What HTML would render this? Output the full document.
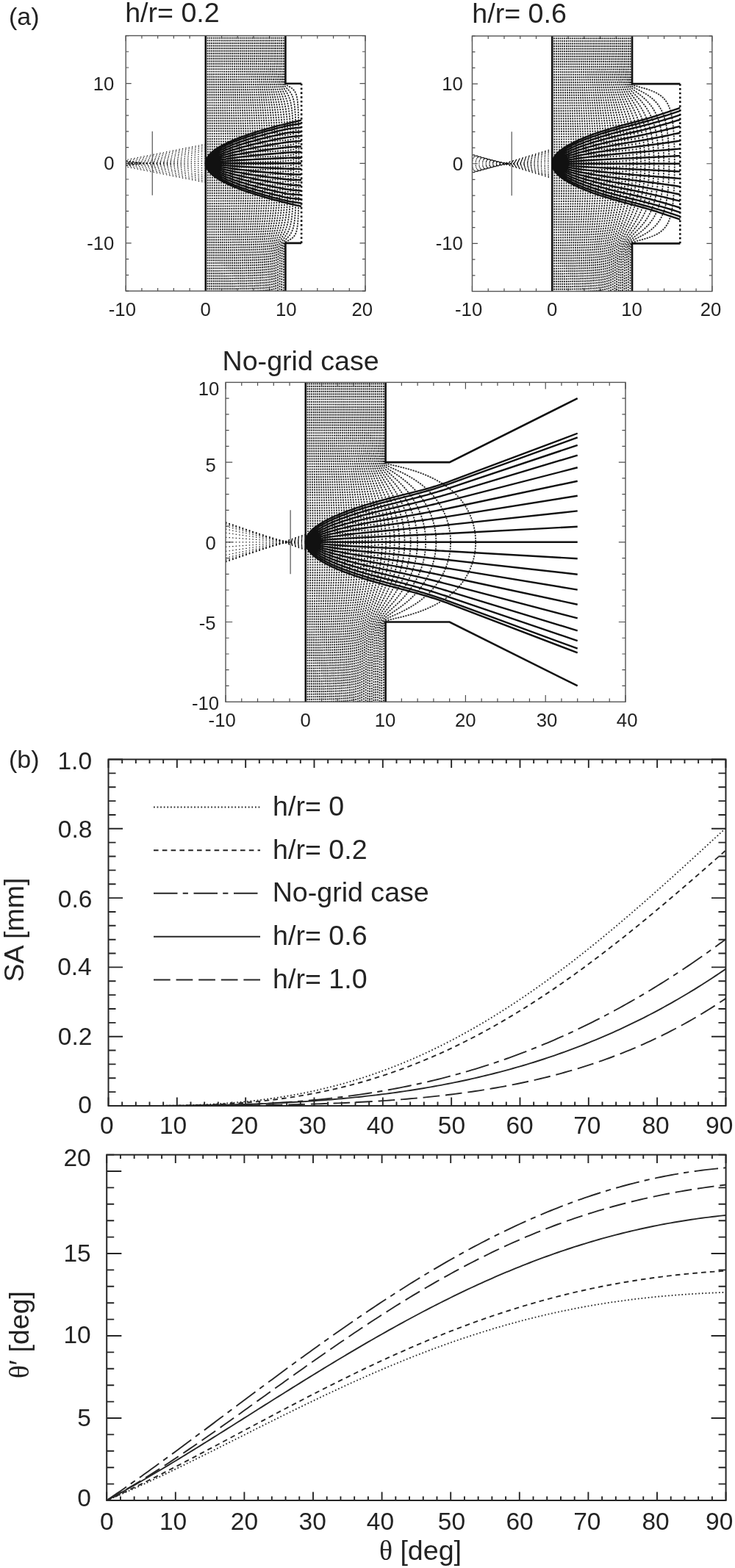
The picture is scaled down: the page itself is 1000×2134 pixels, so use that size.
<!DOCTYPE html><html><head><meta charset="utf-8"><title>figure</title><style>html,body{margin:0;padding:0;background:#fff;}svg{display:block;}</style></head><body><svg width="1000" height="2134" viewBox="0 0 1000 2134">
<rect width="1000" height="2134" fill="#fff"/>
<path d="M192.92 396.06v-4M192.92 48.54v4M214.64 396.06v-4M214.64 48.54v4M236.36 396.06v-4M236.36 48.54v4M258.08 396.06v-4M258.08 48.54v4M301.52 396.06v-4M301.52 48.54v4M323.24 396.06v-4M323.24 48.54v4M344.96 396.06v-4M344.96 48.54v4M366.68 396.06v-4M366.68 48.54v4M410.12 396.06v-4M410.12 48.54v4M431.84 396.06v-4M431.84 48.54v4M453.56 396.06v-4M453.56 48.54v4M475.28 396.06v-4M475.28 48.54v4" stroke="#505050" stroke-width="1.2" fill="none"/>
<path d="M171.2 396.06v-7.5M171.2 48.54v7.5M279.8 396.06v-7.5M279.8 48.54v7.5M388.4 396.06v-7.5M388.4 48.54v7.5M497 396.06v-7.5M497 48.54v7.5" stroke="#505050" stroke-width="1.2" fill="none"/>
<path d="M171.2 396.06h4M497 396.06h-4M171.2 374.34h4M497 374.34h-4M171.2 352.62h4M497 352.62h-4M171.2 309.18h4M497 309.18h-4M171.2 287.46h4M497 287.46h-4M171.2 265.74h4M497 265.74h-4M171.2 244.02h4M497 244.02h-4M171.2 200.58h4M497 200.58h-4M171.2 178.86h4M497 178.86h-4M171.2 157.14h4M497 157.14h-4M171.2 135.42h4M497 135.42h-4M171.2 91.98h4M497 91.98h-4M171.2 70.26h4M497 70.26h-4M171.2 48.54h4M497 48.54h-4" stroke="#505050" stroke-width="1.2" fill="none"/>
<path d="M171.2 330.9h7.5M497 330.9h-7.5M171.2 222.3h7.5M497 222.3h-7.5M171.2 113.7h7.5M497 113.7h-7.5" stroke="#505050" stroke-width="1.2" fill="none"/>
<clipPath id="clip_p1"><rect x="171.2" y="48.54" width="325.8" height="347.52"/></clipPath>
<g clip-path="url(#clip_p1)">
<path d="M282.57 48.54L282.83 222.3 282.57 396.06 M285.34 48.54L285.86 222.3 285.34 396.06 M288.1 48.54L288.9 222.3 288.1 396.06 M290.87 48.54L291 92.52 291.77 178.86 291.93 222.3 291.77 265.74 291 352.08 290.87 396.06 M293.64 48.54L293.8 92.52 294.77 178.86 294.97 222.3 294.77 265.74 293.8 352.08 293.64 396.06 M296.4 48.54L296.6 92.52 297.77 178.86 298.02 222.3 297.77 265.74 296.6 352.08 296.4 396.06 M299.17 48.54L299.4 93.07 300.77 178.32 301.07 222.3 300.77 266.28 299.4 351.53 299.17 396.06 M301.93 48.54L302.2 93.07 303.78 178.32 304.12 222.3 303.78 266.28 302.2 351.53 301.93 396.06 M304.69 48.54L305 93.07 306.8 178.32 307.18 222.3 306.8 266.28 305 351.53 304.69 396.06 M307.45 48.54L307.79 93.07 309.82 178.32 310.25 222.3 309.82 266.28 307.79 351.53 307.45 396.06 M310.2 48.54L310.58 93.07 312.84 177.77 313.33 222.3 312.84 266.83 310.58 351.53 310.2 396.06 M312.95 48.54L313.38 93.61 315.88 177.77 316.28 200.04 316.41 222.3 316.28 244.56 315.88 266.83 313.38 350.99 312.95 396.06 M315.7 48.54L315.82 71.89 316.17 93.61 318.91 177.23 319.36 200.04 319.51 222.3 319.36 244.56 318.91 267.37 316.17 350.99 315.82 372.71 315.7 396.06 M318.45 48.54L318.58 71.89 318.96 93.61 319.61 115.33 321.97 177.23 322.46 200.04 322.62 222.3 322.46 244.56 321.97 267.37 319.61 329.27 318.96 350.99 318.58 372.71 318.45 396.06 M321.19 48.54L321.33 71.89 321.75 94.15 322.46 115.33 325.02 176.69 325.56 199.49 325.74 222.3 325.56 245.11 325.02 267.91 322.46 329.27 321.75 350.45 321.33 372.71 321.19 396.06 M323.93 48.54L324.09 72.43 324.53 94.15 325.3 115.33 328.1 176.69 328.68 199.49 328.87 222.3 328.68 245.11 328.1 267.91 325.3 329.27 324.53 350.45 324.09 372.17 323.93 396.06 M326.67 48.54L326.83 72.43 327.31 94.15 328.14 115.33 330.32 156.6 331.17 176.15 331.81 198.95 332.02 222.3 331.81 245.65 331.17 268.46 330.32 288 328.14 329.27 327.31 350.45 326.83 372.17 326.67 396.06 M329.4 48.54L329.58 72.98 330.1 94.7 330.98 115.33 333.33 156.05 334.26 175.6 334.96 198.95 335.19 222.3 334.96 245.65 334.26 269 333.33 288.55 330.98 329.27 330.1 349.91 329.58 371.63 329.4 396.06 M332.13 48.54L332.32 72.98 332.87 94.7 333.82 115.33 336.35 155.51 337.36 175.06 338.12 198.41 338.37 222.3 338.12 246.19 337.36 269.54 336.35 289.09 333.82 329.27 332.87 349.91 332.32 371.63 332.13 396.06 M334.85 48.54L335.06 73.52 335.66 95.24 336.66 115.33 339.39 154.97 340.48 174.52 341.29 197.87 341.57 222.3 341.29 246.74 340.48 270.08 339.39 289.63 336.66 329.27 335.66 349.36 335.06 371.08 334.85 396.06 M337.57 48.54L337.78 73.52 338.42 95.24 339.5 115.33 342.43 154.43 343.61 173.97 344.5 197.87 344.79 222.3 344.5 246.74 343.61 270.63 342.43 290.18 339.5 329.27 338.42 349.36 337.78 371.08 337.57 396.06 M340.29 48.54L340.52 74.06 341.19 95.78 342.34 115.33 345.49 153.88 346.76 173.43 347.71 197.32 348.03 222.3 347.71 247.28 346.76 271.17 345.49 290.72 342.34 329.27 341.19 348.82 340.52 370.54 340.29 396.06 M342.99 48.54L343.24 74.6 343.97 96.32 345.17 115.33 348.52 152.8 349.91 172.34 350.94 196.78 351.29 222.3 350.94 247.82 349.91 272.26 348.52 291.8 345.17 329.27 343.97 348.28 343.24 370 342.99 396.06 M345.7 48.54L345.95 74.6 346.71 96.32 347.96 114.79 351.6 152.25 353.1 171.8 354.2 196.24 354.57 222.3 354.2 248.36 353.1 272.8 351.6 292.35 347.96 329.81 346.71 348.28 345.95 370 345.7 396.06 M348.4 48.54L348.67 75.15 349.47 96.87 350.78 114.79 354.66 151.17 356.29 170.72 357.46 195.15 357.87 222.3 357.46 249.45 356.29 273.89 354.66 293.43 350.78 329.81 349.47 347.73 348.67 369.45 348.4 396.06 M351.09 48.54L351.38 75.69 352.22 97.41 353.6 114.79 357.79 150.62 359.49 169.63 360.23 181.58 360.77 194.61 361.2 222.3 360.77 249.99 360.23 263.03 359.49 274.97 357.79 293.98 353.6 329.81 352.22 347.19 351.38 368.91 351.09 396.06 M353.78 48.54L354.08 76.23 354.94 97.41 356.41 114.79 360.89 149.54 362.73 168.54 363.51 180.49 364.08 193.52 364.43 207.64 364.55 222.3 364.43 236.96 364.08 251.08 363.51 264.11 362.73 276.06 360.89 295.06 356.41 329.81 354.94 347.19 354.08 368.37 353.78 396.06 M356.47 48.54L356.78 76.78 357.67 97.95 359.22 114.79 363.94 147.91 365.95 166.91 366.82 179.4 367.42 192.44 367.8 207.1 367.93 222.3 367.8 237.5 367.42 252.17 366.82 265.2 365.95 277.69 363.94 296.69 359.22 329.81 357.67 346.65 356.78 367.82 356.47 396.06 M359.15 48.54L359.46 77.32 360.4 98.5 361.08 106.64 362.02 114.79 367.08 146.82 368.27 156.05 369.25 165.83 370.13 177.77 370.79 191.35 371.2 206.55 371.33 222.3 371.2 238.05 370.79 253.25 370.13 266.83 369.25 278.77 368.27 288.55 367.08 297.78 362.02 329.81 361.08 337.96 360.4 346.1 359.46 367.28 359.15 396.06 M361.83 48.54L362.14 77.86 362.54 89.27 363.11 99.04 363.84 107.18 364.8 114.79 370.25 145.74 371.54 154.97 372.55 164.2 373.52 176.69 374.19 190.26 374.61 205.47 374.76 222.3 374.61 239.13 374.19 254.34 373.52 267.91 372.55 280.4 371.54 289.63 370.25 298.86 364.8 329.81 363.84 337.42 363.11 345.56 362.54 355.34 362.14 366.74 361.83 396.06 M364.5 48.54L364.83 78.95 365.23 90.35 365.84 100.13 366.59 107.73 367.57 114.79 373.38 144.11 374.73 152.8 375.83 162.03 376.87 174.52 377.6 188.63 378.06 204.92 378.21 222.3 378.06 239.68 377.6 255.97 376.87 270.08 375.83 282.57 374.73 291.8 373.38 300.49 367.57 329.81 366.59 336.87 365.84 344.48 365.23 354.25 364.83 365.65 364.5 396.06 M367.16 48.54L367.5 80.03 367.92 91.44 368.52 100.67 369.32 108.27 370.32 114.79 371.65 121.3 376.54 142.48 378.03 151.17 379.21 160.4 380.29 172.89 381.05 187.01 381.52 203.84 381.69 222.3 381.52 240.76 381.05 257.6 380.29 271.71 379.21 284.2 378.03 293.43 376.54 302.12 371.65 323.3 370.32 329.81 369.32 336.33 368.52 343.93 367.92 353.16 367.5 364.57 367.16 396.06 M369.83 48.54L370.17 81.12 370.59 92.52 371.17 101.21 371.95 108.27 373.04 114.79 374.43 120.76 378.04 133.79 379.75 140.85 381.31 149 382.59 158.23 383.73 170.72 384.53 185.38 385.02 202.75 385.19 222.3 385.02 241.85 384.53 259.22 383.73 273.89 382.59 286.37 381.31 295.61 379.75 303.75 378.04 310.81 374.43 323.84 373.04 329.81 371.95 336.33 371.17 343.39 370.59 352.08 370.17 363.48 369.83 396.06 M372.49 48.54L372.82 82.21 373.23 93.61 373.83 102.3 374.61 108.81 375.73 114.79 377.18 120.22 381.07 132.16 382.91 138.68 384.67 146.82 385.98 155.51 387.19 168 388.01 182.66 388.53 201.12 388.7 222.3 388.53 243.48 388.01 261.94 387.19 276.6 385.98 289.09 384.67 297.78 382.91 305.92 381.07 312.44 377.18 324.38 375.73 329.81 374.61 335.79 373.83 342.3 373.23 350.99 372.82 362.39 372.49 396.06 M375.15 48.54L375.25 70.8 375.56 87.09 376.07 98.5 376.9 107.18 377.73 112.07 379 116.96 384.56 131.62 386.9 139.22 388.82 148.45 390.2 159.31 391.11 171.26 391.72 185.38 392.11 202.75 392.24 222.3 392.11 241.85 391.72 259.22 391.11 273.34 390.2 285.29 388.82 296.15 386.9 305.38 384.56 312.98 379 327.64 377.73 332.53 376.9 337.42 376.07 346.1 375.56 357.51 375.25 373.8 375.15 396.06 M377.8 48.54L377.9 71.89 378.19 88.72 378.69 100.13 379.51 108.27 380.48 113.16 381.7 116.96 387.63 129.45 390.24 136.51 391.39 140.85 392.29 145.19 393.71 155.51 394.61 166.91 395.26 181.58 395.65 200.04 395.8 222.3 395.65 244.56 395.26 263.03 394.61 277.69 393.71 289.09 392.29 299.41 391.39 303.75 390.24 308.09 387.63 315.15 381.7 327.64 380.48 331.44 379.51 336.33 378.69 344.48 378.19 355.88 377.9 372.71 377.8 396.06 M380.45 48.54L380.8 90.89 381.25 101.75 382.04 109.36 382.87 113.16 384.12 116.42 385.69 119.19 390.89 127.28 392.27 129.99 393.61 133.25 394.81 137.05 395.73 140.85 396.6 145.74 397.3 151.17 398.21 162.57 398.85 177.77 399.23 197.87 399.36 222.3 399.23 246.74 398.85 266.83 398.21 282.03 397.3 293.43 396.6 298.86 395.73 303.75 394.81 307.55 393.61 311.35 392.27 314.61 390.89 317.33 385.69 325.41 384.12 328.19 382.87 331.44 382.04 335.24 381.25 342.85 380.8 353.71 380.45 396.06 M383.1 48.54L383.41 94.15 383.81 104.47 384.54 110.99 385.26 113.7 386.38 115.87 387.86 117.69 393.42 123.47 395.39 126.19 396.9 128.9 398.24 132.16 399.35 135.96 400.24 140.31 400.99 145.74 401.89 157.14 402.47 172.34 402.82 194.06 402.94 222.3 402.82 250.54 402.47 272.26 401.89 287.46 400.99 298.86 400.24 304.29 399.35 308.64 398.24 312.44 396.9 315.7 395.39 318.41 393.42 321.13 387.86 326.91 386.38 328.73 385.26 330.9 384.54 333.62 383.81 340.13 383.41 350.45 383.1 396.06 M385.75 48.54L385.96 97.95 386.27 107.73 386.83 112.61 387.46 114.24 388.4 115.2 393.79 118.04 396.47 119.67 398.51 121.3 400.43 123.47 401.98 126.07 403.09 128.9 404.06 132.71 404.82 137.59 405.64 147.91 406.15 163.66 406.43 187.55 406.53 222.3 406.43 257.05 406.15 280.94 405.64 296.69 404.82 307.01 404.06 311.9 403.09 315.7 401.98 318.53 400.43 321.13 398.51 323.3 396.47 324.93 393.79 326.56 388.4 329.4 387.46 330.36 386.83 331.99 386.27 336.87 385.96 346.65 385.75 396.06" fill="none" stroke="#2a2a2a" stroke-width="1.8" stroke-dasharray="2.2 1.32" stroke-dashoffset="1.41"/>
<path d="M279.8 222.3L171.2 222.3" fill="none" stroke="#111" stroke-width="1.2" stroke-dasharray="1.3 3.4"/>
<path d="M279.8 218.92L171.2 223.91" fill="none" stroke="#111" stroke-width="1.2" stroke-dasharray="1.3 3.4"/>
<path d="M279.8 225.68L171.2 220.69" fill="none" stroke="#111" stroke-width="1.2" stroke-dasharray="1.3 3.4"/>
<path d="M279.8 215.49L171.2 225.15" fill="none" stroke="#111" stroke-width="1.2" stroke-dasharray="1.3 3.4"/>
<path d="M279.8 229.11L171.2 219.45" fill="none" stroke="#111" stroke-width="1.2" stroke-dasharray="1.3 3.4"/>
<path d="M279.8 212.16L171.2 225.67" fill="none" stroke="#111" stroke-width="1.2" stroke-dasharray="1.3 3.39"/>
<path d="M279.8 232.44L171.2 218.93" fill="none" stroke="#111" stroke-width="1.2" stroke-dasharray="1.3 3.39"/>
<path d="M279.8 208.83L171.2 225.39" fill="none" stroke="#111" stroke-width="1.2" stroke-dasharray="1.3 3.37"/>
<path d="M279.8 235.77L171.2 219.21" fill="none" stroke="#111" stroke-width="1.2" stroke-dasharray="1.3 3.37"/>
<path d="M279.8 205.7L171.2 224.38" fill="none" stroke="#111" stroke-width="1.2" stroke-dasharray="1.3 3.33"/>
<path d="M279.8 238.9L171.2 220.22" fill="none" stroke="#111" stroke-width="1.2" stroke-dasharray="1.3 3.33"/>
<path d="M279.8 203.23L171.2 223.11" fill="none" stroke="#111" stroke-width="1.2" stroke-dasharray="1.3 3.3"/>
<path d="M279.8 241.37L171.2 221.49" fill="none" stroke="#111" stroke-width="1.2" stroke-dasharray="1.3 3.3"/>
<path d="M279.8 200.58L171.2 221.35" fill="none" stroke="#111" stroke-width="1.2" stroke-dasharray="1.3 3.25"/>
<path d="M279.8 244.02L171.2 223.25" fill="none" stroke="#111" stroke-width="1.2" stroke-dasharray="1.3 3.25"/>
<path d="M279.8 198.17L171.2 219.44" fill="none" stroke="#111" stroke-width="1.2" stroke-dasharray="1.3 3.2"/>
<path d="M279.8 246.43L171.2 225.16" fill="none" stroke="#111" stroke-width="1.2" stroke-dasharray="1.3 3.2"/>
<path d="M279.8 196.24L171.2 217.74" fill="none" stroke="#111" stroke-width="1.2" stroke-dasharray="1.3 3.16"/>
<path d="M279.8 248.36L171.2 226.86" fill="none" stroke="#111" stroke-width="1.2" stroke-dasharray="1.3 3.16"/>
<path d="M207.26 178.86V265.74" stroke="#555" stroke-width="1.2"/>
<path d="M279.8 222.3L279.84 222.3 279.92 222.3 280.03 222.3 280.16 222.3 280.32 222.3 280.5 222.3 280.7 222.3 280.92 222.3 281.16 222.3 281.43 222.3 281.71 222.3 282.02 222.3 282.35 222.3 282.69 222.3 283.07 222.3 283.46 222.3 283.88 222.3 284.32 222.3 284.79 222.3 285.28 222.3 285.8 222.3 286.34 222.3 286.91 222.3 287.51 222.3 288.13 222.3 288.79 222.3 289.48 222.3 290.19 222.3 290.94 222.3 291.72 222.3 292.53 222.3 293.38 222.3 294.26 222.3 295.18 222.3 296.13 222.3 297.12 222.3 298.15 222.3 299.22 222.3 300.32 222.3 301.47 222.3 302.66 222.3 303.89 222.3 305.17 222.3 306.49 222.3 307.86 222.3 309.27 222.3 310.73 222.3 312.24 222.3 313.79 222.3 315.4 222.3 317.06 222.3 318.77 222.3 320.53 222.3 322.35 222.3 324.22 222.3 326.15 222.3 328.14 222.3 330.18 222.3 332.29 222.3 334.45 222.3 336.68 222.3 338.96 222.3 341.31 222.3 343.73 222.3 346.21 222.3 348.76 222.3 351.37 222.3 354.05 222.3 356.81 222.3 359.63 222.3 362.52 222.3 365.49 222.3 368.53 222.3 371.65 222.3 374.84 222.3 378.11 222.3 381.46 222.3 384.89 222.3 388.4 222.3 389.15 222.3 389.9 222.3 390.65 222.3 391.4 222.3 392.14 222.3 392.89 222.3 393.64 222.3 394.39 222.3 395.14 222.3 395.89 222.3 396.64 222.3 397.39 222.3 398.14 222.3 398.89 222.3 399.63 222.3 400.38 222.3 401.13 222.3 401.88 222.3 402.63 222.3 403.38 222.3 404.13 222.3 404.88 222.3 405.63 222.3 406.38 222.3 407.12 222.3 407.87 222.3 408.62 222.3 409.37 222.3 410.12 222.3 M279.8 222.3L279.84 222.29 279.92 222.28 280.02 222.26 280.16 222.24 280.31 222.21 280.49 222.18 280.69 222.15 280.91 222.11 281.15 222.07 281.41 222.03 281.69 221.99 281.99 221.94 282.32 221.89 282.67 221.84 283.04 221.79 283.43 221.73 283.84 221.67 284.28 221.61 284.74 221.55 285.23 221.49 285.75 221.42 286.29 221.35 286.85 221.28 287.45 221.21 288.07 221.14 288.72 221.06 289.4 220.99 290.12 220.91 290.86 220.83 291.64 220.75 292.45 220.66 293.29 220.58 294.17 220.49 295.08 220.4 296.03 220.31 297.02 220.22 298.05 220.13 299.11 220.03 300.22 219.94 301.36 219.84 302.55 219.74 303.78 219.64 305.06 219.54 306.37 219.43 307.74 219.33 309.15 219.22 310.61 219.11 312.12 219.01 313.67 218.89 315.28 218.78 316.94 218.67 318.65 218.56 320.41 218.44 322.23 218.32 324.1 218.2 326.03 218.08 328.02 217.96 330.07 217.84 332.17 217.72 334.34 217.59 336.57 217.47 338.86 217.34 341.21 217.21 343.63 217.08 346.11 216.95 348.66 216.82 351.28 216.68 353.97 216.55 356.73 216.41 359.56 216.27 362.46 216.14 365.43 216 368.48 215.86 371.61 215.71 374.81 215.57 378.09 215.43 381.44 215.28 384.88 215.14 388.4 214.99 389.15 214.96 389.9 214.93 390.65 214.91 391.4 214.89 392.14 214.87 392.89 214.85 393.64 214.83 394.39 214.82 395.14 214.81 395.89 214.8 396.64 214.79 397.39 214.78 398.14 214.77 398.89 214.77 399.63 214.76 400.38 214.76 401.13 214.76 401.88 214.75 402.63 214.75 403.38 214.75 404.13 214.74 404.88 214.74 405.63 214.74 406.38 214.73 407.12 214.73 407.87 214.72 408.62 214.72 409.37 214.71 410.12 214.7 M279.8 222.3L279.84 222.31 279.92 222.32 280.02 222.34 280.16 222.36 280.31 222.39 280.49 222.42 280.69 222.45 280.91 222.49 281.15 222.53 281.41 222.57 281.69 222.61 281.99 222.66 282.32 222.71 282.67 222.76 283.04 222.81 283.43 222.87 283.84 222.93 284.28 222.99 284.74 223.05 285.23 223.11 285.75 223.18 286.29 223.25 286.85 223.32 287.45 223.39 288.07 223.46 288.72 223.54 289.4 223.61 290.12 223.69 290.86 223.77 291.64 223.85 292.45 223.94 293.29 224.02 294.17 224.11 295.08 224.2 296.03 224.29 297.02 224.38 298.05 224.47 299.11 224.57 300.22 224.66 301.36 224.76 302.55 224.86 303.78 224.96 305.06 225.06 306.37 225.17 307.74 225.27 309.15 225.38 310.61 225.49 312.12 225.59 313.67 225.71 315.28 225.82 316.94 225.93 318.65 226.04 320.41 226.16 322.23 226.28 324.1 226.4 326.03 226.52 328.02 226.64 330.07 226.76 332.17 226.88 334.34 227.01 336.57 227.13 338.86 227.26 341.21 227.39 343.63 227.52 346.11 227.65 348.66 227.78 351.28 227.92 353.97 228.05 356.73 228.19 359.56 228.33 362.46 228.46 365.43 228.6 368.48 228.74 371.61 228.89 374.81 229.03 378.09 229.17 381.44 229.32 384.88 229.46 388.4 229.61 389.15 229.64 389.9 229.67 390.65 229.69 391.4 229.71 392.14 229.73 392.89 229.75 393.64 229.77 394.39 229.78 395.14 229.79 395.89 229.8 396.64 229.81 397.39 229.82 398.14 229.83 398.89 229.83 399.63 229.84 400.38 229.84 401.13 229.84 401.88 229.85 402.63 229.85 403.38 229.85 404.13 229.86 404.88 229.86 405.63 229.86 406.38 229.87 407.12 229.87 407.87 229.88 408.62 229.88 409.37 229.89 410.12 229.9 M279.8 222.3L279.84 222.29 279.91 222.26 280.02 222.22 280.14 222.18 280.29 222.12 280.46 222.06 280.66 222 280.87 221.93 281.1 221.85 281.36 221.77 281.63 221.68 281.93 221.59 282.24 221.49 282.58 221.39 282.94 221.28 283.32 221.17 283.73 221.05 284.16 220.93 284.61 220.81 285.09 220.68 285.59 220.55 286.12 220.42 286.68 220.28 287.26 220.14 287.87 219.99 288.52 219.84 289.19 219.69 289.89 219.53 290.63 219.37 291.39 219.21 292.19 219.04 293.03 218.87 293.9 218.7 294.8 218.52 295.74 218.34 296.72 218.16 297.74 217.97 298.8 217.79 299.9 217.59 301.03 217.4 302.22 217.2 303.44 217 304.71 216.8 306.02 216.59 307.38 216.38 308.79 216.17 310.25 215.96 311.75 215.74 313.31 215.52 314.91 215.3 316.57 215.07 318.28 214.84 320.04 214.61 321.86 214.38 323.74 214.14 325.67 213.91 327.67 213.66 329.72 213.42 331.83 213.17 334 212.93 336.24 212.67 338.54 212.42 340.9 212.16 343.33 211.91 345.82 211.64 348.39 211.38 351.02 211.12 353.72 210.85 356.5 210.58 359.35 210.3 362.27 210.03 365.26 209.75 368.33 209.47 371.48 209.19 374.7 208.9 378 208.62 381.39 208.33 384.85 208.04 388.4 207.74 389.15 207.68 389.9 207.63 390.65 207.58 391.4 207.53 392.14 207.49 392.89 207.45 393.64 207.42 394.39 207.38 395.14 207.36 395.89 207.33 396.64 207.3 397.39 207.28 398.14 207.26 398.89 207.24 399.63 207.23 400.38 207.21 401.13 207.2 401.88 207.18 402.63 207.17 403.38 207.15 404.13 207.14 404.88 207.12 405.63 207.11 406.38 207.09 407.12 207.07 407.87 207.06 408.62 207.03 409.37 207.01 410.12 206.99 M279.8 222.3L279.84 222.31 279.91 222.34 280.02 222.38 280.14 222.42 280.29 222.48 280.46 222.54 280.66 222.6 280.87 222.67 281.1 222.75 281.36 222.83 281.63 222.92 281.93 223.01 282.24 223.11 282.58 223.21 282.94 223.32 283.32 223.43 283.73 223.55 284.16 223.67 284.61 223.79 285.09 223.92 285.59 224.05 286.12 224.18 286.68 224.32 287.26 224.46 287.87 224.61 288.52 224.76 289.19 224.91 289.89 225.07 290.63 225.23 291.39 225.39 292.19 225.56 293.03 225.73 293.9 225.9 294.8 226.08 295.74 226.26 296.72 226.44 297.74 226.63 298.8 226.81 299.9 227.01 301.03 227.2 302.22 227.4 303.44 227.6 304.71 227.8 306.02 228.01 307.38 228.22 308.79 228.43 310.25 228.64 311.75 228.86 313.31 229.08 314.91 229.3 316.57 229.53 318.28 229.76 320.04 229.99 321.86 230.22 323.74 230.46 325.67 230.69 327.67 230.94 329.72 231.18 331.83 231.43 334 231.67 336.24 231.93 338.54 232.18 340.9 232.44 343.33 232.69 345.82 232.96 348.39 233.22 351.02 233.48 353.72 233.75 356.5 234.02 359.35 234.3 362.27 234.57 365.26 234.85 368.33 235.13 371.48 235.41 374.7 235.7 378 235.98 381.39 236.27 384.85 236.56 388.4 236.86 389.15 236.92 389.9 236.97 390.65 237.02 391.4 237.07 392.14 237.11 392.89 237.15 393.64 237.18 394.39 237.22 395.14 237.24 395.89 237.27 396.64 237.3 397.39 237.32 398.14 237.34 398.89 237.36 399.63 237.37 400.38 237.39 401.13 237.4 401.88 237.42 402.63 237.43 403.38 237.45 404.13 237.46 404.88 237.48 405.63 237.49 406.38 237.51 407.12 237.53 407.87 237.54 408.62 237.57 409.37 237.59 410.12 237.61 M279.8 222.3L279.83 222.28 279.91 222.24 280 222.18 280.12 222.12 280.26 222.04 280.43 221.95 280.61 221.85 280.81 221.74 281.03 221.63 281.27 221.51 281.53 221.38 281.81 221.24 282.11 221.09 282.43 220.94 282.78 220.78 283.14 220.62 283.53 220.45 283.95 220.27 284.38 220.08 284.84 219.89 285.33 219.7 285.84 219.5 286.38 219.29 286.95 219.08 287.54 218.86 288.17 218.64 288.82 218.41 289.51 218.18 290.23 217.94 290.98 217.7 291.76 217.45 292.58 217.2 293.43 216.94 294.32 216.68 295.25 216.41 296.22 216.14 297.22 215.86 298.27 215.58 299.35 215.3 300.48 215.01 301.65 214.71 302.87 214.42 304.13 214.11 305.43 213.81 306.79 213.5 308.19 213.18 309.64 212.86 311.14 212.54 312.69 212.21 314.29 211.88 315.95 211.54 317.66 211.2 319.43 210.86 321.25 210.51 323.13 210.16 325.07 209.81 327.07 209.45 329.13 209.09 331.25 208.72 333.43 208.35 335.68 207.98 338 207.6 340.38 207.22 342.82 206.83 345.34 206.44 347.92 206.05 350.58 205.66 353.31 205.26 356.11 204.85 358.99 204.45 361.94 204.04 364.96 203.62 368.07 203.21 371.25 202.79 374.52 202.36 377.86 201.94 381.29 201.51 384.8 201.07 388.4 200.64 389.15 200.55 389.9 200.47 390.65 200.4 391.4 200.33 392.14 200.27 392.89 200.21 393.64 200.16 394.39 200.11 395.14 200.06 395.89 200.02 396.64 199.99 397.39 199.95 398.14 199.92 398.89 199.89 399.63 199.87 400.38 199.84 401.13 199.82 401.88 199.8 402.63 199.77 403.38 199.75 404.13 199.73 404.88 199.7 405.63 199.68 406.38 199.65 407.12 199.63 407.87 199.6 408.62 199.57 409.37 199.53 410.12 199.49 M279.8 222.3L279.83 222.32 279.91 222.36 280 222.42 280.12 222.48 280.26 222.56 280.43 222.65 280.61 222.75 280.81 222.86 281.03 222.97 281.27 223.09 281.53 223.22 281.81 223.36 282.11 223.51 282.43 223.66 282.78 223.82 283.14 223.98 283.53 224.15 283.95 224.33 284.38 224.52 284.84 224.71 285.33 224.9 285.84 225.1 286.38 225.31 286.95 225.52 287.54 225.74 288.17 225.96 288.82 226.19 289.51 226.42 290.23 226.66 290.98 226.9 291.76 227.15 292.58 227.4 293.43 227.66 294.32 227.92 295.25 228.19 296.22 228.46 297.22 228.74 298.27 229.02 299.35 229.3 300.48 229.59 301.65 229.89 302.87 230.18 304.13 230.49 305.43 230.79 306.79 231.1 308.19 231.42 309.64 231.74 311.14 232.06 312.69 232.39 314.29 232.72 315.95 233.06 317.66 233.4 319.43 233.74 321.25 234.09 323.13 234.44 325.07 234.79 327.07 235.15 329.13 235.51 331.25 235.88 333.43 236.25 335.68 236.62 338 237 340.38 237.38 342.82 237.77 345.34 238.16 347.92 238.55 350.58 238.94 353.31 239.34 356.11 239.75 358.99 240.15 361.94 240.56 364.96 240.98 368.07 241.39 371.25 241.81 374.52 242.24 377.86 242.66 381.29 243.09 384.8 243.53 388.4 243.96 389.15 244.05 389.9 244.13 390.65 244.2 391.4 244.27 392.14 244.33 392.89 244.39 393.64 244.44 394.39 244.49 395.14 244.54 395.89 244.58 396.64 244.61 397.39 244.65 398.14 244.68 398.89 244.71 399.63 244.73 400.38 244.76 401.13 244.78 401.88 244.8 402.63 244.83 403.38 244.85 404.13 244.87 404.88 244.9 405.63 244.92 406.38 244.95 407.12 244.97 407.87 245 408.62 245.03 409.37 245.07 410.12 245.11 M279.8 222.3L279.83 222.27 279.9 222.22 279.98 222.15 280.09 222.06 280.22 221.96 280.37 221.84 280.54 221.71 280.72 221.57 280.92 221.42 281.15 221.25 281.39 221.08 281.65 220.9 281.93 220.71 282.23 220.51 282.55 220.3 282.89 220.08 283.26 219.86 283.65 219.62 284.06 219.38 284.49 219.13 284.96 218.87 285.44 218.61 285.96 218.34 286.5 218.06 287.07 217.77 287.67 217.48 288.3 217.18 288.97 216.87 289.66 216.56 290.39 216.24 291.15 215.91 291.95 215.58 292.78 215.24 293.65 214.9 294.56 214.54 295.5 214.19 296.49 213.82 297.51 213.45 298.58 213.08 299.7 212.7 300.85 212.31 302.05 211.92 303.3 211.52 304.59 211.11 305.94 210.71 307.33 210.29 308.77 209.87 310.27 209.44 311.81 209.01 313.41 208.58 315.07 208.13 316.78 207.69 318.55 207.24 320.38 206.78 322.26 206.32 324.21 205.85 326.22 205.38 328.29 204.9 330.43 204.42 332.63 203.93 334.89 203.44 337.23 202.94 339.63 202.44 342.1 201.93 344.65 201.42 347.26 200.9 349.95 200.38 352.72 199.85 355.56 199.32 358.48 198.79 361.47 198.25 364.55 197.7 367.7 197.16 370.94 196.6 374.26 196.04 377.67 195.48 381.16 194.92 384.73 194.34 388.4 193.77 389.15 193.66 389.9 193.55 390.65 193.45 391.4 193.36 392.14 193.27 392.89 193.19 393.64 193.12 394.39 193.05 395.14 192.98 395.89 192.92 396.64 192.86 397.39 192.81 398.14 192.76 398.89 192.71 399.63 192.66 400.38 192.61 401.13 192.57 401.88 192.53 402.63 192.48 403.38 192.44 404.13 192.4 404.88 192.36 405.63 192.31 406.38 192.27 407.12 192.22 407.87 192.17 408.62 192.12 409.37 192.06 410.12 192 M279.8 222.3L279.83 222.33 279.9 222.38 279.98 222.45 280.09 222.54 280.22 222.64 280.37 222.76 280.54 222.89 280.72 223.03 280.92 223.18 281.15 223.35 281.39 223.52 281.65 223.7 281.93 223.89 282.23 224.09 282.55 224.3 282.89 224.52 283.26 224.74 283.65 224.98 284.06 225.22 284.49 225.47 284.96 225.73 285.44 225.99 285.96 226.26 286.5 226.54 287.07 226.83 287.67 227.12 288.3 227.42 288.97 227.73 289.66 228.04 290.39 228.36 291.15 228.69 291.95 229.02 292.78 229.36 293.65 229.7 294.56 230.06 295.5 230.41 296.49 230.78 297.51 231.15 298.58 231.52 299.7 231.9 300.85 232.29 302.05 232.68 303.3 233.08 304.59 233.49 305.94 233.89 307.33 234.31 308.77 234.73 310.27 235.16 311.81 235.59 313.41 236.02 315.07 236.47 316.78 236.91 318.55 237.36 320.38 237.82 322.26 238.28 324.21 238.75 326.22 239.22 328.29 239.7 330.43 240.18 332.63 240.67 334.89 241.16 337.23 241.66 339.63 242.16 342.1 242.67 344.65 243.18 347.26 243.7 349.95 244.22 352.72 244.75 355.56 245.28 358.48 245.81 361.47 246.35 364.55 246.9 367.7 247.44 370.94 248 374.26 248.56 377.67 249.12 381.16 249.68 384.73 250.26 388.4 250.83 389.15 250.94 389.9 251.05 390.65 251.15 391.4 251.24 392.14 251.33 392.89 251.41 393.64 251.48 394.39 251.55 395.14 251.62 395.89 251.68 396.64 251.74 397.39 251.79 398.14 251.84 398.89 251.89 399.63 251.94 400.38 251.99 401.13 252.03 401.88 252.07 402.63 252.12 403.38 252.16 404.13 252.2 404.88 252.24 405.63 252.29 406.38 252.33 407.12 252.38 407.87 252.43 408.62 252.48 409.37 252.54 410.12 252.6 M279.8 222.3L279.83 222.27 279.88 222.2 279.96 222.11 280.05 222 280.17 221.88 280.3 221.73 280.44 221.57 280.61 221.4 280.79 221.22 280.98 221.02 281.2 220.81 281.43 220.58 281.68 220.35 281.96 220.1 282.25 219.84 282.56 219.58 282.9 219.3 283.25 219.01 283.64 218.72 284.04 218.41 284.47 218.09 284.93 217.77 285.41 217.44 285.92 217.09 286.46 216.74 287.03 216.38 287.63 216.01 288.26 215.64 288.92 215.25 289.62 214.86 290.35 214.46 291.12 214.05 291.92 213.63 292.76 213.21 293.64 212.78 294.56 212.34 295.53 211.89 296.53 211.44 297.58 210.98 298.67 210.51 299.8 210.03 300.99 209.55 302.22 209.06 303.5 208.56 304.83 208.06 306.21 207.55 307.64 207.04 309.13 206.51 310.67 205.98 312.27 205.45 313.92 204.9 315.63 204.36 317.4 203.8 319.24 203.24 321.13 202.67 323.09 202.1 325.11 201.52 327.2 200.93 329.35 200.34 331.57 199.74 333.86 199.13 336.22 198.52 338.66 197.91 341.16 197.28 343.74 196.66 346.4 196.02 349.13 195.38 351.95 194.74 354.84 194.09 357.81 193.43 360.86 192.77 364 192.1 367.22 191.42 370.53 190.74 373.92 190.06 377.41 189.37 380.98 188.67 384.64 187.97 388.4 187.26 389.15 187.13 389.9 187 390.65 186.88 391.4 186.77 392.14 186.66 392.89 186.56 393.64 186.46 394.39 186.37 395.14 186.29 395.89 186.21 396.64 186.13 397.39 186.06 398.14 185.99 398.89 185.92 399.63 185.85 400.38 185.79 401.13 185.73 401.88 185.67 402.63 185.61 403.38 185.55 404.13 185.49 404.88 185.43 405.63 185.36 406.38 185.3 407.12 185.23 407.87 185.17 408.62 185.09 409.37 185.02 410.12 184.94 M279.8 222.3L279.83 222.33 279.88 222.4 279.96 222.49 280.05 222.6 280.17 222.72 280.3 222.87 280.44 223.03 280.61 223.2 280.79 223.38 280.98 223.58 281.2 223.79 281.43 224.02 281.68 224.25 281.96 224.5 282.25 224.76 282.56 225.02 282.9 225.3 283.25 225.59 283.64 225.88 284.04 226.19 284.47 226.51 284.93 226.83 285.41 227.16 285.92 227.51 286.46 227.86 287.03 228.22 287.63 228.59 288.26 228.96 288.92 229.35 289.62 229.74 290.35 230.14 291.12 230.55 291.92 230.97 292.76 231.39 293.64 231.82 294.56 232.26 295.53 232.71 296.53 233.16 297.58 233.62 298.67 234.09 299.8 234.57 300.99 235.05 302.22 235.54 303.5 236.04 304.83 236.54 306.21 237.05 307.64 237.56 309.13 238.09 310.67 238.62 312.27 239.15 313.92 239.7 315.63 240.24 317.4 240.8 319.24 241.36 321.13 241.93 323.09 242.5 325.11 243.08 327.2 243.67 329.35 244.26 331.57 244.86 333.86 245.47 336.22 246.08 338.66 246.69 341.16 247.32 343.74 247.94 346.4 248.58 349.13 249.22 351.95 249.86 354.84 250.51 357.81 251.17 360.86 251.83 364 252.5 367.22 253.18 370.53 253.86 373.92 254.54 377.41 255.23 380.98 255.93 384.64 256.63 388.4 257.34 389.15 257.47 389.9 257.6 390.65 257.72 391.4 257.83 392.14 257.94 392.89 258.04 393.64 258.14 394.39 258.23 395.14 258.31 395.89 258.39 396.64 258.47 397.39 258.54 398.14 258.61 398.89 258.68 399.63 258.75 400.38 258.81 401.13 258.87 401.88 258.93 402.63 258.99 403.38 259.05 404.13 259.11 404.88 259.17 405.63 259.24 406.38 259.3 407.12 259.37 407.87 259.43 408.62 259.51 409.37 259.58 410.12 259.66 M279.8 222.3L279.82 222.26 279.87 222.19 279.93 222.08 280.01 221.95 280.1 221.8 280.21 221.64 280.33 221.45 280.46 221.25 280.61 221.03 280.78 220.8 280.96 220.55 281.17 220.29 281.38 220.01 281.62 219.73 281.88 219.43 282.15 219.11 282.45 218.79 282.77 218.45 283.11 218.1 283.48 217.75 283.87 217.38 284.28 217 284.73 216.6 285.2 216.2 285.7 215.79 286.22 215.37 286.78 214.94 287.38 214.5 288 214.05 288.66 213.59 289.36 213.12 290.09 212.64 290.86 212.15 291.66 211.66 292.51 211.15 293.4 210.64 294.33 210.11 295.31 209.58 296.33 209.04 297.39 208.5 298.5 207.94 299.66 207.37 300.87 206.8 302.13 206.22 303.45 205.63 304.81 205.04 306.23 204.43 307.71 203.82 309.25 203.2 310.84 202.57 312.49 201.94 314.2 201.29 315.98 200.64 317.82 199.99 319.72 199.32 321.69 198.65 323.73 197.97 325.83 197.28 328.01 196.59 330.26 195.89 332.58 195.18 334.98 194.47 337.45 193.75 340 193.02 342.62 192.28 345.33 191.54 348.12 190.79 350.99 190.03 353.94 189.27 356.98 188.5 360.1 187.73 363.32 186.94 366.62 186.16 370.02 185.36 373.5 184.56 377.08 183.75 380.76 182.93 384.53 182.11 388.4 181.29 389.15 181.13 389.9 180.99 390.65 180.86 391.4 180.75 392.14 180.64 392.89 180.54 393.64 180.45 394.39 180.37 395.14 180.3 395.89 180.23 396.64 180.17 397.39 180.12 398.14 180.07 398.89 180.03 399.63 179.98 400.38 179.95 401.13 179.91 401.88 179.87 402.63 179.84 403.38 179.81 404.13 179.77 404.88 179.74 405.63 179.7 406.38 179.66 407.12 179.62 407.87 179.57 408.62 179.52 409.37 179.46 410.12 179.4 M279.8 222.3L279.82 222.34 279.87 222.41 279.93 222.52 280.01 222.65 280.1 222.8 280.21 222.96 280.33 223.15 280.46 223.35 280.61 223.57 280.78 223.8 280.96 224.05 281.17 224.31 281.38 224.59 281.62 224.87 281.88 225.17 282.15 225.49 282.45 225.81 282.77 226.15 283.11 226.5 283.48 226.85 283.87 227.22 284.28 227.6 284.73 228 285.2 228.4 285.7 228.81 286.22 229.23 286.78 229.66 287.38 230.1 288 230.55 288.66 231.01 289.36 231.48 290.09 231.96 290.86 232.45 291.66 232.94 292.51 233.45 293.4 233.96 294.33 234.49 295.31 235.02 296.33 235.56 297.39 236.1 298.5 236.66 299.66 237.23 300.87 237.8 302.13 238.38 303.45 238.97 304.81 239.56 306.23 240.17 307.71 240.78 309.25 241.4 310.84 242.03 312.49 242.66 314.2 243.31 315.98 243.96 317.82 244.61 319.72 245.28 321.69 245.95 323.73 246.63 325.83 247.32 328.01 248.01 330.26 248.71 332.58 249.42 334.98 250.13 337.45 250.85 340 251.58 342.62 252.32 345.33 253.06 348.12 253.81 350.99 254.57 353.94 255.33 356.98 256.1 360.1 256.87 363.32 257.66 366.62 258.44 370.02 259.24 373.5 260.04 377.08 260.85 380.76 261.67 384.53 262.49 388.4 263.31 389.15 263.47 389.9 263.61 390.65 263.74 391.4 263.85 392.14 263.96 392.89 264.06 393.64 264.15 394.39 264.23 395.14 264.3 395.89 264.37 396.64 264.43 397.39 264.48 398.14 264.53 398.89 264.57 399.63 264.62 400.38 264.65 401.13 264.69 401.88 264.73 402.63 264.76 403.38 264.79 404.13 264.83 404.88 264.86 405.63 264.9 406.38 264.94 407.12 264.98 407.87 265.03 408.62 265.08 409.37 265.14 410.12 265.2 M279.8 222.3L279.82 222.26 279.85 222.17 279.89 222.05 279.95 221.91 280.02 221.74 280.1 221.55 280.19 221.34 280.29 221.11 280.41 220.87 280.54 220.61 280.69 220.33 280.85 220.03 281.02 219.72 281.22 219.4 281.43 219.06 281.66 218.71 281.91 218.34 282.19 217.96 282.48 217.57 282.8 217.16 283.14 216.75 283.51 216.32 283.91 215.88 284.33 215.42 284.78 214.96 285.26 214.48 285.78 214 286.32 213.5 286.9 212.99 287.52 212.47 288.17 211.94 288.86 211.4 289.58 210.85 290.35 210.29 291.16 209.72 292.01 209.14 292.9 208.56 293.84 207.96 294.83 207.35 295.86 206.73 296.95 206.1 298.08 205.47 299.27 204.82 300.5 204.16 301.8 203.5 303.15 202.83 304.55 202.15 306.02 201.46 307.54 200.76 309.13 200.05 310.78 199.33 312.49 198.61 314.27 197.87 316.12 197.13 318.03 196.38 320.02 195.62 322.08 194.86 324.21 194.08 326.41 193.3 328.69 192.51 331.05 191.71 333.48 190.91 336 190.09 338.6 189.27 341.28 188.44 344.05 187.6 346.9 186.76 349.84 185.91 352.87 185.05 355.99 184.18 359.2 183.3 362.5 182.42 365.91 181.53 369.4 180.63 373 179.73 376.7 178.82 380.49 177.9 384.39 176.97 388.4 176.04 389.15 175.87 389.9 175.72 390.65 175.57 391.4 175.43 392.14 175.31 392.89 175.19 393.64 175.08 394.39 174.97 395.14 174.87 395.89 174.78 396.64 174.7 397.39 174.62 398.14 174.54 398.89 174.47 399.63 174.4 400.38 174.33 401.13 174.27 401.88 174.2 402.63 174.14 403.38 174.08 404.13 174.02 404.88 173.95 405.63 173.89 406.38 173.82 407.12 173.75 407.87 173.68 408.62 173.6 409.37 173.52 410.12 173.43 M279.8 222.3L279.82 222.34 279.85 222.43 279.89 222.55 279.95 222.69 280.02 222.86 280.1 223.05 280.19 223.26 280.29 223.49 280.41 223.73 280.54 223.99 280.69 224.27 280.85 224.57 281.02 224.88 281.22 225.2 281.43 225.54 281.66 225.89 281.91 226.26 282.19 226.64 282.48 227.03 282.8 227.44 283.14 227.85 283.51 228.28 283.91 228.72 284.33 229.18 284.78 229.64 285.26 230.12 285.78 230.6 286.32 231.1 286.9 231.61 287.52 232.13 288.17 232.66 288.86 233.2 289.58 233.75 290.35 234.31 291.16 234.88 292.01 235.46 292.9 236.04 293.84 236.64 294.83 237.25 295.86 237.87 296.95 238.5 298.08 239.13 299.27 239.78 300.5 240.44 301.8 241.1 303.15 241.77 304.55 242.45 306.02 243.14 307.54 243.84 309.13 244.55 310.78 245.27 312.49 245.99 314.27 246.73 316.12 247.47 318.03 248.22 320.02 248.98 322.08 249.74 324.21 250.52 326.41 251.3 328.69 252.09 331.05 252.89 333.48 253.69 336 254.51 338.6 255.33 341.28 256.16 344.05 257 346.9 257.84 349.84 258.69 352.87 259.55 355.99 260.42 359.2 261.3 362.5 262.18 365.91 263.07 369.4 263.97 373 264.87 376.7 265.78 380.49 266.7 384.39 267.63 388.4 268.56 389.15 268.73 389.9 268.88 390.65 269.03 391.4 269.17 392.14 269.29 392.89 269.41 393.64 269.52 394.39 269.63 395.14 269.73 395.89 269.82 396.64 269.9 397.39 269.98 398.14 270.06 398.89 270.13 399.63 270.2 400.38 270.27 401.13 270.33 401.88 270.4 402.63 270.46 403.38 270.52 404.13 270.58 404.88 270.65 405.63 270.71 406.38 270.78 407.12 270.85 407.87 270.92 408.62 271 409.37 271.08 410.12 271.17 M279.8 222.3L279.81 222.25 279.83 222.16 279.85 222.03 279.88 221.87 279.92 221.69 279.97 221.48 280.03 221.25 280.09 221 280.17 220.74 280.26 220.45 280.36 220.14 280.48 219.82 280.61 219.48 280.75 219.13 280.91 218.76 281.09 218.37 281.29 217.97 281.51 217.56 281.75 217.13 282.02 216.69 282.31 216.23 282.62 215.76 282.96 215.28 283.33 214.79 283.72 214.28 284.15 213.76 284.61 213.23 285.1 212.69 285.63 212.13 286.19 211.57 286.79 210.99 287.43 210.4 288.11 209.8 288.83 209.19 289.59 208.56 290.4 207.93 291.25 207.29 292.15 206.63 293.09 205.97 294.09 205.29 295.14 204.61 296.24 203.91 297.4 203.21 298.61 202.49 299.88 201.76 301.21 201.03 302.6 200.28 304.06 199.53 305.57 198.77 307.15 197.99 308.8 197.21 310.51 196.42 312.3 195.62 314.15 194.81 316.08 193.99 318.09 193.16 320.16 192.32 322.32 191.48 324.56 190.62 326.87 189.76 329.27 188.89 331.76 188.01 334.32 187.12 336.98 186.22 339.72 185.31 342.56 184.4 345.49 183.48 348.51 182.55 351.62 181.61 354.84 180.66 358.15 179.7 361.56 178.74 365.08 177.77 368.69 176.79 372.42 175.8 376.25 174.8 380.19 173.8 384.24 172.79 388.4 171.77 389.15 171.59 389.9 171.42 390.65 171.25 391.4 171.09 392.14 170.94 392.89 170.79 393.64 170.65 394.39 170.51 395.14 170.38 395.89 170.25 396.64 170.12 397.39 169.99 398.14 169.87 398.89 169.75 399.63 169.64 400.38 169.52 401.13 169.41 401.88 169.29 402.63 169.18 403.38 169.07 404.13 168.96 404.88 168.84 405.63 168.73 406.38 168.61 407.12 168.49 407.87 168.38 408.62 168.25 409.37 168.13 410.12 168 M279.8 222.3L279.81 222.35 279.83 222.44 279.85 222.57 279.88 222.73 279.92 222.91 279.97 223.12 280.03 223.35 280.09 223.6 280.17 223.86 280.26 224.15 280.36 224.46 280.48 224.78 280.61 225.12 280.75 225.47 280.91 225.84 281.09 226.23 281.29 226.63 281.51 227.04 281.75 227.47 282.02 227.91 282.31 228.37 282.62 228.84 282.96 229.32 283.33 229.81 283.72 230.32 284.15 230.84 284.61 231.37 285.1 231.91 285.63 232.47 286.19 233.03 286.79 233.61 287.43 234.2 288.11 234.8 288.83 235.41 289.59 236.04 290.4 236.67 291.25 237.31 292.15 237.97 293.09 238.63 294.09 239.31 295.14 239.99 296.24 240.69 297.4 241.39 298.61 242.11 299.88 242.84 301.21 243.57 302.6 244.32 304.06 245.07 305.57 245.83 307.15 246.61 308.8 247.39 310.51 248.18 312.3 248.98 314.15 249.79 316.08 250.61 318.09 251.44 320.16 252.28 322.32 253.12 324.56 253.98 326.87 254.84 329.27 255.71 331.76 256.59 334.32 257.48 336.98 258.38 339.72 259.29 342.56 260.2 345.49 261.12 348.51 262.05 351.62 262.99 354.84 263.94 358.15 264.9 361.56 265.86 365.08 266.83 368.69 267.81 372.42 268.8 376.25 269.8 380.19 270.8 384.24 271.81 388.4 272.83 389.15 273.01 389.9 273.18 390.65 273.35 391.4 273.51 392.14 273.66 392.89 273.81 393.64 273.95 394.39 274.09 395.14 274.22 395.89 274.35 396.64 274.48 397.39 274.61 398.14 274.73 398.89 274.85 399.63 274.96 400.38 275.08 401.13 275.19 401.88 275.31 402.63 275.42 403.38 275.53 404.13 275.64 404.88 275.76 405.63 275.87 406.38 275.99 407.12 276.11 407.87 276.22 408.62 276.35 409.37 276.47 410.12 276.6 M279.8 222.3L279.8 222.25 279.8 222.15 279.8 222.01 279.81 221.85 279.82 221.65 279.83 221.43 279.85 221.19 279.87 220.93 279.9 220.64 279.95 220.34 280 220.02 280.06 219.67 280.14 219.32 280.23 218.94 280.33 218.55 280.46 218.14 280.6 217.72 280.76 217.28 280.94 216.82 281.14 216.35 281.37 215.87 281.62 215.37 281.89 214.86 282.2 214.34 282.53 213.8 282.9 213.25 283.3 212.69 283.73 212.11 284.2 211.52 284.7 210.92 285.24 210.31 285.82 209.69 286.45 209.05 287.11 208.4 287.82 207.74 288.58 207.07 289.39 206.39 290.24 205.69 291.15 204.99 292.1 204.27 293.11 203.55 294.18 202.81 295.31 202.06 296.49 201.3 297.74 200.54 299.04 199.76 300.41 198.97 301.85 198.17 303.35 197.36 304.93 196.54 306.57 195.71 308.29 194.87 310.08 194.02 311.94 193.16 313.89 192.3 315.91 191.42 318.01 190.53 320.2 189.63 322.47 188.73 324.83 187.81 327.28 186.89 329.81 185.96 332.44 185.01 335.16 184.06 337.98 183.1 340.89 182.13 343.9 181.15 347.01 180.17 350.23 179.17 353.55 178.17 356.97 177.15 360.5 176.13 364.14 175.1 367.9 174.06 371.76 173.02 375.75 171.96 379.84 170.9 384.06 169.82 388.4 168.74 389.15 168.56 389.9 168.38 390.65 168.19 391.4 168.01 392.14 167.83 392.89 167.66 393.64 167.48 394.39 167.3 395.14 167.13 395.89 166.95 396.64 166.77 397.39 166.6 398.14 166.43 398.89 166.25 399.63 166.08 400.38 165.91 401.13 165.73 401.88 165.56 402.63 165.39 403.38 165.22 404.13 165.04 404.88 164.87 405.63 164.7 406.38 164.53 407.12 164.35 407.87 164.18 408.62 164.01 409.37 163.83 410.12 163.66 M279.8 222.3L279.8 222.35 279.8 222.45 279.8 222.59 279.81 222.75 279.82 222.95 279.83 223.17 279.85 223.41 279.87 223.67 279.9 223.96 279.95 224.26 280 224.58 280.06 224.93 280.14 225.28 280.23 225.66 280.33 226.05 280.46 226.46 280.6 226.88 280.76 227.32 280.94 227.78 281.14 228.25 281.37 228.73 281.62 229.23 281.89 229.74 282.2 230.26 282.53 230.8 282.9 231.35 283.3 231.91 283.73 232.49 284.2 233.08 284.7 233.68 285.24 234.29 285.82 234.91 286.45 235.55 287.11 236.2 287.82 236.86 288.58 237.53 289.39 238.21 290.24 238.91 291.15 239.61 292.1 240.33 293.11 241.05 294.18 241.79 295.31 242.54 296.49 243.3 297.74 244.06 299.04 244.84 300.41 245.63 301.85 246.43 303.35 247.24 304.93 248.06 306.57 248.89 308.29 249.73 310.08 250.58 311.94 251.44 313.89 252.3 315.91 253.18 318.01 254.07 320.2 254.97 322.47 255.87 324.83 256.79 327.28 257.71 329.81 258.64 332.44 259.59 335.16 260.54 337.98 261.5 340.89 262.47 343.9 263.45 347.01 264.43 350.23 265.43 353.55 266.43 356.97 267.45 360.5 268.47 364.14 269.5 367.9 270.54 371.76 271.58 375.75 272.64 379.84 273.7 384.06 274.78 388.4 275.86 389.15 276.04 389.9 276.22 390.65 276.41 391.4 276.59 392.14 276.77 392.89 276.94 393.64 277.12 394.39 277.3 395.14 277.47 395.89 277.65 396.64 277.83 397.39 278 398.14 278.17 398.89 278.35 399.63 278.52 400.38 278.69 401.13 278.87 401.88 279.04 402.63 279.21 403.38 279.38 404.13 279.56 404.88 279.73 405.63 279.9 406.38 280.07 407.12 280.25 407.87 280.42 408.62 280.59 409.37 280.77 410.12 280.94" fill="none" stroke="#111" stroke-width="2.4" stroke-linejoin="round"/>
<path d="M279.8 46.37V398.23M388.4 46.37V113.7H410.12M388.4 398.23V330.9H410.12" fill="none" stroke="#111" stroke-width="2.6" stroke-linejoin="miter"/>
<path d="M410.12 113.7V330.9" stroke="#111" stroke-width="2.6" stroke-dasharray="2.6 3.2"/>
</g>
<rect x="171.2" y="48.54" width="325.8" height="347.52" fill="none" stroke="#555" stroke-width="1.4"/>
<text x="170.17" y="30.4" font-size="37.6" font-family='"Liberation Sans", Arial, sans-serif' fill="#232323" >h/r= 0.2</text>
<text x="126.74" y="122.57" font-size="25.7" font-family='"Liberation Sans", Arial, sans-serif' fill="#232323" >10</text>
<text x="141.14" y="231.17" font-size="25.7" font-family='"Liberation Sans", Arial, sans-serif' fill="#232323" >0</text>
<text x="118.26" y="339.77" font-size="25.7" font-family='"Liberation Sans", Arial, sans-serif' fill="#232323" >-10</text>
<text x="147.81" y="429.6" font-size="25.7" font-family='"Liberation Sans", Arial, sans-serif' fill="#232323" >-10</text>
<text x="272.6" y="429.6" font-size="25.7" font-family='"Liberation Sans", Arial, sans-serif' fill="#232323" >0</text>
<text x="374.99" y="429.6" font-size="25.7" font-family='"Liberation Sans", Arial, sans-serif' fill="#232323" >10</text>
<text x="478.48" y="429.6" font-size="25.7" font-family='"Liberation Sans", Arial, sans-serif' fill="#232323" >20</text>
<path d="M664.21 396.51v-4M664.21 48.99v4M685.97 396.51v-4M685.97 48.99v4M707.73 396.51v-4M707.73 48.99v4M729.49 396.51v-4M729.49 48.99v4M773.01 396.51v-4M773.01 48.99v4M794.77 396.51v-4M794.77 48.99v4M816.53 396.51v-4M816.53 48.99v4M838.29 396.51v-4M838.29 48.99v4M881.81 396.51v-4M881.81 48.99v4M903.57 396.51v-4M903.57 48.99v4M925.33 396.51v-4M925.33 48.99v4M947.09 396.51v-4M947.09 48.99v4" stroke="#505050" stroke-width="1.2" fill="none"/>
<path d="M642.45 396.51v-7.5M642.45 48.99v7.5M751.25 396.51v-7.5M751.25 48.99v7.5M860.05 396.51v-7.5M860.05 48.99v7.5M968.85 396.51v-7.5M968.85 48.99v7.5" stroke="#505050" stroke-width="1.2" fill="none"/>
<path d="M642.45 396.51h4M968.85 396.51h-4M642.45 374.79h4M968.85 374.79h-4M642.45 353.07h4M968.85 353.07h-4M642.45 309.63h4M968.85 309.63h-4M642.45 287.91h4M968.85 287.91h-4M642.45 266.19h4M968.85 266.19h-4M642.45 244.47h4M968.85 244.47h-4M642.45 201.03h4M968.85 201.03h-4M642.45 179.31h4M968.85 179.31h-4M642.45 157.59h4M968.85 157.59h-4M642.45 135.87h4M968.85 135.87h-4M642.45 92.43h4M968.85 92.43h-4M642.45 70.71h4M968.85 70.71h-4M642.45 48.99h4M968.85 48.99h-4" stroke="#505050" stroke-width="1.2" fill="none"/>
<path d="M642.45 331.35h7.5M968.85 331.35h-7.5M642.45 222.75h7.5M968.85 222.75h-7.5M642.45 114.15h7.5M968.85 114.15h-7.5" stroke="#505050" stroke-width="1.2" fill="none"/>
<clipPath id="clip_p2"><rect x="642.45" y="48.99" width="326.4" height="347.52"/></clipPath>
<g clip-path="url(#clip_p2)">
<path d="M754.05 48.99L754.49 222.75 754.05 396.51 M756.84 48.99L756.97 97.86 757.74 222.75 756.97 347.64 756.84 396.51 M759.64 48.99L759.82 97.86 760.8 183.65 760.99 222.75 760.8 261.85 759.82 347.64 759.64 396.51 M762.43 48.99L762.68 97.86 763.99 183.65 764.25 222.75 763.99 261.85 762.68 347.64 762.43 396.51 M765.23 48.99L765.53 97.86 767.18 183.65 767.51 222.75 767.18 261.85 765.53 347.64 765.23 396.51 M768.02 48.99L768.4 98.4 770.39 183.65 770.78 222.75 770.39 261.85 768.4 347.1 768.02 396.51 M770.81 48.99L771.25 98.4 773.6 183.65 774.07 222.75 773.6 261.85 771.25 347.1 770.81 396.51 M773.6 48.99L773.72 74.51 774.1 98.4 776.83 183.65 777.23 203.75 777.36 222.75 777.23 241.76 776.83 261.85 774.1 347.1 773.72 370.99 773.6 396.51 M776.38 48.99L776.52 74.51 776.97 98.95 777.69 122.3 780.06 183.65 780.53 203.75 780.68 222.75 780.53 241.76 780.06 261.85 777.69 323.21 776.97 346.55 776.52 370.99 776.38 396.51 M779.16 48.99L779.32 74.51 779.82 98.95 780.65 122.84 783.32 183.65 783.84 203.75 784.01 222.75 783.84 241.76 783.32 261.85 780.65 322.66 779.82 346.55 779.32 370.99 779.16 396.51 M781.94 48.99L782.12 75.05 782.68 99.49 783.6 122.84 786.59 183.65 787.17 203.75 787.36 222.75 787.17 241.76 786.59 261.85 783.6 322.66 782.68 346.01 782.12 370.45 781.94 396.51 M784.71 48.99L784.91 75.05 785.53 99.49 786.54 122.84 789.88 183.65 790.53 203.75 790.74 222.75 790.53 241.76 789.88 261.85 786.54 322.66 785.53 346.01 784.91 370.45 784.71 396.51 M787.48 48.99L787.71 75.6 788.39 100.03 789.52 123.38 793.19 183.65 793.91 203.75 794.15 222.75 793.91 241.76 793.19 261.85 789.52 322.12 788.39 345.47 787.71 369.9 787.48 396.51 M790.24 48.99L790.5 76.14 791.25 100.58 792.47 123.38 795.45 165.74 796.53 183.65 797.32 203.75 797.58 222.75 797.32 241.76 796.53 261.85 795.45 279.77 792.47 322.12 791.25 344.93 790.5 369.36 790.24 396.51 M793 48.99L793.28 76.14 794.11 101.12 795.45 123.92 798.7 165.74 799.89 183.65 800.77 203.75 801.05 222.75 800.77 241.76 799.89 261.85 798.7 279.77 795.45 321.58 794.11 344.38 793.28 369.36 793 396.51 M795.76 48.99L796.06 76.68 796.95 101.12 798.41 123.92 801.99 165.74 803.29 183.65 804.25 203.75 804.56 222.75 804.25 241.76 803.29 261.85 801.99 279.77 798.41 321.58 796.95 344.38 796.06 368.82 795.76 396.51 M798.51 48.99L798.83 76.68 799.81 101.66 801.41 124.47 805.25 165.19 806.69 183.11 807.75 203.2 808.11 222.75 807.75 242.3 806.69 262.39 805.25 280.31 801.41 321.03 799.81 343.84 798.83 368.82 798.51 396.51 M801.25 48.99L801.6 77.23 802.66 102.2 804.37 124.47 808.58 165.19 810.16 183.11 811.32 203.2 811.7 222.75 811.32 242.3 810.16 262.39 808.58 280.31 804.37 321.03 802.66 343.3 801.6 368.27 801.25 396.51 M803.99 48.99L804.37 77.77 805.52 102.75 807.39 125.01 811.96 165.19 813.68 183.11 814.94 203.2 815.36 222.75 814.94 242.3 813.68 262.39 811.96 280.31 807.39 320.49 805.52 342.75 804.37 367.73 803.99 396.51 M806.72 48.99L807.13 78.31 807.65 91.34 808.37 103.29 810.37 125.01 815.37 165.19 817.25 183.11 818.61 203.2 819.07 222.75 818.61 242.3 817.25 262.39 815.37 280.31 810.37 320.49 808.37 342.21 807.65 354.16 807.13 367.19 806.72 396.51 M809.44 48.99L809.56 64.74 809.89 78.86 810.45 91.89 811.22 103.83 813.34 125.01 818.76 164.65 820.82 182.57 822.33 202.66 822.72 212.98 822.84 222.75 822.72 232.52 822.33 242.84 820.82 262.93 818.76 280.85 813.34 320.49 811.22 341.67 810.45 353.61 809.89 366.65 809.56 380.76 809.44 396.51 M812.16 48.99L812.28 64.74 812.64 79.4 813.24 92.43 814.07 104.38 815.07 114.69 816.39 125.55 822.26 164.65 824.51 182.57 825.48 192.89 826.14 202.66 826.56 212.98 826.69 222.75 826.56 232.52 826.14 242.84 825.48 252.62 824.51 262.93 822.26 280.85 816.39 319.95 815.07 330.81 814.07 341.12 813.24 353.07 812.64 366.1 812.28 380.76 812.16 396.51 M814.87 48.99L815 65.28 815.39 79.94 816.02 92.97 816.92 104.92 818 115.24 819.38 125.55 825.75 164.11 828.21 182.03 829.27 192.34 830.03 202.66 830.49 212.98 830.63 222.75 830.49 232.52 830.03 242.84 829.27 253.16 828.21 263.48 825.75 281.39 819.38 319.95 818 330.26 816.92 340.58 816.02 352.53 815.39 365.56 815 380.22 814.87 396.51 M817.58 48.99L817.72 65.82 818.12 80.48 818.79 93.52 819.76 105.46 820.87 115.24 822.37 125.55 829.28 163.56 831.99 181.48 833.15 191.8 833.98 202.12 834.49 212.43 834.66 222.75 834.49 233.07 833.98 243.38 833.15 253.7 831.99 264.02 829.28 281.94 822.37 319.95 820.87 330.26 819.76 340.04 818.79 351.98 818.12 365.02 817.72 379.68 817.58 396.51 M820.27 48.99L820.42 65.82 820.85 81.03 821.55 94.06 822.59 106.01 823.8 115.78 825.37 125.55 832.88 163.02 835.85 180.94 837.17 191.8 838.07 202.12 838.61 212.43 838.79 222.75 838.61 233.07 838.07 243.38 837.17 253.7 835.85 264.56 832.88 282.48 825.37 319.95 823.8 329.72 822.59 339.5 821.55 351.44 820.85 364.47 820.42 379.68 820.27 396.51 M822.96 48.99L823.13 66.91 823.59 82.11 824.34 95.15 825.42 106.55 826.66 115.78 828.37 125.55 836.45 161.93 838.36 171.71 839.81 180.4 841.26 191.26 842.24 201.57 842.83 211.89 843.04 222.75 842.83 233.61 842.24 243.93 841.26 254.24 839.81 265.1 838.36 273.79 836.45 283.57 828.37 319.95 826.66 329.72 825.42 338.95 824.34 350.36 823.59 363.39 823.13 378.59 822.96 396.51 M825.65 48.99L825.81 66.91 826.29 82.66 827.08 95.69 828.23 107.09 829.59 116.32 831.38 125.55 840.21 161.39 842.2 170.62 843.89 179.85 845.46 190.71 846.53 201.03 847.2 211.89 847.42 222.75 847.2 233.61 846.53 244.47 845.46 254.79 843.89 265.65 842.2 274.88 840.21 284.11 831.38 319.95 829.59 329.18 828.23 338.41 827.08 349.81 826.29 362.84 825.81 378.59 825.65 396.51 M828.32 48.99L828.49 67.45 828.99 83.2 829.81 96.23 831.04 107.63 832.53 116.87 834.4 125.55 836.5 133.7 843.94 160.31 846.14 169.54 848.01 178.77 849.74 189.63 850.96 200.49 851.7 211.35 851.96 222.75 851.7 234.15 850.96 245.01 849.74 255.87 848.01 266.73 846.14 275.96 843.94 285.2 836.5 311.8 834.4 319.95 832.53 328.64 831.04 337.87 829.81 349.27 828.99 362.3 828.49 378.05 828.32 396.51 M830.99 48.99L831.17 68 831.7 84.29 832.57 97.32 833.83 108.18 835.36 116.87 837.29 125.01 839.63 133.16 847.77 159.22 850.22 168.45 852.27 177.68 854.17 188.54 855.56 199.94 856.39 211.35 856.66 222.75 856.39 234.15 855.56 245.56 854.17 256.96 852.27 267.82 850.22 277.05 847.77 286.28 839.63 312.35 837.29 320.49 835.36 328.64 833.83 337.32 832.57 348.18 831.7 361.22 831.17 377.51 830.99 396.51 M833.66 48.99L833.85 69.08 834.39 85.37 835.26 97.86 836.6 108.72 838.17 116.87 840.16 124.47 842.64 132.2 848.83 149.45 851.74 158.13 854.45 167.36 856.71 176.6 858.86 188 860.36 199.4 861.24 210.8 861.55 222.75 861.24 234.7 860.36 246.1 858.86 257.5 856.71 268.91 854.45 278.14 851.74 287.37 848.83 296.06 842.64 313.3 840.16 321.03 838.17 328.64 836.6 336.78 835.26 347.64 834.39 360.13 833.85 376.42 833.66 396.51 M836.32 48.99L836.51 69.62 837.04 85.91 837.98 98.95 839.35 109.26 840.95 116.87 843.18 124.47 845.77 131.53 852.63 148.36 855.7 156.5 858.72 165.74 861.35 175.51 863.69 186.91 865.31 198.32 866.32 210.26 866.66 222.75 866.32 235.24 865.31 247.19 863.69 258.59 861.35 269.99 858.72 279.77 855.7 289 852.63 297.14 845.77 313.97 843.18 321.03 840.95 328.64 839.35 336.24 837.98 346.55 837.04 359.59 836.51 375.88 836.32 396.51 M838.97 48.99L839.16 70.17 839.71 87 840.62 99.49 842.07 109.81 843.7 116.87 845.91 123.59 848.63 130.16 856.11 146.19 859.61 154.33 863.03 163.56 865.97 173.34 868.57 184.74 870.51 197.23 871.63 209.72 872.01 222.75 871.63 235.78 870.51 248.27 868.57 260.76 865.97 272.16 863.03 281.94 859.61 291.17 856.11 299.31 848.63 315.34 845.91 321.91 843.7 328.64 842.07 335.69 840.62 346.01 839.71 358.5 839.16 375.33 838.97 396.51 M841.62 48.99L841.81 71.25 842.35 88.09 843.28 100.58 844.75 110.35 846.42 116.87 848.63 122.84 851.35 128.58 859.7 144.02 863.73 152.16 867.6 161.39 870.87 171.17 872.48 177.14 873.84 183.11 875.92 195.6 877.22 209.18 877.63 222.75 877.22 236.33 875.92 249.9 873.84 262.39 872.48 268.36 870.87 274.34 867.6 284.11 863.73 293.34 859.7 301.49 851.35 316.92 848.63 322.66 846.42 328.64 844.75 335.15 843.28 344.93 842.35 357.41 841.81 374.25 841.62 396.51 M844.26 48.99L844.45 72.34 845 89.72 845.91 101.66 846.56 106.55 847.38 110.89 849.09 116.87 851.35 122.16 854.61 127.98 864.14 142.93 868.13 149.99 872.51 159.22 876.12 168.99 877.88 174.97 879.34 180.94 880.64 187.46 881.66 193.97 882.5 201.03 883.08 208.09 883.55 222.75 883.08 237.41 882.5 244.47 881.66 251.53 880.64 258.05 879.34 264.56 877.88 270.53 876.12 276.51 872.51 286.28 868.13 295.51 864.14 302.57 854.61 317.52 851.35 323.34 849.09 328.64 847.38 334.61 846.56 338.95 845.91 343.84 845 355.79 844.45 373.16 844.26 396.51 M846.9 48.99L847.08 73.43 847.59 90.8 848.49 102.75 849.17 107.63 849.95 111.44 850.88 114.69 851.89 117.33 854.61 122.44 857.87 127.1 867.97 140.21 871.3 145.1 873.96 149.45 878.17 157.59 881.48 165.74 883.42 171.71 885.02 177.68 886.43 184.2 887.62 191.26 888.58 198.86 889.23 206.46 889.65 214.61 889.78 222.75 889.65 230.9 889.23 239.04 888.58 246.64 887.62 254.24 886.43 261.3 885.02 267.82 883.42 273.79 881.48 279.77 878.17 287.91 873.96 296.06 871.3 300.4 867.97 305.29 857.87 318.4 854.61 323.06 851.89 328.17 850.88 330.81 849.95 334.07 849.17 337.87 848.49 342.75 847.59 354.7 847.08 372.08 846.9 396.51 M849.53 48.99L849.7 74.51 850.18 92.43 851.07 104.38 851.7 108.72 852.42 111.98 853.29 114.69 854.23 116.87 855.47 119.04 857.01 121.21 860.05 124.73 871.78 136.96 874.98 140.76 878.23 145.1 881.06 149.45 883.23 153.25 885.38 157.59 887.23 161.93 889.36 167.91 891.23 174.42 892.81 181.48 894.02 188.54 895.05 196.69 895.75 204.83 896.19 213.52 896.34 222.75 896.19 231.98 895.75 240.67 895.05 248.81 894.02 256.96 892.81 264.02 891.23 271.08 889.36 277.59 887.23 283.57 885.38 287.91 883.23 292.25 881.06 296.06 878.23 300.4 874.98 304.74 871.78 308.54 860.05 320.77 857.01 324.29 855.47 326.46 854.23 328.64 853.29 330.81 852.42 333.52 851.7 336.78 851.07 341.12 850.18 353.07 849.7 370.99 849.53 396.51 M852.16 48.99L852.31 76.14 852.73 94.06 853.5 105.46 854.03 109.26 854.77 112.52 855.54 114.69 856.37 116.32 857.5 117.95 858.96 119.6 862.23 122.49 871.14 129.35 875.09 132.61 879.2 136.41 882.78 140.21 885.85 144.02 888.83 148.36 891.32 152.7 893.4 157.05 895.73 163.02 897.72 169.54 899.36 176.6 900.7 184.2 901.79 192.89 902.57 202.12 903.07 212.43 903.23 222.75 903.07 233.07 902.57 243.38 901.79 252.62 900.7 261.3 899.36 268.91 897.72 275.96 895.73 282.48 893.4 288.45 891.32 292.8 888.83 297.14 885.85 301.49 882.78 305.29 879.2 309.09 875.09 312.89 871.14 316.15 862.23 323.01 858.96 325.9 857.5 327.55 856.37 329.18 855.54 330.81 854.77 332.98 854.03 336.24 853.5 340.04 852.73 351.44 852.31 369.36 852.16 396.51 M854.79 48.99L854.91 77.77 855.25 96.23 855.88 107.09 856.31 110.35 856.93 113.06 857.59 114.69 858.28 115.78 860.59 117.91 863.86 119.89 873.71 125.01 878.48 127.73 883.44 130.98 887.62 134.24 891.62 138.04 894.86 141.84 897.84 146.19 900.21 150.53 902.74 156.5 904.79 163.02 906.44 170.08 907.82 178.22 908.9 187.46 909.73 198.32 910.24 210.26 910.41 222.75 910.24 235.24 909.73 247.19 908.9 258.05 907.82 267.28 906.44 275.42 904.79 282.48 902.74 289 900.21 294.97 897.84 299.31 894.86 303.66 891.62 307.46 887.62 311.26 883.44 314.52 878.48 317.78 873.71 320.49 863.86 325.61 860.59 327.59 858.28 329.72 857.59 330.81 856.93 332.44 856.31 335.15 855.88 338.41 855.25 349.27 854.91 367.73 854.79 396.51 M857.42 48.99L857.69 98.4 858.09 108.72 858.79 113.61 859.51 114.88 860.05 115.33 861.68 116.08 876.91 120.3 882.9 122.17 888.93 124.47 894.32 127.12 898.62 129.9 902.48 133.2 905.71 136.96 908.43 141.3 910.85 146.73 912.71 152.7 914.33 160.31 915.56 168.99 916.51 179.31 917.22 191.8 917.66 206.46 917.81 222.75 917.66 239.04 917.22 253.7 916.51 266.19 915.56 276.51 914.33 285.2 912.71 292.8 910.85 298.77 908.43 304.2 905.71 308.54 902.48 312.3 898.62 315.6 894.32 318.38 888.93 321.03 882.9 323.33 876.91 325.2 861.68 329.42 860.05 330.17 859.51 330.62 858.79 331.89 858.09 336.78 857.69 347.1 857.42 396.51" fill="none" stroke="#2a2a2a" stroke-width="1.8" stroke-dasharray="2.2 1.32" stroke-dashoffset="1.36"/>
<path d="M751.25 222.75L642.45 222.75" fill="none" stroke="#111" stroke-width="1.2" stroke-dasharray="1.3 3.4"/>
<path d="M751.25 219.91L642.45 225.5" fill="none" stroke="#111" stroke-width="1.2" stroke-dasharray="1.3 3.4"/>
<path d="M751.25 225.59L642.45 220" fill="none" stroke="#111" stroke-width="1.2" stroke-dasharray="1.3 3.4"/>
<path d="M751.25 217.38L642.45 227.83" fill="none" stroke="#111" stroke-width="1.2" stroke-dasharray="1.3 3.4"/>
<path d="M751.25 228.12L642.45 217.67" fill="none" stroke="#111" stroke-width="1.2" stroke-dasharray="1.3 3.4"/>
<path d="M751.25 214.51L642.45 230.22" fill="none" stroke="#111" stroke-width="1.2" stroke-dasharray="1.3 3.39"/>
<path d="M751.25 230.99L642.45 215.28" fill="none" stroke="#111" stroke-width="1.2" stroke-dasharray="1.3 3.39"/>
<path d="M751.25 211.64L642.45 232.24" fill="none" stroke="#111" stroke-width="1.2" stroke-dasharray="1.3 3.38"/>
<path d="M751.25 233.86L642.45 213.26" fill="none" stroke="#111" stroke-width="1.2" stroke-dasharray="1.3 3.38"/>
<path d="M751.25 209.26L642.45 233.56" fill="none" stroke="#111" stroke-width="1.2" stroke-dasharray="1.3 3.36"/>
<path d="M751.25 236.24L642.45 211.94" fill="none" stroke="#111" stroke-width="1.2" stroke-dasharray="1.3 3.36"/>
<path d="M751.25 206.91L642.45 234.52" fill="none" stroke="#111" stroke-width="1.2" stroke-dasharray="1.3 3.34"/>
<path d="M751.25 238.59L642.45 210.98" fill="none" stroke="#111" stroke-width="1.2" stroke-dasharray="1.3 3.34"/>
<path d="M751.25 205.24L642.45 234.98" fill="none" stroke="#111" stroke-width="1.2" stroke-dasharray="1.3 3.31"/>
<path d="M751.25 240.26L642.45 210.52" fill="none" stroke="#111" stroke-width="1.2" stroke-dasharray="1.3 3.31"/>
<path d="M751.25 203.75L642.45 235.23" fill="none" stroke="#111" stroke-width="1.2" stroke-dasharray="1.3 3.29"/>
<path d="M751.25 241.75L642.45 210.27" fill="none" stroke="#111" stroke-width="1.2" stroke-dasharray="1.3 3.29"/>
<path d="M751.25 202.66L642.45 235.33" fill="none" stroke="#111" stroke-width="1.2" stroke-dasharray="1.3 3.26"/>
<path d="M751.25 242.84L642.45 210.17" fill="none" stroke="#111" stroke-width="1.2" stroke-dasharray="1.3 3.26"/>
<path d="M696.2 179.31V266.19" stroke="#555" stroke-width="1.2"/>
<path d="M751.25 222.75L751.29 222.75 751.37 222.75 751.48 222.75 751.62 222.75 751.78 222.75 751.97 222.75 752.17 222.75 752.4 222.75 752.65 222.75 752.92 222.75 753.22 222.75 753.53 222.75 753.87 222.75 754.23 222.75 754.61 222.75 755.01 222.75 755.44 222.75 755.89 222.75 756.36 222.75 756.87 222.75 757.39 222.75 757.95 222.75 758.53 222.75 759.13 222.75 759.77 222.75 760.44 222.75 761.13 222.75 761.86 222.75 762.61 222.75 763.4 222.75 764.23 222.75 765.08 222.75 765.97 222.75 766.9 222.75 767.86 222.75 768.86 222.75 769.9 222.75 770.97 222.75 772.09 222.75 773.25 222.75 774.44 222.75 775.68 222.75 776.97 222.75 778.29 222.75 779.67 222.75 781.08 222.75 782.55 222.75 784.06 222.75 785.62 222.75 787.23 222.75 788.9 222.75 790.61 222.75 792.37 222.75 794.19 222.75 796.07 222.75 798 222.75 799.98 222.75 802.03 222.75 804.13 222.75 806.29 222.75 808.52 222.75 810.8 222.75 813.15 222.75 815.56 222.75 818.03 222.75 820.57 222.75 823.18 222.75 825.85 222.75 828.6 222.75 831.41 222.75 834.3 222.75 837.25 222.75 840.28 222.75 843.38 222.75 846.56 222.75 849.82 222.75 853.15 222.75 856.56 222.75 860.05 222.75 862.3 222.75 864.55 222.75 866.8 222.75 869.05 222.75 871.31 222.75 873.56 222.75 875.81 222.75 878.06 222.75 880.31 222.75 882.56 222.75 884.81 222.75 887.06 222.75 889.31 222.75 891.56 222.75 893.82 222.75 896.07 222.75 898.32 222.75 900.57 222.75 902.82 222.75 905.07 222.75 907.32 222.75 909.57 222.75 911.82 222.75 914.07 222.75 916.33 222.75 918.58 222.75 920.83 222.75 923.08 222.75 925.33 222.75 M751.25 222.75L751.29 222.74 751.37 222.73 751.48 222.71 751.62 222.69 751.78 222.66 751.96 222.63 752.16 222.59 752.39 222.56 752.64 222.52 752.91 222.47 753.2 222.43 753.51 222.38 753.84 222.33 754.2 222.28 754.57 222.22 754.97 222.16 755.4 222.1 755.85 222.04 756.32 221.98 756.82 221.91 757.34 221.85 757.89 221.78 758.47 221.7 759.07 221.63 759.7 221.55 760.37 221.48 761.06 221.4 761.78 221.32 762.53 221.23 763.32 221.15 764.14 221.06 764.99 220.98 765.88 220.89 766.8 220.79 767.76 220.7 768.76 220.61 769.79 220.51 770.87 220.41 771.98 220.31 773.14 220.21 774.33 220.11 775.57 220.01 776.85 219.9 778.17 219.8 779.55 219.69 780.96 219.58 782.43 219.47 783.94 219.35 785.5 219.24 787.11 219.13 788.77 219.01 790.48 218.89 792.25 218.77 794.07 218.65 795.95 218.53 797.88 218.41 799.87 218.28 801.91 218.15 804.01 218.03 806.18 217.9 808.4 217.77 810.69 217.64 813.04 217.5 815.45 217.37 817.93 217.24 820.48 217.1 823.09 216.96 825.77 216.82 828.52 216.68 831.34 216.54 834.23 216.4 837.19 216.25 840.23 216.11 843.34 215.96 846.53 215.82 849.79 215.67 853.13 215.52 856.55 215.37 860.05 215.22 862.3 215.12 864.55 215.02 866.8 214.92 869.05 214.82 871.31 214.72 873.56 214.62 875.81 214.52 878.06 214.41 880.31 214.31 882.56 214.2 884.81 214.1 887.06 213.99 889.31 213.88 891.56 213.77 893.82 213.66 896.07 213.55 898.32 213.44 900.57 213.33 902.82 213.21 905.07 213.09 907.32 212.98 909.57 212.86 911.82 212.74 914.07 212.62 916.33 212.5 918.58 212.38 920.83 212.25 923.08 212.13 925.33 212 M751.25 222.75L751.29 222.76 751.37 222.77 751.48 222.79 751.62 222.81 751.78 222.84 751.96 222.87 752.16 222.91 752.39 222.94 752.64 222.98 752.91 223.03 753.2 223.07 753.51 223.12 753.84 223.17 754.2 223.22 754.57 223.28 754.97 223.34 755.4 223.4 755.85 223.46 756.32 223.52 756.82 223.59 757.34 223.65 757.89 223.72 758.47 223.8 759.07 223.87 759.7 223.95 760.37 224.02 761.06 224.1 761.78 224.18 762.53 224.27 763.32 224.35 764.14 224.44 764.99 224.52 765.88 224.61 766.8 224.71 767.76 224.8 768.76 224.89 769.79 224.99 770.87 225.09 771.98 225.19 773.14 225.29 774.33 225.39 775.57 225.49 776.85 225.6 778.17 225.7 779.55 225.81 780.96 225.92 782.43 226.03 783.94 226.15 785.5 226.26 787.11 226.37 788.77 226.49 790.48 226.61 792.25 226.73 794.07 226.85 795.95 226.97 797.88 227.09 799.87 227.22 801.91 227.35 804.01 227.47 806.18 227.6 808.4 227.73 810.69 227.86 813.04 228 815.45 228.13 817.93 228.26 820.48 228.4 823.09 228.54 825.77 228.68 828.52 228.82 831.34 228.96 834.23 229.1 837.19 229.25 840.23 229.39 843.34 229.54 846.53 229.68 849.79 229.83 853.13 229.98 856.55 230.13 860.05 230.28 862.3 230.38 864.55 230.48 866.8 230.58 869.05 230.68 871.31 230.78 873.56 230.88 875.81 230.98 878.06 231.09 880.31 231.19 882.56 231.3 884.81 231.4 887.06 231.51 889.31 231.62 891.56 231.73 893.82 231.84 896.07 231.95 898.32 232.06 900.57 232.17 902.82 232.29 905.07 232.41 907.32 232.52 909.57 232.64 911.82 232.76 914.07 232.88 916.33 233 918.58 233.12 920.83 233.25 923.08 233.37 925.33 233.5 M751.25 222.75L751.29 222.74 751.37 222.71 751.47 222.67 751.6 222.62 751.76 222.57 751.94 222.51 752.13 222.44 752.35 222.37 752.59 222.29 752.85 222.2 753.14 222.11 753.44 222.01 753.76 221.91 754.11 221.81 754.48 221.7 754.87 221.58 755.28 221.47 755.72 221.34 756.18 221.21 756.67 221.08 757.18 220.95 757.72 220.81 758.29 220.67 758.88 220.52 759.5 220.37 760.16 220.21 760.84 220.06 761.55 219.9 762.29 219.73 763.07 219.56 763.88 219.39 764.72 219.22 765.6 219.04 766.52 218.86 767.47 218.67 768.45 218.48 769.48 218.29 770.55 218.1 771.65 217.9 772.8 217.7 773.99 217.49 775.22 217.29 776.5 217.08 777.82 216.87 779.18 216.65 780.6 216.43 782.06 216.21 783.57 215.99 785.13 215.76 786.74 215.53 788.4 215.3 790.11 215.06 791.88 214.83 793.7 214.59 795.58 214.34 797.51 214.1 799.5 213.85 801.55 213.6 803.66 213.34 805.84 213.09 808.07 212.83 810.36 212.57 812.72 212.3 815.15 212.03 817.64 211.77 820.2 211.49 822.82 211.22 825.52 210.94 828.28 210.66 831.12 210.38 834.03 210.1 837.01 209.81 840.07 209.52 843.21 209.23 846.42 208.94 849.7 208.64 853.07 208.35 856.52 208.04 860.05 207.74 862.3 207.55 864.55 207.36 866.8 207.18 869.05 207 871.31 206.82 873.56 206.64 875.81 206.46 878.06 206.29 880.31 206.11 882.56 205.94 884.81 205.76 887.06 205.59 889.31 205.42 891.56 205.25 893.82 205.07 896.07 204.9 898.32 204.72 900.57 204.55 902.82 204.37 905.07 204.19 907.32 204 909.57 203.82 911.82 203.63 914.07 203.44 916.33 203.25 918.58 203.05 920.83 202.85 923.08 202.65 925.33 202.44 M751.25 222.75L751.29 222.76 751.37 222.79 751.47 222.83 751.6 222.88 751.76 222.93 751.94 222.99 752.13 223.06 752.35 223.13 752.59 223.21 752.85 223.3 753.14 223.39 753.44 223.49 753.76 223.59 754.11 223.69 754.48 223.8 754.87 223.92 755.28 224.03 755.72 224.16 756.18 224.29 756.67 224.42 757.18 224.55 757.72 224.69 758.29 224.83 758.88 224.98 759.5 225.13 760.16 225.29 760.84 225.44 761.55 225.6 762.29 225.77 763.07 225.94 763.88 226.11 764.72 226.28 765.6 226.46 766.52 226.64 767.47 226.83 768.45 227.02 769.48 227.21 770.55 227.4 771.65 227.6 772.8 227.8 773.99 228.01 775.22 228.21 776.5 228.42 777.82 228.63 779.18 228.85 780.6 229.07 782.06 229.29 783.57 229.51 785.13 229.74 786.74 229.97 788.4 230.2 790.11 230.44 791.88 230.67 793.7 230.91 795.58 231.16 797.51 231.4 799.5 231.65 801.55 231.9 803.66 232.16 805.84 232.41 808.07 232.67 810.36 232.93 812.72 233.2 815.15 233.47 817.64 233.73 820.2 234.01 822.82 234.28 825.52 234.56 828.28 234.84 831.12 235.12 834.03 235.4 837.01 235.69 840.07 235.98 843.21 236.27 846.42 236.56 849.7 236.86 853.07 237.15 856.52 237.46 860.05 237.76 862.3 237.95 864.55 238.14 866.8 238.32 869.05 238.5 871.31 238.68 873.56 238.86 875.81 239.04 878.06 239.21 880.31 239.39 882.56 239.56 884.81 239.74 887.06 239.91 889.31 240.08 891.56 240.25 893.82 240.43 896.07 240.6 898.32 240.78 900.57 240.95 902.82 241.13 905.07 241.31 907.32 241.5 909.57 241.68 911.82 241.87 914.07 242.06 916.33 242.25 918.58 242.45 920.83 242.65 923.08 242.85 925.33 243.06 M751.25 222.75L751.29 222.73 751.36 222.69 751.46 222.63 751.58 222.56 751.73 222.48 751.9 222.39 752.08 222.29 752.29 222.18 752.52 222.06 752.76 221.93 753.03 221.8 753.32 221.65 753.63 221.5 753.96 221.35 754.31 221.18 754.69 221.01 755.08 220.84 755.5 220.65 755.95 220.46 756.42 220.27 756.91 220.07 757.44 219.86 757.98 219.65 758.56 219.43 759.17 219.2 759.8 218.97 760.46 218.74 761.16 218.5 761.89 218.25 762.65 218 763.44 217.75 764.27 217.49 765.13 217.22 766.03 216.95 766.97 216.67 767.94 216.39 768.95 216.11 770.01 215.82 771.1 215.53 772.24 215.23 773.41 214.92 774.64 214.62 775.9 214.31 777.21 213.99 778.57 213.67 779.98 213.34 781.44 213.01 782.94 212.68 784.5 212.34 786.1 212 787.76 211.65 789.48 211.3 791.25 210.95 793.07 210.59 794.95 210.23 796.89 209.86 798.89 209.49 800.95 209.12 803.07 208.74 805.25 208.36 807.5 207.97 809.81 207.58 812.19 207.19 814.63 206.79 817.14 206.39 819.72 205.99 822.37 205.58 825.09 205.17 827.89 204.75 830.75 204.33 833.7 203.91 836.71 203.48 839.81 203.06 842.98 202.62 846.23 202.18 849.56 201.74 852.97 201.3 856.47 200.85 860.05 200.4 862.3 200.12 864.55 199.84 866.8 199.56 869.05 199.27 871.31 198.99 873.56 198.71 875.81 198.42 878.06 198.14 880.31 197.85 882.56 197.56 884.81 197.27 887.06 196.98 889.31 196.69 891.56 196.39 893.82 196.09 896.07 195.79 898.32 195.49 900.57 195.18 902.82 194.87 905.07 194.56 907.32 194.24 909.57 193.92 911.82 193.6 914.07 193.28 916.33 192.94 918.58 192.61 920.83 192.27 923.08 191.93 925.33 191.58 M751.25 222.75L751.29 222.77 751.36 222.81 751.46 222.87 751.58 222.94 751.73 223.02 751.9 223.11 752.08 223.21 752.29 223.32 752.52 223.44 752.76 223.57 753.03 223.7 753.32 223.85 753.63 224 753.96 224.15 754.31 224.32 754.69 224.49 755.08 224.66 755.5 224.85 755.95 225.04 756.42 225.23 756.91 225.43 757.44 225.64 757.98 225.85 758.56 226.07 759.17 226.3 759.8 226.53 760.46 226.76 761.16 227 761.89 227.25 762.65 227.5 763.44 227.75 764.27 228.01 765.13 228.28 766.03 228.55 766.97 228.83 767.94 229.11 768.95 229.39 770.01 229.68 771.1 229.97 772.24 230.27 773.41 230.58 774.64 230.88 775.9 231.19 777.21 231.51 778.57 231.83 779.98 232.16 781.44 232.49 782.94 232.82 784.5 233.16 786.1 233.5 787.76 233.85 789.48 234.2 791.25 234.55 793.07 234.91 794.95 235.27 796.89 235.64 798.89 236.01 800.95 236.38 803.07 236.76 805.25 237.14 807.5 237.53 809.81 237.92 812.19 238.31 814.63 238.71 817.14 239.11 819.72 239.51 822.37 239.92 825.09 240.33 827.89 240.75 830.75 241.17 833.7 241.59 836.71 242.02 839.81 242.44 842.98 242.88 846.23 243.32 849.56 243.76 852.97 244.2 856.47 244.65 860.05 245.1 862.3 245.38 864.55 245.66 866.8 245.94 869.05 246.23 871.31 246.51 873.56 246.79 875.81 247.08 878.06 247.36 880.31 247.65 882.56 247.94 884.81 248.23 887.06 248.52 889.31 248.81 891.56 249.11 893.82 249.41 896.07 249.71 898.32 250.01 900.57 250.32 902.82 250.63 905.07 250.94 907.32 251.26 909.57 251.58 911.82 251.9 914.07 252.22 916.33 252.56 918.58 252.89 920.83 253.23 923.08 253.57 925.33 253.92 M751.25 222.75L751.28 222.72 751.35 222.67 751.44 222.59 751.55 222.5 751.69 222.39 751.84 222.27 752.01 222.14 752.2 221.99 752.41 221.84 752.64 221.67 752.88 221.49 753.15 221.31 753.44 221.11 753.75 220.9 754.08 220.69 754.43 220.46 754.8 220.23 755.2 219.99 755.62 219.74 756.06 219.48 756.53 219.21 757.03 218.94 757.55 218.66 758.1 218.37 758.68 218.08 759.29 217.77 759.93 217.46 760.6 217.15 761.31 216.82 762.04 216.49 762.81 216.15 763.62 215.81 764.46 215.46 765.34 215.1 766.25 214.74 767.21 214.37 768.2 214 769.23 213.62 770.31 213.23 771.43 212.83 772.59 212.43 773.8 212.03 775.05 211.62 776.35 211.2 777.7 210.78 779.1 210.35 780.55 209.92 782.05 209.48 783.6 209.03 785.2 208.58 786.86 208.12 788.58 207.66 790.35 207.19 792.18 206.72 794.07 206.24 796.01 205.76 798.02 205.27 800.09 204.78 802.23 204.28 804.43 203.78 806.69 203.27 809.03 202.76 811.43 202.24 813.9 201.72 816.44 201.19 819.05 200.65 821.73 200.12 824.49 199.57 827.32 199.03 830.23 198.47 833.22 197.92 836.28 197.35 839.43 196.79 842.66 196.22 845.97 195.64 849.36 195.06 852.84 194.47 856.4 193.88 860.05 193.29 862.3 192.92 864.55 192.55 866.8 192.18 869.05 191.79 871.31 191.41 873.56 191.02 875.81 190.62 878.06 190.22 880.31 189.81 882.56 189.4 884.81 188.99 887.06 188.57 889.31 188.14 891.56 187.71 893.82 187.28 896.07 186.84 898.32 186.39 900.57 185.95 902.82 185.49 905.07 185.03 907.32 184.57 909.57 184.11 911.82 183.64 914.07 183.16 916.33 182.68 918.58 182.2 920.83 181.71 923.08 181.22 925.33 180.72 M751.25 222.75L751.28 222.78 751.35 222.83 751.44 222.91 751.55 223 751.69 223.11 751.84 223.23 752.01 223.36 752.2 223.51 752.41 223.66 752.64 223.83 752.88 224.01 753.15 224.19 753.44 224.39 753.75 224.6 754.08 224.81 754.43 225.04 754.8 225.27 755.2 225.51 755.62 225.76 756.06 226.02 756.53 226.29 757.03 226.56 757.55 226.84 758.1 227.13 758.68 227.42 759.29 227.73 759.93 228.04 760.6 228.35 761.31 228.68 762.04 229.01 762.81 229.35 763.62 229.69 764.46 230.04 765.34 230.4 766.25 230.76 767.21 231.13 768.2 231.5 769.23 231.88 770.31 232.27 771.43 232.67 772.59 233.07 773.8 233.47 775.05 233.88 776.35 234.3 777.7 234.72 779.1 235.15 780.55 235.58 782.05 236.02 783.6 236.47 785.2 236.92 786.86 237.38 788.58 237.84 790.35 238.31 792.18 238.78 794.07 239.26 796.01 239.74 798.02 240.23 800.09 240.72 802.23 241.22 804.43 241.72 806.69 242.23 809.03 242.74 811.43 243.26 813.9 243.78 816.44 244.31 819.05 244.85 821.73 245.38 824.49 245.93 827.32 246.47 830.23 247.03 833.22 247.58 836.28 248.15 839.43 248.71 842.66 249.28 845.97 249.86 849.36 250.44 852.84 251.03 856.4 251.62 860.05 252.21 862.3 252.58 864.55 252.95 866.8 253.32 869.05 253.71 871.31 254.09 873.56 254.48 875.81 254.88 878.06 255.28 880.31 255.69 882.56 256.1 884.81 256.51 887.06 256.93 889.31 257.36 891.56 257.79 893.82 258.22 896.07 258.66 898.32 259.11 900.57 259.55 902.82 260.01 905.07 260.47 907.32 260.93 909.57 261.39 911.82 261.86 914.07 262.34 916.33 262.82 918.58 263.3 920.83 263.79 923.08 264.28 925.33 264.78 M751.25 222.75L751.28 222.72 751.34 222.65 751.41 222.56 751.51 222.44 751.63 222.31 751.76 222.16 751.91 222 752.08 221.82 752.27 221.63 752.47 221.42 752.69 221.2 752.93 220.97 753.19 220.73 753.47 220.48 753.77 220.21 754.09 219.94 754.43 219.65 754.8 219.35 755.18 219.05 755.6 218.73 756.03 218.4 756.5 218.07 756.99 217.72 757.51 217.37 758.05 217 758.63 216.63 759.24 216.25 759.88 215.86 760.55 215.46 761.25 215.06 761.99 214.64 762.77 214.22 763.58 213.79 764.43 213.35 765.32 212.9 766.24 212.45 767.21 211.99 768.22 211.52 769.28 211.04 770.37 210.56 771.52 210.07 772.71 209.57 773.94 209.06 775.23 208.55 776.56 208.03 777.95 207.5 779.39 206.97 780.88 206.43 782.42 205.88 784.02 205.33 785.68 204.77 787.4 204.2 789.17 203.63 791 203.05 792.9 202.46 794.86 201.86 796.88 201.27 798.97 200.66 801.12 200.05 803.34 199.43 805.63 198.8 807.99 198.17 810.43 197.53 812.93 196.89 815.51 196.24 818.16 195.59 820.89 194.92 823.7 194.26 826.58 193.58 829.55 192.9 832.59 192.22 835.72 191.53 838.94 190.83 842.23 190.13 845.62 189.42 849.09 188.71 852.65 187.99 856.31 187.26 860.05 186.53 862.3 186.09 864.55 185.65 866.8 185.2 869.05 184.75 871.31 184.29 873.56 183.82 875.81 183.36 878.06 182.88 880.31 182.4 882.56 181.92 884.81 181.43 887.06 180.93 889.31 180.43 891.56 179.93 893.82 179.41 896.07 178.9 898.32 178.38 900.57 177.85 902.82 177.32 905.07 176.78 907.32 176.24 909.57 175.69 911.82 175.14 914.07 174.58 916.33 174.02 918.58 173.45 920.83 172.87 923.08 172.29 925.33 171.71 M751.25 222.75L751.28 222.78 751.34 222.85 751.41 222.94 751.51 223.06 751.63 223.19 751.76 223.34 751.91 223.5 752.08 223.68 752.27 223.87 752.47 224.08 752.69 224.3 752.93 224.53 753.19 224.77 753.47 225.02 753.77 225.29 754.09 225.56 754.43 225.85 754.8 226.15 755.18 226.45 755.6 226.77 756.03 227.1 756.5 227.43 756.99 227.78 757.51 228.13 758.05 228.5 758.63 228.87 759.24 229.25 759.88 229.64 760.55 230.04 761.25 230.44 761.99 230.86 762.77 231.28 763.58 231.71 764.43 232.15 765.32 232.6 766.24 233.05 767.21 233.51 768.22 233.98 769.28 234.46 770.37 234.94 771.52 235.43 772.71 235.93 773.94 236.44 775.23 236.95 776.56 237.47 777.95 238 779.39 238.53 780.88 239.07 782.42 239.62 784.02 240.17 785.68 240.73 787.4 241.3 789.17 241.87 791 242.45 792.9 243.04 794.86 243.64 796.88 244.23 798.97 244.84 801.12 245.45 803.34 246.07 805.63 246.7 807.99 247.33 810.43 247.97 812.93 248.61 815.51 249.26 818.16 249.91 820.89 250.58 823.7 251.24 826.58 251.92 829.55 252.6 832.59 253.28 835.72 253.97 838.94 254.67 842.23 255.37 845.62 256.08 849.09 256.79 852.65 257.51 856.31 258.24 860.05 258.97 862.3 259.41 864.55 259.85 866.8 260.3 869.05 260.75 871.31 261.21 873.56 261.68 875.81 262.14 878.06 262.62 880.31 263.1 882.56 263.58 884.81 264.07 887.06 264.57 889.31 265.07 891.56 265.57 893.82 266.09 896.07 266.6 898.32 267.12 900.57 267.65 902.82 268.18 905.07 268.72 907.32 269.26 909.57 269.81 911.82 270.36 914.07 270.92 916.33 271.48 918.58 272.05 920.83 272.63 923.08 273.21 925.33 273.79 M751.25 222.75L751.27 222.71 751.32 222.63 751.38 222.52 751.46 222.39 751.56 222.24 751.67 222.06 751.79 221.87 751.93 221.66 752.09 221.44 752.26 221.19 752.45 220.94 752.66 220.67 752.88 220.38 753.12 220.09 753.38 219.77 753.67 219.45 753.97 219.12 754.29 218.77 754.64 218.41 755.02 218.04 755.41 217.65 755.83 217.26 756.28 216.85 756.76 216.44 757.27 216.01 757.8 215.58 758.37 215.13 758.97 214.67 759.6 214.21 760.27 213.73 760.97 213.25 761.71 212.75 762.48 212.25 763.3 211.73 764.15 211.21 765.05 210.68 765.98 210.14 766.96 209.59 767.99 209.03 769.06 208.46 770.18 207.88 771.34 207.3 772.56 206.71 773.82 206.11 775.14 205.5 776.51 204.88 777.94 204.25 779.42 203.62 780.96 202.98 782.55 202.33 784.21 201.67 785.92 201.01 787.7 200.33 789.54 199.65 791.45 198.96 793.42 198.27 795.46 197.56 797.57 196.85 799.75 196.14 801.99 195.41 804.32 194.68 806.71 193.94 809.18 193.19 811.73 192.44 814.35 191.67 817.06 190.91 819.84 190.13 822.71 189.35 825.66 188.56 828.69 187.76 831.81 186.96 835.02 186.15 838.32 185.33 841.71 184.51 845.19 183.68 848.76 182.84 852.43 182 856.19 181.15 860.05 180.29 862.3 179.79 864.55 179.29 866.8 178.77 869.05 178.24 871.31 177.71 873.56 177.17 875.81 176.62 878.06 176.07 880.31 175.5 882.56 174.93 884.81 174.35 887.06 173.76 889.31 173.17 891.56 172.57 893.82 171.96 896.07 171.35 898.32 170.73 900.57 170.1 902.82 169.47 905.07 168.83 907.32 168.18 909.57 167.53 911.82 166.87 914.07 166.21 916.33 165.54 918.58 164.86 920.83 164.18 923.08 163.49 925.33 162.8 M751.25 222.75L751.27 222.79 751.32 222.87 751.38 222.98 751.46 223.11 751.56 223.26 751.67 223.44 751.79 223.63 751.93 223.84 752.09 224.06 752.26 224.31 752.45 224.56 752.66 224.83 752.88 225.12 753.12 225.41 753.38 225.73 753.67 226.05 753.97 226.38 754.29 226.73 754.64 227.09 755.02 227.46 755.41 227.85 755.83 228.24 756.28 228.65 756.76 229.06 757.27 229.49 757.8 229.92 758.37 230.37 758.97 230.83 759.6 231.29 760.27 231.77 760.97 232.25 761.71 232.75 762.48 233.25 763.3 233.77 764.15 234.29 765.05 234.82 765.98 235.36 766.96 235.91 767.99 236.47 769.06 237.04 770.18 237.62 771.34 238.2 772.56 238.79 773.82 239.39 775.14 240 776.51 240.62 777.94 241.25 779.42 241.88 780.96 242.52 782.55 243.17 784.21 243.83 785.92 244.49 787.7 245.17 789.54 245.85 791.45 246.54 793.42 247.23 795.46 247.94 797.57 248.65 799.75 249.36 801.99 250.09 804.32 250.82 806.71 251.56 809.18 252.31 811.73 253.06 814.35 253.83 817.06 254.59 819.84 255.37 822.71 256.15 825.66 256.94 828.69 257.74 831.81 258.54 835.02 259.35 838.32 260.17 841.71 260.99 845.19 261.82 848.76 262.66 852.43 263.5 856.19 264.35 860.05 265.21 862.3 265.71 864.55 266.21 866.8 266.73 869.05 267.26 871.31 267.79 873.56 268.33 875.81 268.88 878.06 269.43 880.31 270 882.56 270.57 884.81 271.15 887.06 271.74 889.31 272.33 891.56 272.93 893.82 273.54 896.07 274.15 898.32 274.77 900.57 275.4 902.82 276.03 905.07 276.67 907.32 277.32 909.57 277.97 911.82 278.63 914.07 279.29 916.33 279.96 918.58 280.64 920.83 281.32 923.08 282.01 925.33 282.7 M751.25 222.75L751.27 222.71 751.3 222.62 751.35 222.49 751.4 222.34 751.47 222.17 751.56 221.97 751.65 221.76 751.76 221.52 751.88 221.27 752.01 220.99 752.16 220.7 752.33 220.4 752.51 220.08 752.71 219.74 752.92 219.39 753.16 219.02 753.42 218.64 753.69 218.25 753.99 217.84 754.32 217.42 754.67 216.99 755.04 216.55 755.44 216.09 755.87 215.62 756.32 215.14 756.81 214.65 757.33 214.14 757.88 213.63 758.47 213.1 759.09 212.56 759.74 212.01 760.43 211.45 761.17 210.88 761.94 210.3 762.75 209.71 763.61 209.11 764.51 208.5 765.45 207.88 766.44 207.25 767.48 206.61 768.57 205.96 769.71 205.3 770.9 204.63 772.14 203.95 773.44 203.26 774.79 202.56 776.2 201.85 777.67 201.14 779.2 200.41 780.79 199.68 782.44 198.94 784.16 198.19 785.94 197.43 787.79 196.66 789.71 195.88 791.7 195.09 793.75 194.3 795.89 193.5 798.09 192.68 800.37 191.87 802.73 191.04 805.17 190.2 807.69 189.36 810.28 188.51 812.97 187.65 815.73 186.78 818.58 185.9 821.52 185.02 824.55 184.13 827.67 183.23 830.88 182.32 834.18 181.4 837.58 180.48 841.07 179.55 844.67 178.61 848.36 177.67 852.15 176.72 856.05 175.75 860.05 174.79 862.3 174.24 864.55 173.7 866.8 173.14 869.05 172.58 871.31 172.01 873.56 171.44 875.81 170.86 878.06 170.28 880.31 169.68 882.56 169.09 884.81 168.48 887.06 167.87 889.31 167.26 891.56 166.63 893.82 166 896.07 165.37 898.32 164.72 900.57 164.08 902.82 163.42 905.07 162.76 907.32 162.09 909.57 161.41 911.82 160.73 914.07 160.04 916.33 159.35 918.58 158.65 920.83 157.94 923.08 157.23 925.33 156.5 M751.25 222.75L751.27 222.79 751.3 222.88 751.35 223.01 751.4 223.16 751.47 223.33 751.56 223.53 751.65 223.74 751.76 223.98 751.88 224.23 752.01 224.51 752.16 224.8 752.33 225.1 752.51 225.42 752.71 225.76 752.92 226.11 753.16 226.48 753.42 226.86 753.69 227.25 753.99 227.66 754.32 228.08 754.67 228.51 755.04 228.95 755.44 229.41 755.87 229.88 756.32 230.36 756.81 230.85 757.33 231.36 757.88 231.87 758.47 232.4 759.09 232.94 759.74 233.49 760.43 234.05 761.17 234.62 761.94 235.2 762.75 235.79 763.61 236.39 764.51 237 765.45 237.62 766.44 238.25 767.48 238.89 768.57 239.54 769.71 240.2 770.9 240.87 772.14 241.55 773.44 242.24 774.79 242.94 776.2 243.65 777.67 244.36 779.2 245.09 780.79 245.82 782.44 246.56 784.16 247.31 785.94 248.07 787.79 248.84 789.71 249.62 791.7 250.41 793.75 251.2 795.89 252 798.09 252.82 800.37 253.63 802.73 254.46 805.17 255.3 807.69 256.14 810.28 256.99 812.97 257.85 815.73 258.72 818.58 259.6 821.52 260.48 824.55 261.37 827.67 262.27 830.88 263.18 834.18 264.1 837.58 265.02 841.07 265.95 844.67 266.89 848.36 267.83 852.15 268.78 856.05 269.75 860.05 270.71 862.3 271.26 864.55 271.8 866.8 272.36 869.05 272.92 871.31 273.49 873.56 274.06 875.81 274.64 878.06 275.22 880.31 275.82 882.56 276.41 884.81 277.02 887.06 277.63 889.31 278.24 891.56 278.87 893.82 279.5 896.07 280.13 898.32 280.78 900.57 281.42 902.82 282.08 905.07 282.74 907.32 283.41 909.57 284.09 911.82 284.77 914.07 285.46 916.33 286.15 918.58 286.85 920.83 287.56 923.08 288.27 925.33 289 M751.25 222.75L751.26 222.7 751.28 222.6 751.3 222.47 751.34 222.31 751.38 222.12 751.43 221.9 751.48 221.66 751.55 221.4 751.63 221.13 751.72 220.83 751.83 220.51 751.94 220.18 752.08 219.83 752.22 219.46 752.39 219.07 752.57 218.67 752.77 218.26 753 217.83 753.24 217.38 753.51 216.92 753.8 216.45 754.11 215.96 754.46 215.46 754.83 214.95 755.23 214.42 755.66 213.88 756.12 213.33 756.61 212.77 757.14 212.19 757.71 211.6 758.31 211 758.95 210.39 759.64 209.77 760.36 209.13 761.12 208.48 761.93 207.83 762.79 207.16 763.69 206.48 764.64 205.79 765.65 205.09 766.7 204.37 767.8 203.65 768.96 202.92 770.18 202.18 771.45 201.42 772.79 200.66 774.18 199.89 775.63 199.1 777.15 198.31 778.74 197.51 780.39 196.69 782.1 195.87 783.89 195.04 785.75 194.2 787.68 193.35 789.69 192.49 791.77 191.62 793.93 190.74 796.17 189.85 798.49 188.96 800.89 188.05 803.38 187.14 805.95 186.21 808.61 185.28 811.35 184.34 814.19 183.39 817.12 182.43 820.14 181.46 823.26 180.49 826.48 179.5 829.79 178.51 833.2 177.51 836.72 176.5 840.34 175.48 844.06 174.46 847.9 173.42 851.84 172.38 855.89 171.33 860.05 170.27 862.3 169.7 864.55 169.12 866.8 168.54 869.05 167.95 871.31 167.35 873.56 166.74 875.81 166.13 878.06 165.51 880.31 164.88 882.56 164.24 884.81 163.6 887.06 162.95 889.31 162.3 891.56 161.63 893.82 160.96 896.07 160.29 898.32 159.6 900.57 158.91 902.82 158.21 905.07 157.51 907.32 156.8 909.57 156.08 911.82 155.35 914.07 154.62 916.33 153.88 918.58 153.14 920.83 152.38 923.08 151.62 925.33 150.86 M751.25 222.75L751.26 222.8 751.28 222.9 751.3 223.03 751.34 223.19 751.38 223.38 751.43 223.6 751.48 223.84 751.55 224.1 751.63 224.37 751.72 224.67 751.83 224.99 751.94 225.32 752.08 225.67 752.22 226.04 752.39 226.43 752.57 226.83 752.77 227.24 753 227.67 753.24 228.12 753.51 228.58 753.8 229.05 754.11 229.54 754.46 230.04 754.83 230.55 755.23 231.08 755.66 231.62 756.12 232.17 756.61 232.73 757.14 233.31 757.71 233.9 758.31 234.5 758.95 235.11 759.64 235.73 760.36 236.37 761.12 237.02 761.93 237.67 762.79 238.34 763.69 239.02 764.64 239.71 765.65 240.41 766.7 241.13 767.8 241.85 768.96 242.58 770.18 243.32 771.45 244.08 772.79 244.84 774.18 245.61 775.63 246.4 777.15 247.19 778.74 247.99 780.39 248.81 782.1 249.63 783.89 250.46 785.75 251.3 787.68 252.15 789.69 253.01 791.77 253.88 793.93 254.76 796.17 255.65 798.49 256.54 800.89 257.45 803.38 258.36 805.95 259.29 808.61 260.22 811.35 261.16 814.19 262.11 817.12 263.07 820.14 264.04 823.26 265.01 826.48 266 829.79 266.99 833.2 267.99 836.72 269 840.34 270.02 844.06 271.04 847.9 272.08 851.84 273.12 855.89 274.17 860.05 275.23 862.3 275.8 864.55 276.38 866.8 276.96 869.05 277.55 871.31 278.15 873.56 278.76 875.81 279.37 878.06 279.99 880.31 280.62 882.56 281.26 884.81 281.9 887.06 282.55 889.31 283.2 891.56 283.87 893.82 284.54 896.07 285.21 898.32 285.9 900.57 286.59 902.82 287.29 905.07 287.99 907.32 288.7 909.57 289.42 911.82 290.15 914.07 290.88 916.33 291.62 918.58 292.36 920.83 293.12 923.08 293.88 925.33 294.64 M751.25 222.75L751.25 222.7 751.25 222.59 751.25 222.45 751.26 222.28 751.27 222.08 751.28 221.85 751.3 221.6 751.32 221.32 751.35 221.03 751.4 220.71 751.45 220.37 751.51 220.02 751.59 219.64 751.68 219.25 751.78 218.85 751.91 218.42 752.05 217.98 752.21 217.52 752.39 217.05 752.59 216.56 752.82 216.06 753.07 215.54 753.35 215.01 753.65 214.47 753.99 213.91 754.36 213.34 754.75 212.75 755.19 212.15 755.65 211.54 756.16 210.92 756.7 210.28 757.29 209.63 757.91 208.97 758.58 208.29 759.29 207.6 760.05 206.91 760.85 206.2 761.71 205.47 762.62 204.74 763.58 204 764.59 203.24 765.66 202.47 766.79 201.7 767.97 200.91 769.22 200.11 770.53 199.3 771.9 198.48 773.34 197.65 774.85 196.8 776.42 195.95 778.07 195.09 779.79 194.22 781.58 193.33 783.45 192.44 785.4 191.54 787.43 190.62 789.53 189.7 791.73 188.77 794 187.83 796.36 186.87 798.81 185.91 801.35 184.94 803.99 183.96 806.71 182.97 809.53 181.97 812.45 180.96 815.47 179.95 818.59 178.92 821.81 177.88 825.13 176.84 828.56 175.78 832.1 174.72 835.75 173.65 839.51 172.57 843.38 171.48 847.37 170.38 851.48 169.27 855.7 168.16 860.05 167.03 862.3 166.45 864.55 165.86 866.8 165.26 869.05 164.65 871.31 164.03 873.56 163.4 875.81 162.77 878.06 162.12 880.31 161.47 882.56 160.8 884.81 160.13 887.06 159.45 889.31 158.76 891.56 158.06 893.82 157.36 896.07 156.65 898.32 155.93 900.57 155.2 902.82 154.46 905.07 153.72 907.32 152.97 909.57 152.21 911.82 151.45 914.07 150.68 916.33 149.9 918.58 149.12 920.83 148.33 923.08 147.53 925.33 146.73 M751.25 222.75L751.25 222.8 751.25 222.91 751.25 223.05 751.26 223.22 751.27 223.42 751.28 223.65 751.3 223.9 751.32 224.18 751.35 224.47 751.4 224.79 751.45 225.13 751.51 225.48 751.59 225.86 751.68 226.25 751.78 226.65 751.91 227.08 752.05 227.52 752.21 227.98 752.39 228.45 752.59 228.94 752.82 229.44 753.07 229.96 753.35 230.49 753.65 231.03 753.99 231.59 754.36 232.16 754.75 232.75 755.19 233.35 755.65 233.96 756.16 234.58 756.7 235.22 757.29 235.87 757.91 236.53 758.58 237.21 759.29 237.9 760.05 238.59 760.85 239.3 761.71 240.03 762.62 240.76 763.58 241.5 764.59 242.26 765.66 243.03 766.79 243.8 767.97 244.59 769.22 245.39 770.53 246.2 771.9 247.02 773.34 247.85 774.85 248.7 776.42 249.55 778.07 250.41 779.79 251.28 781.58 252.17 783.45 253.06 785.4 253.96 787.43 254.88 789.53 255.8 791.73 256.73 794 257.67 796.36 258.63 798.81 259.59 801.35 260.56 803.99 261.54 806.71 262.53 809.53 263.53 812.45 264.54 815.47 265.55 818.59 266.58 821.81 267.62 825.13 268.66 828.56 269.72 832.1 270.78 835.75 271.85 839.51 272.93 843.38 274.02 847.37 275.12 851.48 276.23 855.7 277.34 860.05 278.47 862.3 279.05 864.55 279.64 866.8 280.24 869.05 280.85 871.31 281.47 873.56 282.1 875.81 282.73 878.06 283.38 880.31 284.03 882.56 284.7 884.81 285.37 887.06 286.05 889.31 286.74 891.56 287.44 893.82 288.14 896.07 288.85 898.32 289.57 900.57 290.3 902.82 291.04 905.07 291.78 907.32 292.53 909.57 293.29 911.82 294.05 914.07 294.82 916.33 295.6 918.58 296.38 920.83 297.17 923.08 297.97 925.33 298.77" fill="none" stroke="#111" stroke-width="2.4" stroke-linejoin="round"/>
<path d="M751.25 46.82V398.68M860.05 46.82V114.15H925.33M860.05 398.68V331.35H925.33" fill="none" stroke="#111" stroke-width="2.6" stroke-linejoin="miter"/>
<path d="M925.33 114.15V331.35" stroke="#111" stroke-width="2.6" stroke-dasharray="2.6 3.2"/>
</g>
<rect x="642.45" y="48.99" width="326.4" height="347.52" fill="none" stroke="#555" stroke-width="1.4"/>
<text x="642.37" y="31" font-size="37.6" font-family='"Liberation Sans", Arial, sans-serif' fill="#232323" >h/r= 0.6</text>
<text x="601.24" y="123.02" font-size="25.7" font-family='"Liberation Sans", Arial, sans-serif' fill="#232323" >10</text>
<text x="615.64" y="231.62" font-size="25.7" font-family='"Liberation Sans", Arial, sans-serif' fill="#232323" >0</text>
<text x="592.76" y="340.22" font-size="25.7" font-family='"Liberation Sans", Arial, sans-serif' fill="#232323" >-10</text>
<text x="619.06" y="429.6" font-size="25.7" font-family='"Liberation Sans", Arial, sans-serif' fill="#232323" >-10</text>
<text x="744.05" y="429.6" font-size="25.7" font-family='"Liberation Sans", Arial, sans-serif' fill="#232323" >0</text>
<text x="845.14" y="429.6" font-size="25.7" font-family='"Liberation Sans", Arial, sans-serif' fill="#232323" >10</text>
<text x="952.83" y="429.6" font-size="25.7" font-family='"Liberation Sans", Arial, sans-serif' fill="#232323" >20</text>
<path d="M328.76 955.2v-4.6M328.76 520.4v4.6M350.52 955.2v-4.6M350.52 520.4v4.6M372.28 955.2v-4.6M372.28 520.4v4.6M394.04 955.2v-4.6M394.04 520.4v4.6M437.56 955.2v-4.6M437.56 520.4v4.6M459.32 955.2v-4.6M459.32 520.4v4.6M481.08 955.2v-4.6M481.08 520.4v4.6M502.84 955.2v-4.6M502.84 520.4v4.6M546.36 955.2v-4.6M546.36 520.4v4.6M568.12 955.2v-4.6M568.12 520.4v4.6M589.88 955.2v-4.6M589.88 520.4v4.6M611.64 955.2v-4.6M611.64 520.4v4.6M655.16 955.2v-4.6M655.16 520.4v4.6M676.92 955.2v-4.6M676.92 520.4v4.6M698.68 955.2v-4.6M698.68 520.4v4.6M720.44 955.2v-4.6M720.44 520.4v4.6M763.96 955.2v-4.6M763.96 520.4v4.6M785.72 955.2v-4.6M785.72 520.4v4.6M807.48 955.2v-4.6M807.48 520.4v4.6M829.24 955.2v-4.6M829.24 520.4v4.6" stroke="#505050" stroke-width="1.2" fill="none"/>
<path d="M307 955.2v-9.2M307 520.4v9.2M415.8 955.2v-9.2M415.8 520.4v9.2M524.6 955.2v-9.2M524.6 520.4v9.2M633.4 955.2v-9.2M633.4 520.4v9.2M742.2 955.2v-9.2M742.2 520.4v9.2M851 955.2v-9.2M851 520.4v9.2" stroke="#505050" stroke-width="1.2" fill="none"/>
<path d="M307 933.46h4.6M851 933.46h-4.6M307 911.72h4.6M851 911.72h-4.6M307 889.98h4.6M851 889.98h-4.6M307 868.24h4.6M851 868.24h-4.6M307 824.76h4.6M851 824.76h-4.6M307 803.02h4.6M851 803.02h-4.6M307 781.28h4.6M851 781.28h-4.6M307 759.54h4.6M851 759.54h-4.6M307 716.06h4.6M851 716.06h-4.6M307 694.32h4.6M851 694.32h-4.6M307 672.58h4.6M851 672.58h-4.6M307 650.84h4.6M851 650.84h-4.6M307 607.36h4.6M851 607.36h-4.6M307 585.62h4.6M851 585.62h-4.6M307 563.88h4.6M851 563.88h-4.6M307 542.14h4.6M851 542.14h-4.6" stroke="#505050" stroke-width="1.2" fill="none"/>
<path d="M307 846.5h9.2M851 846.5h-9.2M307 737.8h9.2M851 737.8h-9.2M307 629.1h9.2M851 629.1h-9.2" stroke="#505050" stroke-width="1.2" fill="none"/>
<clipPath id="clip_p3"><rect x="307" y="520.4" width="544" height="434.8"/></clipPath>
<g clip-path="url(#clip_p3)">
<path d="M418.54 520.4L418.62 601.93 419.08 737.8 418.62 873.68 418.54 955.2 M421.28 520.4L421.44 601.93 422.22 698.67 422.36 737.8 422.22 776.93 421.44 873.68 421.28 955.2 M424.02 520.4L424.26 601.93 425.45 699.76 425.65 737.8 425.45 775.85 424.26 873.68 424.02 955.2 M426.76 520.4L427.09 603.01 428.66 698.67 428.94 737.8 428.66 776.93 427.09 872.59 426.76 955.2 M429.5 520.4L429.6 566.05 429.92 603.01 431.9 699.76 432.24 737.8 431.9 775.85 429.92 872.59 429.6 909.55 429.5 955.2 M432.24 520.4L432.37 567.14 432.74 603.01 433.35 633.45 435.14 699.76 435.56 737.8 435.14 775.85 433.35 842.15 432.74 872.59 432.37 908.46 432.24 955.2 M434.98 520.4L435.13 567.14 435.56 603.01 436.28 633.45 438.39 699.76 438.88 737.8 438.39 775.85 436.28 842.15 435.56 872.59 435.13 908.46 434.98 955.2 M437.72 520.4L437.88 567.14 438.4 604.1 439.2 633.45 441.66 699.76 442.09 719.32 442.23 737.8 442.09 756.28 441.66 775.85 439.2 842.15 438.4 871.5 437.88 908.46 437.72 955.2 M440.46 520.4L440.64 567.14 441.21 604.1 442.17 634.54 444.93 699.76 445.43 719.32 445.59 737.8 445.43 756.28 444.93 775.85 442.17 841.07 441.21 871.5 440.64 908.46 440.46 955.2 M443.19 520.4L443.4 568.23 444.03 604.1 445.1 634.54 448.23 699.76 448.79 719.32 448.97 737.8 448.79 756.28 448.23 775.85 445.1 841.07 444.03 871.5 443.4 907.37 443.19 955.2 M445.93 520.4L446.16 568.23 446.88 605.19 448.04 634.54 451.55 699.76 452.17 719.32 452.37 737.8 452.17 756.28 451.55 775.85 448.04 841.07 446.88 870.41 446.16 907.37 445.93 955.2 M448.66 520.4L448.91 568.23 449.69 605.19 450.97 634.54 454.88 699.76 455.58 719.32 455.81 737.8 455.58 756.28 454.88 775.85 450.97 841.07 449.69 870.41 448.91 907.37 448.66 955.2 M451.4 520.4L451.67 569.32 452.54 606.27 453.97 635.62 457.21 682.36 458.25 699.76 459.02 719.32 459.27 737.8 459.02 756.28 458.25 775.85 457.21 793.24 453.97 839.98 452.54 869.33 451.67 906.29 451.4 955.2 M454.13 520.4L454.43 570.4 455.39 607.36 456.98 636.71 460.5 682.36 461.64 699.76 462.5 719.32 462.77 737.8 462.5 756.28 461.64 775.85 460.5 793.24 456.98 838.89 455.39 868.24 454.43 905.2 454.13 955.2 M456.86 520.4L457.18 570.4 457.59 589.97 458.2 607.36 459.93 636.71 463.81 682.36 465.07 699.76 466.01 719.32 466.32 737.8 466.01 756.28 465.07 775.85 463.81 793.24 459.93 838.89 458.2 868.24 457.59 885.63 457.18 905.2 456.86 955.2 M459.58 520.4L459.94 571.49 460.39 591.06 461.06 608.45 461.85 622.58 462.88 636.71 467.14 682.36 468.54 699.76 469.57 719.32 469.9 737.8 469.57 756.28 468.54 775.85 467.14 793.24 462.88 838.89 461.85 853.02 461.06 867.15 460.39 884.55 459.94 904.11 459.58 955.2 M462.31 520.4L462.7 572.58 463.18 592.14 463.91 609.53 464.79 623.67 465.93 637.8 470.52 682.36 472.04 699.76 473.18 719.32 473.54 737.8 473.18 756.28 472.04 775.85 470.52 793.24 465.93 837.8 464.79 851.94 463.91 866.07 463.18 883.46 462.7 903.02 462.31 955.2 M465.04 520.4L465.44 572.58 465.94 592.14 466.71 609.53 467.65 623.67 468.89 637.8 473.92 682.36 475.6 699.76 476.84 719.32 477.24 737.8 476.84 756.28 475.6 775.85 473.92 793.24 468.89 837.8 467.65 851.94 466.71 866.07 465.94 883.46 465.44 903.02 465.04 955.2 M467.76 520.4L467.87 549.75 468.19 573.66 468.73 593.23 469.57 610.62 470.6 624.75 471.97 638.88 477.37 682.36 479.21 699.76 480.57 719.32 481 737.8 480.57 756.28 479.21 775.85 477.37 793.24 471.97 836.72 470.6 850.85 469.57 864.98 468.73 882.37 468.19 901.94 467.87 925.85 467.76 955.2 M470.48 520.4L470.6 550.84 470.94 574.75 471.53 594.32 472.43 611.71 473.56 625.84 474.95 638.88 480.87 682.36 482.89 699.76 484.37 719.32 484.84 737.8 484.37 756.28 482.89 775.85 480.87 793.24 474.95 836.72 473.56 849.76 472.43 863.89 471.53 881.28 470.94 900.85 470.6 924.76 470.48 955.2 M473.2 520.4L473.32 550.84 473.69 575.84 474.31 595.4 475.3 612.8 476.42 625.84 477.92 638.88 484.43 682.36 486.63 699.76 487.57 709.54 488.25 719.32 488.65 729.1 488.76 737.8 488.65 746.5 488.25 756.28 487.57 766.06 486.63 775.85 484.43 793.24 477.92 836.72 476.42 849.76 475.3 862.81 474.31 880.2 473.69 899.76 473.32 924.76 473.2 955.2 M475.92 520.4L476.05 551.92 476.44 576.92 477.1 596.49 478.16 613.88 479.39 626.93 481.06 639.97 488.05 682.36 490.46 699.76 491.48 709.54 492.22 719.32 492.65 729.1 492.78 737.8 492.65 746.5 492.22 756.28 491.48 766.06 490.46 775.85 488.05 793.24 481.06 835.63 479.39 848.67 478.16 861.72 477.1 879.11 476.44 898.68 476.05 923.68 475.92 955.2 M478.63 520.4L478.78 553.01 479.18 578.01 479.88 597.58 480.94 613.88 482.25 626.93 484.05 639.97 485.98 651.3 491.74 682.36 494.38 699.76 495.49 709.54 496.3 719.32 496.77 729.1 496.9 737.8 496.77 746.5 496.3 756.28 495.49 766.06 494.38 775.85 491.74 793.24 485.98 824.3 484.05 835.63 482.25 848.67 480.94 861.72 479.88 878.02 479.18 897.59 478.78 922.59 478.63 955.2 M481.35 520.4L481.5 554.1 481.92 579.1 482.66 598.66 483.79 614.97 485.23 628.01 487.06 640.06 489.24 651.66 495.32 681.28 498.41 699.76 499.62 709.54 500.49 719.32 501.01 729.1 501.15 737.8 501.01 746.5 500.49 756.28 499.62 766.06 498.41 775.85 495.32 794.32 489.24 823.94 487.06 835.54 485.23 847.59 483.79 860.63 482.66 876.94 481.92 896.5 481.5 921.5 481.35 955.2 M484.06 520.4L484.21 554.1 484.66 580.19 485.43 599.75 486.65 616.06 488.23 629.1 490.26 641.06 492.5 651.82 499.19 681.28 502.4 698.67 503.76 708.45 504.75 718.23 505.35 728.02 505.55 737.8 505.35 747.58 504.75 757.37 503.76 767.15 502.4 776.93 499.19 794.32 492.5 823.78 490.26 834.54 488.23 846.5 486.65 859.54 485.43 875.85 484.66 895.42 484.21 921.5 484.06 955.2 M486.77 520.4L486.93 555.18 487.39 581.27 488.2 600.84 489.51 617.14 491.07 629.1 493.29 641.06 495.77 651.8 502.92 680.19 505.07 689.97 506.7 698.67 508.18 708.45 509.25 718.23 509.89 728.02 510.11 737.8 509.89 747.58 509.25 757.37 508.18 767.15 506.7 776.93 505.07 785.63 502.92 795.41 495.77 823.8 493.29 834.54 491.07 846.5 489.51 858.46 488.2 874.76 487.39 894.33 486.93 920.42 486.77 955.2 M489.48 520.4L489.65 557.36 490.15 583.45 491.02 603.01 492.36 618.23 494.09 630.19 496.32 641.06 499.03 651.61 507.03 680.19 509.39 689.97 511.17 698.67 512.77 708.45 513.94 718.23 514.64 728.02 514.87 737.8 514.64 747.58 513.94 757.37 512.77 767.15 511.17 776.93 509.39 785.63 507.03 795.41 499.03 823.99 496.32 834.54 494.09 845.41 492.36 857.37 491.02 872.59 490.15 892.15 489.65 918.24 489.48 955.2 M492.19 520.4L492.36 557.36 492.87 584.53 493.78 604.1 495.21 619.32 496.91 630.19 499.37 641.06 502.3 651.27 511.01 679.1 513.64 688.89 515.63 697.58 517.6 708.45 518.86 718.23 519.61 728.02 519.87 737.8 519.61 747.58 518.86 757.37 517.6 767.15 515.63 778.02 513.64 786.72 511.01 796.5 502.3 824.33 499.37 834.54 496.91 845.41 495.21 856.28 493.78 871.5 492.87 891.07 492.36 918.24 492.19 955.2 M494.9 520.4L495.07 558.45 495.58 585.62 496.51 605.19 497.15 612.8 498.05 620.4 499.95 631.27 502.43 641.06 505.56 650.78 515.13 678.02 518.07 687.8 520.29 696.49 522.5 707.36 523.92 717.15 524.87 728.02 525.14 737.8 524.87 747.58 523.92 758.45 522.5 768.24 520.29 779.11 518.07 787.8 515.13 797.59 505.56 824.82 502.43 834.54 499.95 844.33 498.05 855.2 497.15 862.81 496.51 870.41 495.58 889.98 495.07 917.16 494.9 955.2 M497.6 520.4L497.78 560.62 498.31 587.79 499.32 607.36 500.03 614.97 500.88 621.49 502.75 631.27 505.52 641.06 508.82 650.16 516.14 668.23 519.44 676.93 522.74 686.71 525.5 696.49 527.69 706.28 529.44 717.15 530.39 726.93 530.75 737.8 530.39 748.67 529.44 758.45 527.69 769.32 525.5 779.11 522.74 788.89 519.44 798.67 516.14 807.37 508.82 825.44 505.52 834.54 502.75 844.33 500.88 854.11 500.03 860.63 499.32 868.24 498.31 887.81 497.78 914.98 497.6 955.2 M500.31 520.4L500.48 561.71 501.04 589.97 502.03 608.45 502.77 616.06 503.69 622.58 504.74 628.01 505.81 632.36 508.63 641.06 511.54 648.16 520.27 667.15 524 675.84 527.7 685.62 530.79 695.41 533.47 706.28 535.21 716.06 536.39 726.93 536.78 737.8 536.39 748.67 535.21 759.54 533.47 769.32 530.79 780.19 527.7 789.98 524 799.76 520.27 808.46 511.54 827.44 508.63 834.54 505.81 843.24 504.74 847.59 503.69 853.02 502.77 859.54 502.03 867.15 501.04 885.63 500.48 913.89 500.31 955.2 M503.01 520.4L503.18 562.79 503.72 591.06 504.71 609.53 505.49 617.14 506.49 623.67 507.41 628.01 508.58 632.36 509.91 636.37 511.54 640.47 514.81 647.41 524.1 664.97 528.39 673.67 532.62 683.45 536.16 693.23 539.25 704.1 541.47 714.97 542.82 725.84 543.22 732.37 543.33 737.8 543.22 743.24 542.82 749.76 541.47 760.63 539.25 771.5 536.16 782.37 532.62 792.15 528.39 801.93 524.1 810.63 514.81 828.19 511.54 835.13 509.91 839.23 508.58 843.24 507.41 847.59 506.49 851.94 505.49 858.46 504.71 866.07 503.72 884.55 503.18 912.81 503.01 955.2 M505.71 520.4L505.89 564.97 506.43 593.23 506.85 603.01 507.47 611.71 508.18 618.23 509.27 624.75 510.31 629.1 511.3 632.36 512.63 635.89 514.26 639.51 518.07 646.48 528.13 662.8 533.09 671.49 538.46 682.36 542.42 692.15 545.87 703.02 547.23 708.45 548.55 714.97 550 725.84 550.39 731.28 550.55 737.8 550.39 744.32 550 749.76 548.55 760.63 547.23 767.15 545.87 772.58 542.42 783.45 538.46 793.24 533.09 804.11 528.13 812.8 518.07 829.12 514.26 836.09 512.63 839.71 511.3 843.24 510.31 846.5 509.27 850.85 508.18 857.37 507.47 863.89 506.85 872.59 506.43 882.37 505.89 910.63 505.71 955.2 M508.41 520.4L508.58 567.14 509.11 595.4 509.54 605.19 510.19 613.88 510.99 620.4 512.01 625.84 512.87 629.1 513.99 632.36 515.35 635.51 516.98 638.62 520.79 644.58 532.48 660.62 538.27 669.32 543.9 679.1 546.6 684.54 549.01 689.97 551.13 695.41 553.31 701.93 554.83 707.36 556.31 713.89 557.43 720.41 558.08 725.84 558.55 732.37 558.67 737.8 558.55 743.24 558.08 749.76 557.43 755.19 556.31 761.71 554.83 768.24 553.31 773.67 551.13 780.19 549.01 785.63 546.6 791.06 543.9 796.5 538.27 806.28 532.48 814.98 520.79 831.02 516.98 836.98 515.35 840.09 513.99 843.24 512.87 846.5 512.01 849.76 510.99 855.2 510.19 861.72 509.54 870.41 509.11 880.2 508.58 908.46 508.41 955.2 M511.11 520.4L511.28 569.32 511.82 598.66 512.27 608.45 512.88 616.06 513.58 621.49 514.71 626.93 516.62 632.36 518.07 635.2 519.7 637.77 524.06 643.35 537.36 658.45 543.39 666.06 547.25 671.49 550.73 676.93 553.85 682.36 556.61 687.8 559.04 693.23 561.55 699.76 563.3 705.19 565.02 711.71 566.35 718.23 567.28 724.76 567.84 731.28 568.03 737.8 567.84 744.32 567.28 750.84 566.35 757.37 565.02 763.89 563.3 770.41 561.55 775.85 559.04 782.37 556.61 787.8 553.85 793.24 550.73 798.67 547.25 804.11 543.39 809.54 537.36 817.15 524.06 832.25 519.7 837.83 518.07 840.4 516.62 843.24 514.71 848.67 513.58 854.11 512.88 859.54 512.27 867.15 511.82 876.94 511.28 906.29 511.11 955.2 M513.81 520.4L513.96 571.49 514.46 600.84 514.89 610.62 515.52 618.23 516.3 623.67 517.35 628.01 518.62 631.25 519.7 633.24 521.34 635.57 522.97 637.5 527.32 641.79 542.09 655.19 547.45 660.62 552.29 666.06 555.8 670.41 559 674.75 561.91 679.1 565.17 684.54 568.57 691.06 571.43 697.58 573.82 704.1 575.74 710.63 577.22 717.15 578.29 723.67 578.96 730.19 579.23 737.8 578.96 745.41 578.29 751.93 577.22 758.45 575.74 764.98 573.82 771.5 571.43 778.02 568.57 784.54 565.17 791.06 561.91 796.5 559 800.85 555.8 805.19 552.29 809.54 547.45 814.98 542.09 820.41 527.32 833.81 522.97 838.1 521.34 840.03 519.7 842.36 518.62 844.35 517.35 847.59 516.3 851.94 515.52 857.37 514.89 864.98 514.46 874.76 513.96 904.11 513.81 955.2 M516.51 520.4L516.64 573.66 517.06 603.01 517.46 612.8 517.96 619.32 518.72 624.75 519.53 628.01 520.4 630.19 521.74 632.36 522.97 633.82 525.14 635.82 528.95 638.67 540.58 646.49 546.67 650.84 553.56 656.28 559.66 661.71 564.02 666.06 568.88 671.49 572.34 675.84 576.2 681.28 580.2 687.8 583.58 694.32 586.4 700.84 589.04 708.45 590.78 714.97 592.24 722.58 593.1 730.19 593.39 737.8 593.1 745.41 592.24 753.02 590.78 760.63 589.04 767.15 586.4 774.76 583.58 781.28 580.2 787.8 576.2 794.32 572.34 799.76 568.88 804.11 564.02 809.54 559.66 813.89 553.56 819.33 546.67 824.76 540.58 829.11 528.95 836.93 525.14 839.78 522.97 841.78 521.74 843.24 520.4 845.41 519.53 847.59 518.72 850.85 517.96 856.28 517.46 862.81 517.06 872.59 516.64 901.94 516.51 955.2 M519.2 520.4L519.31 576.92 519.65 606.27 519.95 614.97 520.39 621.49 520.98 625.84 521.9 629.1 522.48 630.19 523.51 631.46 525.14 632.78 526.78 633.77 531.13 635.95 544.72 642.14 551.3 645.41 559.16 649.75 566.49 654.4 573.54 659.54 579.54 664.56 585.6 670.41 590.46 675.84 595.47 682.36 600.33 689.97 604.27 697.58 607.4 705.19 609.8 712.8 611.72 721.5 612.72 729.1 613.11 737.8 612.72 746.5 611.72 754.11 609.8 762.8 607.4 770.41 604.27 778.02 600.33 785.63 595.47 793.24 590.46 799.76 585.6 805.19 579.54 811.04 573.54 816.06 566.49 821.2 559.16 825.85 551.3 830.2 544.72 833.46 531.13 839.65 526.78 841.83 525.14 842.82 523.51 844.14 522.48 845.41 521.9 846.5 520.98 849.76 520.39 854.11 519.95 860.63 519.65 869.33 519.31 898.68 519.2 955.2 M521.9 520.4L522.16 608.45 522.58 622.58 522.99 626.93 523.51 629.1 524.6 630.29 526.78 631.18 531.67 632.49 548.54 636.46 558.87 639.27 569.75 642.79 580.09 646.81 590.42 651.63 599.67 656.77 607.83 662.15 615.51 668.23 622.3 674.75 625.78 678.67 628.73 682.36 631.82 686.71 634.54 691.06 636.94 695.41 639.05 699.76 642.45 708.45 644.07 713.89 645.12 718.23 646.12 723.67 646.68 728.02 647.09 733.45 647.19 737.8 647.09 742.15 646.68 747.58 646.12 751.93 645.12 757.37 644.07 761.71 642.45 767.15 639.05 775.85 636.94 780.19 634.54 784.54 631.82 788.89 628.73 793.24 625.78 796.93 622.3 800.85 615.51 807.37 607.83 813.45 599.67 818.83 590.42 823.97 580.09 828.79 569.75 832.81 558.87 836.33 548.54 839.14 531.67 843.11 526.78 844.42 524.6 845.31 523.51 846.5 522.99 848.67 522.58 853.02 522.16 867.15 521.9 955.2" fill="none" stroke="#2a2a2a" stroke-width="1.8" stroke-dasharray="2.2 1.32" stroke-dashoffset="2.66"/>
<path d="M415.8 737.8L395.13 737.8" fill="none" stroke="#111" stroke-width="1.2" stroke-dasharray="1.3 3.4"/>
<path d="M415.8 736.25L394.91 737.8" fill="none" stroke="#111" stroke-width="1.2" stroke-dasharray="1.3 3.41"/>
<path d="M415.8 739.35L394.91 737.8" fill="none" stroke="#111" stroke-width="1.2" stroke-dasharray="1.3 3.41"/>
<path d="M415.8 734.69L394.26 737.8" fill="none" stroke="#111" stroke-width="1.2" stroke-dasharray="1.3 3.42"/>
<path d="M415.8 740.91L394.26 737.8" fill="none" stroke="#111" stroke-width="1.2" stroke-dasharray="1.3 3.42"/>
<path d="M415.8 733.17L393.21 737.8" fill="none" stroke="#111" stroke-width="1.2" stroke-dasharray="1.3 3.44"/>
<path d="M415.8 742.43L393.21 737.8" fill="none" stroke="#111" stroke-width="1.2" stroke-dasharray="1.3 3.44"/>
<path d="M415.8 731.7L391.81 737.8" fill="none" stroke="#111" stroke-width="1.2" stroke-dasharray="1.3 3.44"/>
<path d="M415.8 743.9L391.81 737.8" fill="none" stroke="#111" stroke-width="1.2" stroke-dasharray="1.3 3.44"/>
<path d="M415.8 730.35L390.17 737.8" fill="none" stroke="#111" stroke-width="1.2" stroke-dasharray="1.3 3.43"/>
<path d="M415.8 745.25L390.17 737.8" fill="none" stroke="#111" stroke-width="1.2" stroke-dasharray="1.3 3.43"/>
<path d="M415.8 729.12L388.39 737.8" fill="none" stroke="#111" stroke-width="1.2" stroke-dasharray="1.3 3.41"/>
<path d="M415.8 746.48L388.39 737.8" fill="none" stroke="#111" stroke-width="1.2" stroke-dasharray="1.3 3.41"/>
<path d="M415.8 728.11L386.74 737.8" fill="none" stroke="#111" stroke-width="1.2" stroke-dasharray="1.3 3.38"/>
<path d="M415.8 747.49L386.74 737.8" fill="none" stroke="#111" stroke-width="1.2" stroke-dasharray="1.3 3.38"/>
<path d="M415.8 727.35L385.36 737.8" fill="none" stroke="#111" stroke-width="1.2" stroke-dasharray="1.3 3.35"/>
<path d="M415.8 748.25L385.36 737.8" fill="none" stroke="#111" stroke-width="1.2" stroke-dasharray="1.3 3.35"/>
<path d="M415.8 726.93L384.57 737.8" fill="none" stroke="#111" stroke-width="1.2" stroke-dasharray="1.3 3.33"/>
<path d="M415.8 748.67L384.57 737.8" fill="none" stroke="#111" stroke-width="1.2" stroke-dasharray="1.3 3.33"/>
<path d="M307 737.8L395.13 737.8" fill="none" stroke="#1a1a1a" stroke-width="1.25" stroke-dasharray="1.4 3.15"/>
<path d="M307 744.32L394.91 737.8" fill="none" stroke="#1a1a1a" stroke-width="1.25" stroke-dasharray="1.4 3.16"/>
<path d="M307 731.28L394.91 737.8" fill="none" stroke="#1a1a1a" stroke-width="1.25" stroke-dasharray="1.4 3.16"/>
<path d="M307 750.41L394.26 737.8" fill="none" stroke="#1a1a1a" stroke-width="1.25" stroke-dasharray="1.4 3.2"/>
<path d="M307 725.19L394.26 737.8" fill="none" stroke="#1a1a1a" stroke-width="1.25" stroke-dasharray="1.4 3.2"/>
<path d="M307 755.47L393.21 737.8" fill="none" stroke="#1a1a1a" stroke-width="1.25" stroke-dasharray="1.4 3.24"/>
<path d="M307 720.13L393.21 737.8" fill="none" stroke="#1a1a1a" stroke-width="1.25" stroke-dasharray="1.4 3.24"/>
<path d="M307 759.35L391.81 737.8" fill="none" stroke="#1a1a1a" stroke-width="1.25" stroke-dasharray="1.4 3.29"/>
<path d="M307 716.25L391.81 737.8" fill="none" stroke="#1a1a1a" stroke-width="1.25" stroke-dasharray="1.4 3.29"/>
<path d="M307 761.98L390.17 737.8" fill="none" stroke="#1a1a1a" stroke-width="1.25" stroke-dasharray="1.4 3.34"/>
<path d="M307 713.62L390.17 737.8" fill="none" stroke="#1a1a1a" stroke-width="1.25" stroke-dasharray="1.4 3.34"/>
<path d="M307 763.59L388.39 737.8" fill="none" stroke="#1a1a1a" stroke-width="1.25" stroke-dasharray="1.4 3.37"/>
<path d="M307 712.01L388.39 737.8" fill="none" stroke="#1a1a1a" stroke-width="1.25" stroke-dasharray="1.4 3.37"/>
<path d="M307 764.39L386.74 737.8" fill="none" stroke="#1a1a1a" stroke-width="1.25" stroke-dasharray="1.4 3.4"/>
<path d="M307 711.21L386.74 737.8" fill="none" stroke="#1a1a1a" stroke-width="1.25" stroke-dasharray="1.4 3.4"/>
<path d="M307 764.72L385.36 737.8" fill="none" stroke="#1a1a1a" stroke-width="1.25" stroke-dasharray="1.4 3.41"/>
<path d="M307 710.88L385.36 737.8" fill="none" stroke="#1a1a1a" stroke-width="1.25" stroke-dasharray="1.4 3.41"/>
<path d="M307 764.8L384.57 737.8" fill="none" stroke="#1a1a1a" stroke-width="1.25" stroke-dasharray="1.4 3.42"/>
<path d="M307 710.8L384.57 737.8" fill="none" stroke="#1a1a1a" stroke-width="1.25" stroke-dasharray="1.4 3.42"/>
<path d="M395.13 694.32V781.28" stroke="#555" stroke-width="1.2"/>
<path d="M415.8 737.8L415.84 737.8 415.93 737.8 416.04 737.8 416.18 737.8 416.35 737.8 416.54 737.8 416.75 737.8 416.99 737.8 417.25 737.8 417.52 737.8 417.83 737.8 418.15 737.8 418.49 737.8 418.86 737.8 419.25 737.8 419.66 737.8 420.1 737.8 420.56 737.8 421.05 737.8 421.56 737.8 422.09 737.8 422.66 737.8 423.25 737.8 423.87 737.8 424.51 737.8 425.19 737.8 425.89 737.8 426.63 737.8 427.4 737.8 428.19 737.8 429.03 737.8 429.89 737.8 430.79 737.8 431.73 737.8 432.7 737.8 433.7 737.8 434.75 737.8 435.83 737.8 436.95 737.8 438.12 737.8 439.32 737.8 440.57 737.8 441.85 737.8 443.18 737.8 444.56 737.8 445.98 737.8 447.45 737.8 448.97 737.8 450.53 737.8 452.14 737.8 453.8 737.8 455.52 737.8 457.28 737.8 459.1 737.8 460.97 737.8 462.9 737.8 464.88 737.8 466.92 737.8 469.02 737.8 471.17 737.8 473.39 737.8 475.66 737.8 478 737.8 480.4 737.8 482.86 737.8 485.39 737.8 487.98 737.8 490.64 737.8 493.37 737.8 496.17 737.8 499.03 737.8 501.97 737.8 504.98 737.8 508.06 737.8 511.22 737.8 514.45 737.8 517.75 737.8 521.14 737.8 524.6 737.8 527.6 737.8 530.6 737.8 533.6 737.8 536.61 737.8 539.61 737.8 542.61 737.8 545.61 737.8 548.61 737.8 551.61 737.8 554.61 737.8 557.62 737.8 560.62 737.8 563.62 737.8 566.62 737.8 569.62 737.8 572.62 737.8 575.62 737.8 578.62 737.8 581.63 737.8 584.63 737.8 587.63 737.8 590.63 737.8 593.63 737.8 596.63 737.8 599.63 737.8 602.64 737.8 605.64 737.8 608.64 737.8 611.64 737.8 785.72 737.8 M415.8 737.8L415.84 737.79 415.92 737.78 416.04 737.76 416.18 737.73 416.34 737.71 416.53 737.67 416.74 737.64 416.98 737.6 417.23 737.56 417.51 737.51 417.8 737.47 418.12 737.42 418.47 737.37 418.83 737.31 419.22 737.25 419.63 737.19 420.06 737.13 420.52 737.07 421 737 421.51 736.93 422.04 736.86 422.6 736.79 423.19 736.72 423.8 736.64 424.44 736.56 425.12 736.48 425.82 736.4 426.55 736.32 427.31 736.23 428.11 736.14 428.94 736.06 429.8 735.96 430.7 735.87 431.63 735.78 432.6 735.68 433.6 735.58 434.64 735.48 435.72 735.38 436.84 735.28 438 735.18 439.2 735.07 440.45 734.96 441.73 734.86 443.06 734.75 444.44 734.63 445.86 734.52 447.33 734.41 448.84 734.29 450.4 734.17 452.02 734.05 453.68 733.93 455.39 733.81 457.16 733.69 458.97 733.56 460.85 733.43 462.78 733.31 464.76 733.18 466.8 733.05 468.9 732.92 471.06 732.78 473.27 732.65 475.55 732.51 477.89 732.37 480.3 732.24 482.76 732.1 485.3 731.96 487.89 731.81 490.56 731.67 493.29 731.52 496.1 731.38 498.97 731.23 501.91 731.08 504.93 730.93 508.02 730.78 511.18 730.63 514.42 730.48 517.74 730.32 521.13 730.16 524.6 730.01 527.6 729.87 530.6 729.74 533.6 729.61 536.61 729.48 539.61 729.35 542.61 729.22 545.61 729.09 548.61 728.96 551.61 728.83 554.61 728.7 557.62 728.57 560.62 728.44 563.62 728.31 566.62 728.18 569.62 728.05 572.62 727.92 575.62 727.78 578.62 727.65 581.63 727.51 584.63 727.37 587.63 727.23 590.63 727.09 593.63 726.95 596.63 726.8 599.63 726.65 602.64 726.5 605.64 726.35 608.64 726.19 611.64 726.03 785.72 716.71 M415.8 737.8L415.84 737.81 415.92 737.82 416.04 737.84 416.18 737.87 416.34 737.89 416.53 737.93 416.74 737.96 416.98 738 417.23 738.04 417.51 738.09 417.8 738.13 418.12 738.18 418.47 738.23 418.83 738.29 419.22 738.35 419.63 738.41 420.06 738.47 420.52 738.53 421 738.6 421.51 738.67 422.04 738.74 422.6 738.81 423.19 738.88 423.8 738.96 424.44 739.04 425.12 739.12 425.82 739.2 426.55 739.28 427.31 739.37 428.11 739.46 428.94 739.54 429.8 739.64 430.7 739.73 431.63 739.82 432.6 739.92 433.6 740.02 434.64 740.12 435.72 740.22 436.84 740.32 438 740.42 439.2 740.53 440.45 740.64 441.73 740.74 443.06 740.85 444.44 740.97 445.86 741.08 447.33 741.19 448.84 741.31 450.4 741.43 452.02 741.55 453.68 741.67 455.39 741.79 457.16 741.91 458.97 742.04 460.85 742.17 462.78 742.29 464.76 742.42 466.8 742.55 468.9 742.68 471.06 742.82 473.27 742.95 475.55 743.09 477.89 743.23 480.3 743.36 482.76 743.5 485.3 743.64 487.89 743.79 490.56 743.93 493.29 744.08 496.1 744.22 498.97 744.37 501.91 744.52 504.93 744.67 508.02 744.82 511.18 744.97 514.42 745.12 517.74 745.28 521.13 745.44 524.6 745.59 527.6 745.73 530.6 745.87 533.6 746.01 536.61 746.16 539.61 746.3 542.61 746.45 545.61 746.61 548.61 746.76 551.61 746.92 554.61 747.08 557.62 747.24 560.62 747.4 563.62 747.56 566.62 747.73 569.62 747.9 572.62 748.06 575.62 748.23 578.62 748.4 581.63 748.57 584.63 748.74 587.63 748.92 590.63 749.09 593.63 749.26 596.63 749.43 599.63 749.6 602.64 749.78 605.64 749.95 608.64 750.12 611.64 750.29 785.72 760.19 M415.8 737.8L415.84 737.79 415.92 737.76 416.03 737.72 416.17 737.67 416.33 737.61 416.51 737.55 416.71 737.48 416.94 737.4 417.18 737.32 417.45 737.23 417.74 737.14 418.05 737.04 418.39 736.93 418.74 736.83 419.12 736.71 419.52 736.59 419.94 736.47 420.39 736.34 420.86 736.21 421.36 736.08 421.88 735.94 422.43 735.79 423 735.64 423.61 735.49 424.24 735.34 424.9 735.18 425.59 735.01 426.31 734.85 427.07 734.68 427.85 734.5 428.67 734.32 429.52 734.14 430.41 733.96 431.33 733.77 432.29 733.58 433.29 733.38 434.32 733.19 435.4 732.99 436.51 732.78 437.66 732.57 438.86 732.36 440.09 732.15 441.37 731.93 442.7 731.71 444.07 731.49 445.49 731.26 446.95 731.03 448.46 730.8 450.02 730.57 451.63 730.33 453.29 730.09 455.01 729.85 456.77 729.6 458.6 729.35 460.47 729.1 462.4 728.85 464.39 728.59 466.44 728.33 468.54 728.07 470.71 727.8 472.93 727.53 475.22 727.26 477.57 726.99 479.98 726.71 482.46 726.43 485.01 726.15 487.62 725.87 490.3 725.58 493.05 725.29 495.87 725 498.77 724.71 501.73 724.41 504.77 724.11 507.88 723.81 511.07 723.51 514.33 723.2 517.68 722.9 521.1 722.58 524.6 722.27 527.6 722 530.6 721.74 533.6 721.48 536.61 721.21 539.61 720.95 542.61 720.68 545.61 720.42 548.61 720.16 551.61 719.89 554.61 719.62 557.62 719.36 560.62 719.09 563.62 718.82 566.62 718.55 569.62 718.28 572.62 718 575.62 717.72 578.62 717.44 581.63 717.16 584.63 716.88 587.63 716.59 590.63 716.3 593.63 716 596.63 715.7 599.63 715.4 602.64 715.09 605.64 714.78 608.64 714.46 611.64 714.14 785.72 695.41 M415.8 737.8L415.84 737.81 415.92 737.84 416.03 737.88 416.17 737.93 416.33 737.99 416.51 738.05 416.71 738.12 416.94 738.2 417.18 738.28 417.45 738.37 417.74 738.46 418.05 738.56 418.39 738.67 418.74 738.77 419.12 738.89 419.52 739.01 419.94 739.13 420.39 739.26 420.86 739.39 421.36 739.52 421.88 739.66 422.43 739.81 423 739.96 423.61 740.11 424.24 740.26 424.9 740.42 425.59 740.59 426.31 740.75 427.07 740.92 427.85 741.1 428.67 741.28 429.52 741.46 430.41 741.64 431.33 741.83 432.29 742.02 433.29 742.22 434.32 742.41 435.4 742.61 436.51 742.82 437.66 743.03 438.86 743.24 440.09 743.45 441.37 743.67 442.7 743.89 444.07 744.11 445.49 744.34 446.95 744.57 448.46 744.8 450.02 745.03 451.63 745.27 453.29 745.51 455.01 745.75 456.77 746 458.6 746.25 460.47 746.5 462.4 746.75 464.39 747.01 466.44 747.27 468.54 747.53 470.71 747.8 472.93 748.07 475.22 748.34 477.57 748.61 479.98 748.89 482.46 749.17 485.01 749.45 487.62 749.73 490.3 750.02 493.05 750.31 495.87 750.6 498.77 750.89 501.73 751.19 504.77 751.49 507.88 751.79 511.07 752.09 514.33 752.4 517.68 752.7 521.1 753.02 524.6 753.33 527.6 753.6 530.6 753.87 533.6 754.15 536.61 754.43 539.61 754.71 542.61 755 545.61 755.29 548.61 755.58 551.61 755.88 554.61 756.18 557.62 756.48 560.62 756.79 563.62 757.1 566.62 757.41 569.62 757.72 572.62 758.04 575.62 758.36 578.62 758.68 581.63 759 584.63 759.32 587.63 759.65 590.63 759.98 593.63 760.31 596.63 760.64 599.63 760.97 602.64 761.3 605.64 761.63 608.64 761.96 611.64 762.3 785.72 781.7 M415.8 737.8L415.84 737.78 415.91 737.74 416.02 737.68 416.14 737.6 416.29 737.52 416.47 737.43 416.66 737.32 416.87 737.21 417.11 737.08 417.36 736.95 417.64 736.81 417.93 736.67 418.25 736.51 418.59 736.35 418.95 736.18 419.33 736 419.74 735.82 420.17 735.63 420.62 735.43 421.1 735.23 421.61 735.02 422.14 734.81 422.69 734.59 423.28 734.36 423.89 734.13 424.54 733.89 425.21 733.65 425.92 733.4 426.65 733.14 427.42 732.88 428.22 732.62 429.06 732.35 429.93 732.07 430.84 731.79 431.78 731.51 432.76 731.22 433.78 730.92 434.84 730.62 435.94 730.32 437.08 730.01 438.27 729.7 439.5 729.38 440.77 729.06 442.08 728.73 443.45 728.4 444.86 728.06 446.31 727.72 447.82 727.37 449.38 727.02 450.99 726.67 452.65 726.31 454.36 725.95 456.13 725.58 457.95 725.21 459.83 724.84 461.77 724.46 463.77 724.07 465.82 723.69 467.94 723.29 470.11 722.9 472.35 722.5 474.65 722.1 477.02 721.69 479.46 721.28 481.96 720.86 484.52 720.44 487.16 720.02 489.87 719.59 492.65 719.16 495.5 718.73 498.42 718.29 501.42 717.85 504.5 717.41 507.65 716.96 510.88 716.5 514.19 716.05 517.58 715.59 521.05 715.13 524.6 714.66 527.6 714.27 530.6 713.88 533.6 713.49 536.61 713.1 539.61 712.71 542.61 712.32 545.61 711.93 548.61 711.54 551.61 711.15 554.61 710.76 557.62 710.36 560.62 709.96 563.62 709.57 566.62 709.16 569.62 708.76 572.62 708.35 575.62 707.94 578.62 707.52 581.63 707.1 584.63 706.68 587.63 706.25 590.63 705.82 593.63 705.38 596.63 704.94 599.63 704.49 602.64 704.03 605.64 703.57 608.64 703.1 611.64 702.62 785.72 674.75 M415.8 737.8L415.84 737.82 415.91 737.86 416.02 737.92 416.14 738 416.29 738.08 416.47 738.17 416.66 738.28 416.87 738.39 417.11 738.52 417.36 738.65 417.64 738.79 417.93 738.93 418.25 739.09 418.59 739.25 418.95 739.42 419.33 739.6 419.74 739.78 420.17 739.97 420.62 740.17 421.1 740.37 421.61 740.58 422.14 740.79 422.69 741.01 423.28 741.24 423.89 741.47 424.54 741.71 425.21 741.95 425.92 742.2 426.65 742.46 427.42 742.72 428.22 742.98 429.06 743.25 429.93 743.53 430.84 743.81 431.78 744.09 432.76 744.38 433.78 744.68 434.84 744.98 435.94 745.28 437.08 745.59 438.27 745.9 439.5 746.22 440.77 746.54 442.08 746.87 443.45 747.2 444.86 747.54 446.31 747.88 447.82 748.23 449.38 748.58 450.99 748.93 452.65 749.29 454.36 749.65 456.13 750.02 457.95 750.39 459.83 750.76 461.77 751.14 463.77 751.53 465.82 751.91 467.94 752.31 470.11 752.7 472.35 753.1 474.65 753.5 477.02 753.91 479.46 754.32 481.96 754.74 484.52 755.16 487.16 755.58 489.87 756.01 492.65 756.44 495.5 756.87 498.42 757.31 501.42 757.75 504.5 758.19 507.65 758.64 510.88 759.1 514.19 759.55 517.58 760.01 521.05 760.47 524.6 760.94 527.6 761.34 530.6 761.73 533.6 762.14 536.61 762.54 539.61 762.96 542.61 763.37 545.61 763.79 548.61 764.22 551.61 764.64 554.61 765.08 557.62 765.51 560.62 765.95 563.62 766.4 566.62 766.84 569.62 767.3 572.62 767.75 575.62 768.21 578.62 768.67 581.63 769.13 584.63 769.6 587.63 770.07 590.63 770.55 593.63 771.02 596.63 771.5 599.63 771.98 602.64 772.47 605.64 772.96 608.64 773.45 611.64 773.94 785.72 802.56 M415.8 737.8L415.83 737.77 415.9 737.71 416 737.64 416.11 737.54 416.25 737.43 416.41 737.31 416.59 737.17 416.78 737.02 417 736.85 417.23 736.68 417.49 736.5 417.76 736.3 418.06 736.1 418.37 735.88 418.71 735.66 419.07 735.43 419.45 735.19 419.85 734.94 420.28 734.68 420.74 734.41 421.22 734.13 421.72 733.85 422.25 733.56 422.81 733.26 423.4 732.95 424.02 732.64 424.67 732.32 425.35 731.99 426.06 731.66 426.8 731.31 427.58 730.96 428.39 730.61 429.24 730.24 430.13 729.87 431.05 729.5 432.01 729.12 433.01 728.73 434.05 728.33 435.14 727.93 436.26 727.52 437.43 727.11 438.64 726.69 439.9 726.26 441.2 725.83 442.56 725.39 443.96 724.95 445.41 724.5 446.91 724.04 448.46 723.58 450.07 723.11 451.73 722.64 453.44 722.16 455.21 721.68 457.04 721.19 458.92 720.69 460.87 720.19 462.88 719.68 464.94 719.17 467.07 718.66 469.27 718.13 471.52 717.61 473.85 717.08 476.24 716.54 478.7 716 481.23 715.45 483.83 714.9 486.5 714.34 489.25 713.77 492.07 713.21 494.96 712.63 497.93 712.06 500.98 711.47 504.11 710.89 507.32 710.29 510.61 709.7 513.98 709.1 517.43 708.49 520.97 707.88 524.6 707.26 527.6 706.76 530.6 706.25 533.6 705.74 536.61 705.24 539.61 704.73 542.61 704.23 545.61 703.72 548.61 703.21 551.61 702.69 554.61 702.18 557.62 701.66 560.62 701.14 563.62 700.61 566.62 700.09 569.62 699.55 572.62 699.02 575.62 698.47 578.62 697.93 581.63 697.37 584.63 696.81 587.63 696.25 590.63 695.68 593.63 695.1 596.63 694.51 599.63 693.92 602.64 693.32 605.64 692.71 608.64 692.09 611.64 691.46 785.72 654.75 M415.8 737.8L415.83 737.83 415.9 737.89 416 737.96 416.11 738.06 416.25 738.17 416.41 738.29 416.59 738.43 416.78 738.58 417 738.75 417.23 738.92 417.49 739.1 417.76 739.3 418.06 739.5 418.37 739.72 418.71 739.94 419.07 740.17 419.45 740.41 419.85 740.66 420.28 740.92 420.74 741.19 421.22 741.47 421.72 741.75 422.25 742.04 422.81 742.34 423.4 742.65 424.02 742.96 424.67 743.28 425.35 743.61 426.06 743.94 426.8 744.29 427.58 744.64 428.39 744.99 429.24 745.36 430.13 745.73 431.05 746.1 432.01 746.48 433.01 746.87 434.05 747.27 435.14 747.67 436.26 748.08 437.43 748.49 438.64 748.91 439.9 749.34 441.2 749.77 442.56 750.21 443.96 750.65 445.41 751.1 446.91 751.56 448.46 752.02 450.07 752.49 451.73 752.96 453.44 753.44 455.21 753.92 457.04 754.41 458.92 754.91 460.87 755.41 462.88 755.92 464.94 756.43 467.07 756.94 469.27 757.47 471.52 757.99 473.85 758.52 476.24 759.06 478.7 759.6 481.23 760.15 483.83 760.7 486.5 761.26 489.25 761.83 492.07 762.39 494.96 762.97 497.93 763.54 500.98 764.13 504.11 764.71 507.32 765.31 510.61 765.9 513.98 766.5 517.43 767.11 520.97 767.72 524.6 768.34 527.6 768.85 530.6 769.36 533.6 769.88 536.61 770.41 539.61 770.94 542.61 771.48 545.61 772.02 548.61 772.57 551.61 773.12 554.61 773.68 557.62 774.25 560.62 774.82 563.62 775.39 566.62 775.97 569.62 776.55 572.62 777.14 575.62 777.74 578.62 778.34 581.63 778.94 584.63 779.55 587.63 780.16 590.63 780.78 593.63 781.4 596.63 782.02 599.63 782.65 602.64 783.29 605.64 783.92 608.64 784.57 611.64 785.21 785.72 822.76 M415.8 737.8L415.83 737.77 415.89 737.7 415.97 737.6 416.07 737.48 416.19 737.35 416.33 737.19 416.49 737.02 416.66 736.84 416.85 736.64 417.06 736.42 417.29 736.2 417.53 735.96 417.8 735.7 418.09 735.44 418.39 735.17 418.72 734.88 419.07 734.58 419.44 734.27 419.84 733.95 420.26 733.63 420.7 733.29 421.17 732.94 421.67 732.58 422.2 732.21 422.75 731.83 423.34 731.45 423.95 731.05 424.6 730.65 425.28 730.24 425.99 729.81 426.74 729.38 427.52 728.95 428.34 728.5 429.2 728.04 430.09 727.58 431.02 727.11 432 726.63 433.01 726.14 434.07 725.65 435.18 725.15 436.32 724.64 437.52 724.12 438.76 723.59 440.05 723.06 441.39 722.52 442.77 721.97 444.21 721.42 445.71 720.86 447.25 720.29 448.85 719.72 450.51 719.13 452.23 718.55 454 717.95 455.83 717.35 457.73 716.74 459.68 716.12 461.7 715.5 463.79 714.87 465.94 714.23 468.15 713.59 470.44 712.94 472.79 712.29 475.21 711.63 477.71 710.96 480.28 710.28 482.92 709.6 485.64 708.92 488.43 708.22 491.31 707.52 494.26 706.82 497.29 706.11 500.41 705.39 503.6 704.67 506.88 703.94 510.25 703.2 513.71 702.46 517.25 701.72 520.88 700.96 524.6 700.2 527.6 699.6 530.6 698.99 533.6 698.39 536.61 697.78 539.61 697.17 542.61 696.57 545.61 695.96 548.61 695.35 551.61 694.73 554.61 694.11 557.62 693.49 560.62 692.87 563.62 692.24 566.62 691.6 569.62 690.96 572.62 690.31 575.62 689.66 578.62 689 581.63 688.33 584.63 687.66 587.63 686.97 590.63 686.28 593.63 685.58 596.63 684.87 599.63 684.15 602.64 683.41 605.64 682.67 608.64 681.91 611.64 681.15 785.72 636.27 M415.8 737.8L415.83 737.83 415.89 737.9 415.97 738 416.07 738.12 416.19 738.25 416.33 738.41 416.49 738.58 416.66 738.76 416.85 738.96 417.06 739.18 417.29 739.4 417.53 739.64 417.8 739.9 418.09 740.16 418.39 740.43 418.72 740.72 419.07 741.02 419.44 741.33 419.84 741.65 420.26 741.97 420.7 742.31 421.17 742.66 421.67 743.02 422.2 743.39 422.75 743.77 423.34 744.15 423.95 744.55 424.6 744.95 425.28 745.36 425.99 745.79 426.74 746.22 427.52 746.65 428.34 747.1 429.2 747.56 430.09 748.02 431.02 748.49 432 748.97 433.01 749.46 434.07 749.95 435.18 750.45 436.32 750.96 437.52 751.48 438.76 752.01 440.05 752.54 441.39 753.08 442.77 753.63 444.21 754.18 445.71 754.74 447.25 755.31 448.85 755.88 450.51 756.47 452.23 757.05 454 757.65 455.83 758.25 457.73 758.86 459.68 759.48 461.7 760.1 463.79 760.73 465.94 761.37 468.15 762.01 470.44 762.66 472.79 763.31 475.21 763.97 477.71 764.64 480.28 765.32 482.92 766 485.64 766.68 488.43 767.38 491.31 768.08 494.26 768.78 497.29 769.49 500.41 770.21 503.6 770.93 506.88 771.66 510.25 772.4 513.71 773.14 517.25 773.88 520.88 774.64 524.6 775.4 527.6 776.01 530.6 776.62 533.6 777.24 536.61 777.87 539.61 778.51 542.61 779.15 545.61 779.79 548.61 780.45 551.61 781.11 554.61 781.77 557.62 782.44 560.62 783.12 563.62 783.81 566.62 784.5 569.62 785.2 572.62 785.9 575.62 786.61 578.62 787.33 581.63 788.05 584.63 788.78 587.63 789.51 590.63 790.25 593.63 791 596.63 791.76 599.63 792.52 602.64 793.29 605.64 794.06 608.64 794.84 611.64 795.63 785.72 841.43 M415.8 737.8L415.82 737.76 415.87 737.68 415.94 737.56 416.02 737.43 416.12 737.27 416.23 737.09 416.36 736.89 416.51 736.67 416.67 736.43 416.85 736.18 417.04 735.92 417.25 735.64 417.48 735.34 417.73 735.03 418 734.71 418.28 734.37 418.59 734.02 418.93 733.66 419.28 733.29 419.66 732.9 420.06 732.5 420.49 732.09 420.95 731.67 421.43 731.24 421.94 730.8 422.49 730.34 423.06 729.88 423.67 729.4 424.3 728.92 424.98 728.42 425.68 727.92 426.43 727.4 427.21 726.88 428.03 726.34 428.89 725.8 429.79 725.25 430.73 724.69 431.72 724.11 432.75 723.53 433.82 722.94 434.94 722.34 436.11 721.74 437.33 721.12 438.6 720.5 439.92 719.86 441.29 719.22 442.72 718.57 444.2 717.91 445.74 717.24 447.34 716.57 449 715.88 450.71 715.19 452.49 714.49 454.33 713.79 456.23 713.07 458.2 712.35 460.24 711.62 462.34 710.88 464.52 710.13 466.76 709.38 469.08 708.61 471.47 707.85 473.93 707.07 476.47 706.28 479.09 705.49 481.78 704.69 484.56 703.89 487.42 703.07 490.36 702.25 493.38 701.43 496.49 700.59 499.68 699.75 502.97 698.9 506.34 698.04 509.81 697.18 513.36 696.31 517.01 695.43 520.76 694.55 524.6 693.66 527.6 692.97 530.6 692.28 533.6 691.59 536.61 690.91 539.61 690.22 542.61 689.52 545.61 688.83 548.61 688.13 551.61 687.44 554.61 686.73 557.62 686.02 560.62 685.31 563.62 684.59 566.62 683.87 569.62 683.13 572.62 682.39 575.62 681.64 578.62 680.89 581.63 680.12 584.63 679.34 587.63 678.56 590.63 677.76 593.63 676.95 596.63 676.13 599.63 675.29 602.64 674.44 605.64 673.58 608.64 672.7 611.64 671.81 785.72 619.53 M415.8 737.8L415.82 737.84 415.87 737.92 415.94 738.04 416.02 738.17 416.12 738.33 416.23 738.51 416.36 738.71 416.51 738.93 416.67 739.17 416.85 739.42 417.04 739.68 417.25 739.96 417.48 740.26 417.73 740.57 418 740.89 418.28 741.23 418.59 741.58 418.93 741.94 419.28 742.31 419.66 742.7 420.06 743.1 420.49 743.51 420.95 743.93 421.43 744.36 421.94 744.8 422.49 745.26 423.06 745.72 423.67 746.2 424.3 746.68 424.98 747.18 425.68 747.68 426.43 748.2 427.21 748.72 428.03 749.26 428.89 749.8 429.79 750.35 430.73 750.91 431.72 751.49 432.75 752.07 433.82 752.66 434.94 753.26 436.11 753.86 437.33 754.48 438.6 755.1 439.92 755.74 441.29 756.38 442.72 757.03 444.2 757.69 445.74 758.36 447.34 759.03 449 759.72 450.71 760.41 452.49 761.11 454.33 761.81 456.23 762.53 458.2 763.25 460.24 763.98 462.34 764.72 464.52 765.47 466.76 766.22 469.08 766.99 471.47 767.75 473.93 768.53 476.47 769.32 479.09 770.11 481.78 770.91 484.56 771.71 487.42 772.53 490.36 773.35 493.38 774.17 496.49 775.01 499.68 775.85 502.97 776.7 506.34 777.56 509.81 778.42 513.36 779.29 517.01 780.17 520.76 781.05 524.6 781.94 527.6 782.63 530.6 783.33 533.6 784.04 536.61 784.75 539.61 785.47 542.61 786.2 545.61 786.93 548.61 787.67 551.61 788.42 554.61 789.18 557.62 789.94 560.62 790.71 563.62 791.49 566.62 792.27 569.62 793.07 572.62 793.87 575.62 794.68 578.62 795.5 581.63 796.32 584.63 797.16 587.63 798 590.63 798.85 593.63 799.71 596.63 800.58 599.63 801.46 602.64 802.35 605.64 803.24 608.64 804.15 611.64 805.06 785.72 858.34 M415.8 737.8L415.82 737.75 415.85 737.66 415.9 737.53 415.96 737.38 416.03 737.2 416.12 736.99 416.22 736.77 416.33 736.52 416.45 736.25 416.59 735.97 416.74 735.67 416.91 735.35 417.1 735.02 417.3 734.67 417.52 734.3 417.76 733.92 418.02 733.52 418.3 733.11 418.61 732.69 418.94 732.25 419.29 731.8 419.67 731.34 420.07 730.86 420.51 730.38 420.97 729.87 421.46 729.36 421.98 728.84 422.54 728.3 423.13 727.75 423.75 727.19 424.41 726.62 425.11 726.03 425.85 725.44 426.62 724.84 427.44 724.22 428.3 723.59 429.2 722.96 430.15 722.31 431.15 721.65 432.19 720.99 433.28 720.31 434.42 719.62 435.61 718.92 436.86 718.22 438.16 717.5 439.51 716.77 440.92 716.04 442.4 715.29 443.92 714.54 445.52 713.77 447.17 713 448.89 712.22 450.67 711.42 452.52 710.62 454.43 709.81 456.42 709 458.48 708.17 460.61 707.33 462.81 706.49 465.09 705.63 467.44 704.77 469.87 703.9 472.39 703.02 474.98 702.13 477.65 701.24 480.41 700.33 483.26 699.42 486.19 698.5 489.21 697.57 492.32 696.64 495.52 695.69 498.82 694.74 502.2 693.78 505.69 692.81 509.27 691.83 512.95 690.85 516.73 689.85 520.61 688.85 524.6 687.85 527.6 687.1 530.6 686.35 533.6 685.61 536.61 684.86 539.61 684.12 542.61 683.38 545.61 682.63 548.61 681.89 551.61 681.14 554.61 680.39 557.62 679.63 560.62 678.86 563.62 678.09 566.62 677.32 569.62 676.53 572.62 675.74 575.62 674.93 578.62 674.12 581.63 673.29 584.63 672.45 587.63 671.59 590.63 670.72 593.63 669.84 596.63 668.94 599.63 668.02 602.64 667.09 605.64 666.13 608.64 665.16 611.64 664.16 785.72 605.84 M415.8 737.8L415.82 737.85 415.85 737.94 415.9 738.07 415.96 738.22 416.03 738.4 416.12 738.61 416.22 738.83 416.33 739.08 416.45 739.35 416.59 739.63 416.74 739.93 416.91 740.25 417.1 740.58 417.3 740.93 417.52 741.3 417.76 741.68 418.02 742.08 418.3 742.49 418.61 742.91 418.94 743.35 419.29 743.8 419.67 744.26 420.07 744.74 420.51 745.22 420.97 745.73 421.46 746.24 421.98 746.76 422.54 747.3 423.13 747.85 423.75 748.41 424.41 748.98 425.11 749.57 425.85 750.16 426.62 750.76 427.44 751.38 428.3 752.01 429.2 752.64 430.15 753.29 431.15 753.95 432.19 754.61 433.28 755.29 434.42 755.98 435.61 756.68 436.86 757.38 438.16 758.1 439.51 758.83 440.92 759.56 442.4 760.31 443.92 761.06 445.52 761.83 447.17 762.6 448.89 763.38 450.67 764.18 452.52 764.98 454.43 765.79 456.42 766.6 458.48 767.43 460.61 768.27 462.81 769.11 465.09 769.97 467.44 770.83 469.87 771.7 472.39 772.58 474.98 773.47 477.65 774.36 480.41 775.27 483.26 776.18 486.19 777.1 489.21 778.03 492.32 778.96 495.52 779.91 498.82 780.86 502.2 781.82 505.69 782.79 509.27 783.77 512.95 784.75 516.73 785.75 520.61 786.75 524.6 787.75 527.6 788.51 530.6 789.27 533.6 790.03 536.61 790.8 539.61 791.57 542.61 792.35 545.61 793.14 548.61 793.93 551.61 794.73 554.61 795.54 557.62 796.36 560.62 797.18 563.62 798.01 566.62 798.86 569.62 799.71 572.62 800.57 575.62 801.44 578.62 802.32 581.63 803.21 584.63 804.11 587.63 805.02 590.63 805.95 593.63 806.88 596.63 807.83 599.63 808.8 602.64 809.77 605.64 810.76 608.64 811.76 611.64 812.78 785.72 872.17 M415.8 737.8L415.81 737.75 415.83 737.65 415.85 737.51 415.89 737.34 415.93 737.14 415.98 736.91 416.04 736.67 416.11 736.4 416.19 736.11 416.29 735.79 416.39 735.46 416.51 735.11 416.65 734.75 416.8 734.36 416.96 733.96 417.15 733.55 417.35 733.11 417.58 732.66 417.83 732.2 418.1 731.72 418.39 731.23 418.71 730.72 419.05 730.2 419.43 729.66 419.83 729.11 420.26 728.55 420.73 727.97 421.23 727.38 421.76 726.78 422.33 726.17 422.93 725.54 423.58 724.9 424.26 724.25 424.98 723.59 425.75 722.91 426.56 722.23 427.42 721.53 428.33 720.82 429.28 720.1 430.28 719.37 431.34 718.63 432.45 717.87 433.61 717.11 434.82 716.33 436.1 715.55 437.43 714.75 438.83 713.94 440.28 713.13 441.8 712.3 443.39 711.46 445.04 710.61 446.75 709.75 448.54 708.89 450.4 708.01 452.33 707.12 454.34 706.22 456.42 705.32 458.57 704.4 460.81 703.47 463.13 702.54 465.53 701.59 468.01 700.64 470.58 699.67 473.24 698.7 475.98 697.72 478.81 696.73 481.74 695.73 484.76 694.72 487.87 693.7 491.08 692.67 494.39 691.64 497.8 690.59 501.31 689.54 504.92 688.48 508.64 687.41 512.47 686.33 516.4 685.24 520.45 684.14 524.6 683.04 527.6 682.25 530.6 681.47 533.6 680.7 536.61 679.93 539.61 679.16 542.61 678.39 545.61 677.62 548.61 676.86 551.61 676.09 554.61 675.31 557.62 674.53 560.62 673.75 563.62 672.96 566.62 672.16 569.62 671.35 572.62 670.53 575.62 669.7 578.62 668.86 581.63 668 584.63 667.12 587.63 666.23 590.63 665.32 593.63 664.39 596.63 663.44 599.63 662.47 602.64 661.48 605.64 660.46 608.64 659.41 611.64 658.34 785.72 595.4 M415.8 737.8L415.81 737.85 415.83 737.95 415.85 738.09 415.89 738.26 415.93 738.46 415.98 738.69 416.04 738.93 416.11 739.2 416.19 739.49 416.29 739.81 416.39 740.14 416.51 740.49 416.65 740.85 416.8 741.24 416.96 741.64 417.15 742.05 417.35 742.49 417.58 742.94 417.83 743.4 418.1 743.88 418.39 744.37 418.71 744.88 419.05 745.4 419.43 745.94 419.83 746.49 420.26 747.05 420.73 747.63 421.23 748.22 421.76 748.82 422.33 749.43 422.93 750.06 423.58 750.7 424.26 751.35 424.98 752.01 425.75 752.69 426.56 753.37 427.42 754.07 428.33 754.78 429.28 755.5 430.28 756.23 431.34 756.97 432.45 757.73 433.61 758.49 434.82 759.27 436.1 760.05 437.43 760.85 438.83 761.66 440.28 762.47 441.8 763.3 443.39 764.14 445.04 764.99 446.75 765.85 448.54 766.71 450.4 767.59 452.33 768.48 454.34 769.38 456.42 770.28 458.57 771.2 460.81 772.13 463.13 773.06 465.53 774.01 468.01 774.96 470.58 775.93 473.24 776.9 475.98 777.88 478.81 778.87 481.74 779.87 484.76 780.88 487.87 781.9 491.08 782.93 494.39 783.96 497.8 785.01 501.31 786.06 504.92 787.12 508.64 788.19 512.47 789.27 516.4 790.36 520.45 791.46 524.6 792.56 527.6 793.35 530.6 794.14 533.6 794.94 536.61 795.74 539.61 796.54 542.61 797.35 545.61 798.16 548.61 798.97 551.61 799.8 554.61 800.63 557.62 801.47 560.62 802.31 563.62 803.17 566.62 804.04 569.62 804.91 572.62 805.8 575.62 806.7 578.62 807.61 581.63 808.54 584.63 809.48 587.63 810.43 590.63 811.4 593.63 812.38 596.63 813.38 599.63 814.4 602.64 815.44 605.64 816.49 608.64 817.57 611.64 818.66 785.72 882.71 M415.8 737.8L415.8 737.75 415.8 737.64 415.8 737.49 415.81 737.31 415.82 737.1 415.83 736.86 415.85 736.59 415.87 736.31 415.9 736 415.95 735.67 416 735.31 416.06 734.94 416.14 734.55 416.23 734.14 416.33 733.72 416.46 733.27 416.6 732.81 416.76 732.34 416.94 731.84 417.14 731.33 417.37 730.81 417.62 730.27 417.9 729.71 418.2 729.14 418.54 728.56 418.91 727.96 419.3 727.35 419.74 726.72 420.2 726.08 420.71 725.43 421.25 724.76 421.84 724.08 422.46 723.39 423.13 722.68 423.84 721.96 424.6 721.23 425.4 720.49 426.26 719.74 427.17 718.97 428.13 718.19 429.14 717.4 430.21 716.6 431.34 715.79 432.52 714.96 433.77 714.13 435.08 713.28 436.45 712.42 437.89 711.55 439.4 710.67 440.97 709.78 442.62 708.88 444.34 707.97 446.13 707.04 448 706.11 449.95 705.16 451.98 704.21 454.08 703.24 456.28 702.27 458.55 701.28 460.91 700.29 463.36 699.28 465.9 698.27 468.54 697.24 471.26 696.21 474.08 695.16 477 694.11 480.02 693.05 483.14 691.97 486.36 690.89 489.68 689.8 493.11 688.69 496.65 687.58 500.3 686.46 504.06 685.33 507.93 684.19 511.92 683.05 516.03 681.89 520.25 680.72 524.6 679.55 527.6 678.75 530.6 677.97 533.6 677.19 536.61 676.43 539.61 675.68 542.61 674.93 545.61 674.18 548.61 673.44 551.61 672.7 554.61 671.95 557.62 671.21 560.62 670.46 563.62 669.7 566.62 668.93 569.62 668.15 572.62 667.36 575.62 666.56 578.62 665.74 581.63 664.91 584.63 664.05 587.63 663.17 590.63 662.27 593.63 661.35 596.63 660.4 599.63 659.42 602.64 658.41 605.64 657.37 608.64 656.3 611.64 655.19 785.72 589.75 M415.8 737.8L415.8 737.85 415.8 737.96 415.8 738.11 415.81 738.29 415.82 738.5 415.83 738.74 415.85 739.01 415.87 739.29 415.9 739.6 415.95 739.93 416 740.29 416.06 740.66 416.14 741.05 416.23 741.46 416.33 741.88 416.46 742.33 416.6 742.79 416.76 743.26 416.94 743.76 417.14 744.27 417.37 744.79 417.62 745.33 417.9 745.89 418.2 746.46 418.54 747.04 418.91 747.64 419.3 748.25 419.74 748.88 420.2 749.52 420.71 750.17 421.25 750.84 421.84 751.52 422.46 752.21 423.13 752.92 423.84 753.64 424.6 754.37 425.4 755.11 426.26 755.86 427.17 756.63 428.13 757.41 429.14 758.2 430.21 759 431.34 759.81 432.52 760.64 433.77 761.47 435.08 762.32 436.45 763.18 437.89 764.05 439.4 764.93 440.97 765.82 442.62 766.72 444.34 767.63 446.13 768.56 448 769.49 449.95 770.44 451.98 771.39 454.08 772.36 456.28 773.33 458.55 774.32 460.91 775.31 463.36 776.32 465.9 777.33 468.54 778.36 471.26 779.39 474.08 780.44 477 781.49 480.02 782.55 483.14 783.63 486.36 784.71 489.68 785.8 493.11 786.91 496.65 788.02 500.3 789.14 504.06 790.27 507.93 791.41 511.92 792.55 516.03 793.71 520.25 794.88 524.6 796.05 527.6 796.85 530.6 797.65 533.6 798.44 536.61 799.23 539.61 800.02 542.61 800.81 545.61 801.6 548.61 802.4 551.61 803.19 554.61 803.99 557.62 804.8 560.62 805.62 563.62 806.44 566.62 807.28 569.62 808.13 572.62 808.99 575.62 809.86 578.62 810.75 581.63 811.65 584.63 812.57 587.63 813.51 590.63 814.47 593.63 815.45 596.63 816.45 599.63 817.48 602.64 818.53 605.64 819.61 608.64 820.71 611.64 821.85 785.72 888.42" fill="none" stroke="#111" stroke-width="2.4" stroke-linejoin="round"/>
<path d="M415.8 516.05V959.55M524.6 516.05V629.1H611.64L785.72 542.14M524.6 959.55V846.5H611.64L785.72 933.46" fill="none" stroke="#111" stroke-width="2.6" stroke-linejoin="miter"/>
</g>
<rect x="307" y="520.4" width="544" height="434.8" fill="none" stroke="#555" stroke-width="1.4"/>
<text x="302.59" y="503.6" font-size="37.6" font-family='"Liberation Sans", Arial, sans-serif' fill="#232323" >No-grid case</text>
<text x="269.64" y="537.77" font-size="25.7" font-family='"Liberation Sans", Arial, sans-serif' fill="#232323" >10</text>
<text x="279.44" y="642.44" font-size="25.7" font-family='"Liberation Sans", Arial, sans-serif' fill="#232323" >5</text>
<text x="279.44" y="748.37" font-size="25.7" font-family='"Liberation Sans", Arial, sans-serif' fill="#232323" >0</text>
<text x="270.65" y="857.04" font-size="25.7" font-family='"Liberation Sans", Arial, sans-serif' fill="#232323" >-5</text>
<text x="260.96" y="965.57" font-size="25.7" font-family='"Liberation Sans", Arial, sans-serif' fill="#232323" >-10</text>
<text x="283.61" y="989" font-size="25.7" font-family='"Liberation Sans", Arial, sans-serif' fill="#232323" >-10</text>
<text x="408.6" y="989" font-size="25.7" font-family='"Liberation Sans", Arial, sans-serif' fill="#232323" >0</text>
<text x="509.69" y="989" font-size="25.7" font-family='"Liberation Sans", Arial, sans-serif' fill="#232323" >10</text>
<text x="618.88" y="989" font-size="25.7" font-family='"Liberation Sans", Arial, sans-serif' fill="#232323" >20</text>
<text x="729.81" y="989" font-size="25.7" font-family='"Liberation Sans", Arial, sans-serif' fill="#232323" >30</text>
<text x="838.87" y="989" font-size="25.7" font-family='"Liberation Sans", Arial, sans-serif' fill="#232323" >40</text>
<clipPath id="c4"><rect x="147.5" y="1033.5" width="839.97" height="471.5"/></clipPath><g clip-path="url(#c4)">
<path d="M147.5 1505L152.17 1505 156.83 1505 161.5 1505 166.17 1505 170.83 1505 175.5 1505 180.17 1505 184.83 1505 189.5 1505 194.16 1505 198.83 1505 203.5 1504.98 208.16 1504.95 212.83 1504.92 217.5 1504.88 222.16 1504.83 226.83 1504.77 231.5 1504.7 236.16 1504.62 240.83 1504.53 245.5 1504.42 250.16 1504.3 254.83 1504.17 259.5 1504.03 264.16 1503.87 268.83 1503.69 273.5 1503.5 278.16 1503.29 282.83 1503.06 287.5 1502.82 292.16 1502.56 296.83 1502.28 301.49 1501.98 306.16 1501.65 310.83 1501.31 315.49 1500.95 320.16 1500.56 324.83 1500.16 329.49 1499.73 334.16 1499.27 338.83 1498.79 343.49 1498.29 348.16 1497.76 352.83 1497.21 357.49 1496.63 362.16 1496.03 366.83 1495.4 371.49 1494.74 376.16 1494.06 380.83 1493.34 385.49 1492.6 390.16 1491.83 394.82 1491.03 399.49 1490.21 404.16 1489.35 408.82 1488.46 413.49 1487.54 418.16 1486.59 422.82 1485.61 427.49 1484.6 432.16 1483.56 436.82 1482.48 441.49 1481.37 446.16 1480.23 450.82 1479.06 455.49 1477.86 460.16 1476.62 464.82 1475.34 469.49 1474.04 474.16 1472.69 478.82 1471.32 483.49 1469.91 488.15 1468.47 492.82 1466.99 497.49 1465.47 502.15 1463.92 506.82 1462.34 511.49 1460.72 516.15 1459.06 520.82 1457.37 525.49 1455.64 530.15 1453.88 534.82 1452.08 539.49 1450.25 544.15 1448.37 548.82 1446.47 553.49 1444.52 558.15 1442.54 562.82 1440.52 567.49 1438.47 572.15 1436.38 576.82 1434.25 581.48 1432.09 586.15 1429.89 590.82 1427.65 595.48 1425.38 600.15 1423.07 604.82 1420.73 609.48 1418.34 614.15 1415.93 618.82 1413.47 623.48 1410.98 628.15 1408.45 632.82 1405.89 637.48 1403.29 642.15 1400.66 646.82 1397.99 651.48 1395.28 656.15 1392.54 660.82 1389.76 665.48 1386.95 670.15 1384.1 674.81 1381.22 679.48 1378.31 684.15 1375.36 688.81 1372.37 693.48 1369.35 698.15 1366.3 702.81 1363.22 707.48 1360.1 712.15 1356.95 716.81 1353.76 721.48 1350.55 726.15 1347.3 730.81 1344.02 735.48 1340.7 740.15 1337.36 744.81 1333.99 749.48 1330.58 754.14 1327.15 758.81 1323.68 763.48 1320.19 768.14 1316.66 772.81 1313.11 777.48 1309.53 782.14 1305.92 786.81 1302.28 791.48 1298.62 796.14 1294.93 800.81 1291.21 805.48 1287.47 810.14 1283.7 814.81 1279.91 819.48 1276.09 824.14 1272.25 828.81 1268.38 833.48 1264.49 838.14 1260.58 842.81 1256.65 847.48 1252.69 852.14 1248.72 856.81 1244.72 861.47 1240.7 866.14 1236.67 870.81 1232.61 875.47 1228.54 880.14 1224.45 884.81 1220.34 889.47 1216.22 894.14 1212.08 898.81 1207.92 903.47 1203.75 908.14 1199.57 912.81 1195.37 917.47 1191.16 922.14 1186.94 926.81 1182.71 931.47 1178.47 936.14 1174.21 940.81 1169.95 945.47 1165.68 950.14 1161.4 954.8 1157.12 959.47 1152.83 964.14 1148.53 968.8 1144.23 973.47 1139.93 978.14 1135.62 982.8 1131.31 987.47 1127" fill="none" stroke="#262626" stroke-dasharray="1.7 2.9" stroke-width="1.8"/>
<path d="M147.5 1505L152.17 1505 156.83 1505 161.5 1505 166.17 1505 170.83 1505 175.5 1505 180.17 1505 184.83 1505 189.5 1505 194.16 1505 198.83 1505 203.5 1505 208.16 1505 212.83 1505 217.5 1505 222.16 1505 226.83 1504.96 231.5 1504.92 236.16 1504.87 240.83 1504.8 245.5 1504.73 250.16 1504.65 254.83 1504.55 259.5 1504.44 264.16 1504.32 268.83 1504.19 273.5 1504.04 278.16 1503.88 282.83 1503.7 287.5 1503.51 292.16 1503.3 296.83 1503.08 301.49 1502.83 306.16 1502.57 310.83 1502.29 315.49 1502 320.16 1501.68 324.83 1501.34 329.49 1500.98 334.16 1500.61 338.83 1500.21 343.49 1499.79 348.16 1499.34 352.83 1498.88 357.49 1498.39 362.16 1497.87 366.83 1497.34 371.49 1496.77 376.16 1496.19 380.83 1495.58 385.49 1494.94 390.16 1494.28 394.82 1493.59 399.49 1492.87 404.16 1492.13 408.82 1491.36 413.49 1490.56 418.16 1489.74 422.82 1488.88 427.49 1488 432.16 1487.09 436.82 1486.15 441.49 1485.18 446.16 1484.18 450.82 1483.14 455.49 1482.08 460.16 1480.99 464.82 1479.87 469.49 1478.72 474.16 1477.53 478.82 1476.31 483.49 1475.07 488.15 1473.78 492.82 1472.47 497.49 1471.13 502.15 1469.75 506.82 1468.34 511.49 1466.9 516.15 1465.42 520.82 1463.91 525.49 1462.37 530.15 1460.79 534.82 1459.18 539.49 1457.54 544.15 1455.86 548.82 1454.15 553.49 1452.41 558.15 1450.63 562.82 1448.81 567.49 1446.97 572.15 1445.08 576.82 1443.17 581.48 1441.22 586.15 1439.23 590.82 1437.21 595.48 1435.16 600.15 1433.07 604.82 1430.95 609.48 1428.79 614.15 1426.6 618.82 1424.38 623.48 1422.12 628.15 1419.82 632.82 1417.5 637.48 1415.13 642.15 1412.74 646.82 1410.31 651.48 1407.84 656.15 1405.35 660.82 1402.82 665.48 1400.25 670.15 1397.65 674.81 1395.02 679.48 1392.36 684.15 1389.66 688.81 1386.93 693.48 1384.16 698.15 1381.37 702.81 1378.54 707.48 1375.68 712.15 1372.79 716.81 1369.86 721.48 1366.9 726.15 1363.92 730.81 1360.9 735.48 1357.85 740.15 1354.77 744.81 1351.66 749.48 1348.52 754.14 1345.35 758.81 1342.15 763.48 1338.92 768.14 1335.66 772.81 1332.38 777.48 1329.06 782.14 1325.72 786.81 1322.35 791.48 1318.95 796.14 1315.52 800.81 1312.07 805.48 1308.59 810.14 1305.09 814.81 1301.56 819.48 1298.01 824.14 1294.43 828.81 1290.82 833.48 1287.19 838.14 1283.54 842.81 1279.87 847.48 1276.17 852.14 1272.45 856.81 1268.71 861.47 1264.95 866.14 1261.17 870.81 1257.36 875.47 1253.54 880.14 1249.7 884.81 1245.84 889.47 1241.96 894.14 1238.06 898.81 1234.14 903.47 1230.21 908.14 1226.26 912.81 1222.3 917.47 1218.32 922.14 1214.33 926.81 1210.32 931.47 1206.3 936.14 1202.27 940.81 1198.22 945.47 1194.17 950.14 1190.1 954.8 1186.02 959.47 1181.94 964.14 1177.84 968.8 1173.74 973.47 1169.62 978.14 1165.5 982.8 1161.38 987.47 1157.25" fill="none" stroke="#262626" stroke-dasharray="6.6 5.2" stroke-width="1.9"/>
<path d="M147.5 1505L152.17 1505 156.83 1505 161.5 1505 166.17 1505 170.83 1505 175.5 1505 180.17 1505 184.83 1505 189.5 1505 194.16 1505 198.83 1505 203.5 1505 208.16 1505 212.83 1505 217.5 1505 222.16 1505 226.83 1505 231.5 1505 236.16 1505 240.83 1504.98 245.5 1504.96 250.16 1504.92 254.83 1504.89 259.5 1504.84 264.16 1504.79 268.83 1504.74 273.5 1504.68 278.16 1504.61 282.83 1504.53 287.5 1504.45 292.16 1504.36 296.83 1504.26 301.49 1504.15 306.16 1504.04 310.83 1503.91 315.49 1503.78 320.16 1503.64 324.83 1503.48 329.49 1503.32 334.16 1503.14 338.83 1502.96 343.49 1502.76 348.16 1502.56 352.83 1502.34 357.49 1502.11 362.16 1501.87 366.83 1501.61 371.49 1501.35 376.16 1501.07 380.83 1500.77 385.49 1500.47 390.16 1500.15 394.82 1499.81 399.49 1499.46 404.16 1499.1 408.82 1498.72 413.49 1498.33 418.16 1497.92 422.82 1497.5 427.49 1497.06 432.16 1496.61 436.82 1496.14 441.49 1495.65 446.16 1495.15 450.82 1494.63 455.49 1494.09 460.16 1493.53 464.82 1492.96 469.49 1492.37 474.16 1491.76 478.82 1491.14 483.49 1490.49 488.15 1489.83 492.82 1489.15 497.49 1488.45 502.15 1487.73 506.82 1486.99 511.49 1486.23 516.15 1485.45 520.82 1484.65 525.49 1483.83 530.15 1482.99 534.82 1482.13 539.49 1481.25 544.15 1480.34 548.82 1479.42 553.49 1478.47 558.15 1477.51 562.82 1476.52 567.49 1475.51 572.15 1474.48 576.82 1473.42 581.48 1472.34 586.15 1471.24 590.82 1470.12 595.48 1468.97 600.15 1467.8 604.82 1466.61 609.48 1465.4 614.15 1464.16 618.82 1462.89 623.48 1461.6 628.15 1460.29 632.82 1458.96 637.48 1457.6 642.15 1456.21 646.82 1454.8 651.48 1453.37 656.15 1451.91 660.82 1450.42 665.48 1448.91 670.15 1447.38 674.81 1445.82 679.48 1444.23 684.15 1442.62 688.81 1440.98 693.48 1439.32 698.15 1437.63 702.81 1435.91 707.48 1434.17 712.15 1432.4 716.81 1430.61 721.48 1428.78 726.15 1426.93 730.81 1425.06 735.48 1423.15 740.15 1421.22 744.81 1419.27 749.48 1417.28 754.14 1415.27 758.81 1413.23 763.48 1411.16 768.14 1409.07 772.81 1406.94 777.48 1404.79 782.14 1402.62 786.81 1400.41 791.48 1398.17 796.14 1395.91 800.81 1393.62 805.48 1391.3 810.14 1388.95 814.81 1386.58 819.48 1384.17 824.14 1381.74 828.81 1379.28 833.48 1376.78 838.14 1374.26 842.81 1371.72 847.48 1369.14 852.14 1366.53 856.81 1363.9 861.47 1361.23 866.14 1358.54 870.81 1355.82 875.47 1353.07 880.14 1350.28 884.81 1347.47 889.47 1344.64 894.14 1341.77 898.81 1338.87 903.47 1335.94 908.14 1332.98 912.81 1330 917.47 1326.98 922.14 1323.94 926.81 1320.86 931.47 1317.76 936.14 1314.63 940.81 1311.46 945.47 1308.27 950.14 1305.05 954.8 1301.8 959.47 1298.52 964.14 1295.21 968.8 1291.87 973.47 1288.5 978.14 1285.1 982.8 1281.67 987.47 1278.21" fill="none" stroke="#262626" stroke-dasharray="32.5 7.2 7.2 7.6" stroke-width="1.9"/>
<path d="M147.5 1505L152.17 1505 156.83 1505 161.5 1505 166.17 1505 170.83 1504.99 175.5 1504.99 180.17 1504.98 184.83 1504.97 189.5 1504.96 194.16 1504.95 198.83 1504.94 203.5 1504.92 208.16 1504.91 212.83 1504.89 217.5 1504.86 222.16 1504.84 226.83 1504.81 231.5 1504.78 236.16 1504.74 240.83 1504.7 245.5 1504.66 250.16 1504.61 254.83 1504.56 259.5 1504.51 264.16 1504.45 268.83 1504.39 273.5 1504.32 278.16 1504.24 282.83 1504.17 287.5 1504.08 292.16 1503.99 296.83 1503.9 301.49 1503.8 306.16 1503.69 310.83 1503.58 315.49 1503.46 320.16 1503.34 324.83 1503.2 329.49 1503.07 334.16 1502.92 338.83 1502.77 343.49 1502.61 348.16 1502.44 352.83 1502.26 357.49 1502.08 362.16 1501.89 366.83 1501.69 371.49 1501.48 376.16 1501.26 380.83 1501.03 385.49 1500.8 390.16 1500.55 394.82 1500.3 399.49 1500.04 404.16 1499.76 408.82 1499.48 413.49 1499.19 418.16 1498.88 422.82 1498.57 427.49 1498.24 432.16 1497.91 436.82 1497.56 441.49 1497.2 446.16 1496.83 450.82 1496.45 455.49 1496.05 460.16 1495.65 464.82 1495.23 469.49 1494.8 474.16 1494.35 478.82 1493.89 483.49 1493.42 488.15 1492.94 492.82 1492.44 497.49 1491.93 502.15 1491.41 506.82 1490.87 511.49 1490.32 516.15 1489.75 520.82 1489.17 525.49 1488.57 530.15 1487.96 534.82 1487.33 539.49 1486.69 544.15 1486.03 548.82 1485.35 553.49 1484.66 558.15 1483.95 562.82 1483.23 567.49 1482.49 572.15 1481.73 576.82 1480.95 581.48 1480.16 586.15 1479.35 590.82 1478.52 595.48 1477.67 600.15 1476.81 604.82 1475.92 609.48 1475.02 614.15 1474.1 618.82 1473.16 623.48 1472.2 628.15 1471.22 632.82 1470.22 637.48 1469.2 642.15 1468.16 646.82 1467.1 651.48 1466.02 656.15 1464.92 660.82 1463.79 665.48 1462.65 670.15 1461.48 674.81 1460.29 679.48 1459.08 684.15 1457.85 688.81 1456.6 693.48 1455.32 698.15 1454.02 702.81 1452.7 707.48 1451.35 712.15 1449.98 716.81 1448.58 721.48 1447.16 726.15 1445.72 730.81 1444.25 735.48 1442.76 740.15 1441.24 744.81 1439.7 749.48 1438.13 754.14 1436.54 758.81 1434.92 763.48 1433.27 768.14 1431.6 772.81 1429.9 777.48 1428.17 782.14 1426.42 786.81 1424.64 791.48 1422.83 796.14 1421 800.81 1419.13 805.48 1417.24 810.14 1415.32 814.81 1413.37 819.48 1411.39 824.14 1409.38 828.81 1407.34 833.48 1405.27 838.14 1403.18 842.81 1401.05 847.48 1398.89 852.14 1396.7 856.81 1394.48 861.47 1392.23 866.14 1389.95 870.81 1387.63 875.47 1385.28 880.14 1382.91 884.81 1380.49 889.47 1378.05 894.14 1375.57 898.81 1373.06 903.47 1370.52 908.14 1367.94 912.81 1365.33 917.47 1362.68 922.14 1360 926.81 1357.28 931.47 1354.53 936.14 1351.75 940.81 1348.93 945.47 1346.07 950.14 1343.18 954.8 1340.25 959.47 1337.28 964.14 1334.28 968.8 1331.24 973.47 1328.16 978.14 1325.04 982.8 1321.89 987.47 1318.7" fill="none" stroke="#262626" stroke-width="1.9"/>
<path d="M147.5 1505L152.17 1505 156.83 1505 161.5 1505 166.17 1505 170.83 1505 175.5 1504.99 180.17 1504.99 184.83 1504.99 189.5 1504.98 194.16 1504.98 198.83 1504.97 203.5 1504.97 208.16 1504.96 212.83 1504.96 217.5 1504.95 222.16 1504.94 226.83 1504.93 231.5 1504.92 236.16 1504.91 240.83 1504.9 245.5 1504.89 250.16 1504.87 254.83 1504.86 259.5 1504.84 264.16 1504.82 268.83 1504.8 273.5 1504.78 278.16 1504.76 282.83 1504.74 287.5 1504.71 292.16 1504.68 296.83 1504.65 301.49 1504.62 306.16 1504.58 310.83 1504.55 315.49 1504.51 320.16 1504.47 324.83 1504.42 329.49 1504.38 334.16 1504.33 338.83 1504.27 343.49 1504.22 348.16 1504.16 352.83 1504.1 357.49 1504.03 362.16 1503.96 366.83 1503.89 371.49 1503.81 376.16 1503.73 380.83 1503.64 385.49 1503.55 390.16 1503.45 394.82 1503.35 399.49 1503.25 404.16 1503.14 408.82 1503.02 413.49 1502.9 418.16 1502.77 422.82 1502.64 427.49 1502.5 432.16 1502.36 436.82 1502.21 441.49 1502.05 446.16 1501.88 450.82 1501.71 455.49 1501.53 460.16 1501.35 464.82 1501.15 469.49 1500.95 474.16 1500.74 478.82 1500.52 483.49 1500.29 488.15 1500.06 492.82 1499.82 497.49 1499.56 502.15 1499.3 506.82 1499.03 511.49 1498.74 516.15 1498.45 520.82 1498.15 525.49 1497.83 530.15 1497.51 534.82 1497.17 539.49 1496.83 544.15 1496.47 548.82 1496.1 553.49 1495.71 558.15 1495.32 562.82 1494.91 567.49 1494.49 572.15 1494.05 576.82 1493.6 581.48 1493.14 586.15 1492.66 590.82 1492.17 595.48 1491.67 600.15 1491.14 604.82 1490.61 609.48 1490.06 614.15 1489.49 618.82 1488.9 623.48 1488.3 628.15 1487.68 632.82 1487.05 637.48 1486.39 642.15 1485.72 646.82 1485.03 651.48 1484.33 656.15 1483.6 660.82 1482.85 665.48 1482.09 670.15 1481.3 674.81 1480.49 679.48 1479.67 684.15 1478.82 688.81 1477.95 693.48 1477.06 698.15 1476.15 702.81 1475.21 707.48 1474.25 712.15 1473.27 716.81 1472.26 721.48 1471.23 726.15 1470.18 730.81 1469.1 735.48 1468 740.15 1466.87 744.81 1465.71 749.48 1464.53 754.14 1463.32 758.81 1462.08 763.48 1460.82 768.14 1459.53 772.81 1458.21 777.48 1456.86 782.14 1455.48 786.81 1454.07 791.48 1452.63 796.14 1451.16 800.81 1449.66 805.48 1448.13 810.14 1446.57 814.81 1444.97 819.48 1443.35 824.14 1441.69 828.81 1439.99 833.48 1438.26 838.14 1436.5 842.81 1434.7 847.48 1432.86 852.14 1430.99 856.81 1429.09 861.47 1427.14 866.14 1425.16 870.81 1423.14 875.47 1421.08 880.14 1418.99 884.81 1416.85 889.47 1414.68 894.14 1412.46 898.81 1410.2 903.47 1407.91 908.14 1405.57 912.81 1403.18 917.47 1400.76 922.14 1398.29 926.81 1395.78 931.47 1393.22 936.14 1390.62 940.81 1387.97 945.47 1385.28 950.14 1382.54 954.8 1379.75 959.47 1376.91 964.14 1374.03 968.8 1371.1 973.47 1368.12 978.14 1365.09 982.8 1362.01 987.47 1358.87" fill="none" stroke="#262626" stroke-dasharray="22.7 7.9" stroke-width="1.9"/>
</g>
<rect x="147.5" y="1033.5" width="839.97" height="471.5" fill="none" stroke="#262626" stroke-width="2.0"/>
<path d="M166.17 1505v-5.5M166.17 1033.5v5.5M184.83 1505v-5.5M184.83 1033.5v5.5M203.5 1505v-5.5M203.5 1033.5v5.5M222.16 1505v-5.5M222.16 1033.5v5.5M259.5 1505v-5.5M259.5 1033.5v5.5M278.16 1505v-5.5M278.16 1033.5v5.5M296.83 1505v-5.5M296.83 1033.5v5.5M315.49 1505v-5.5M315.49 1033.5v5.5M352.83 1505v-5.5M352.83 1033.5v5.5M371.49 1505v-5.5M371.49 1033.5v5.5M390.16 1505v-5.5M390.16 1033.5v5.5M408.82 1505v-5.5M408.82 1033.5v5.5M446.16 1505v-5.5M446.16 1033.5v5.5M464.82 1505v-5.5M464.82 1033.5v5.5M483.49 1505v-5.5M483.49 1033.5v5.5M502.15 1505v-5.5M502.15 1033.5v5.5M539.49 1505v-5.5M539.49 1033.5v5.5M558.15 1505v-5.5M558.15 1033.5v5.5M576.82 1505v-5.5M576.82 1033.5v5.5M595.48 1505v-5.5M595.48 1033.5v5.5M632.82 1505v-5.5M632.82 1033.5v5.5M651.48 1505v-5.5M651.48 1033.5v5.5M670.15 1505v-5.5M670.15 1033.5v5.5M688.81 1505v-5.5M688.81 1033.5v5.5M726.15 1505v-5.5M726.15 1033.5v5.5M744.81 1505v-5.5M744.81 1033.5v5.5M763.48 1505v-5.5M763.48 1033.5v5.5M782.14 1505v-5.5M782.14 1033.5v5.5M819.48 1505v-5.5M819.48 1033.5v5.5M838.14 1505v-5.5M838.14 1033.5v5.5M856.81 1505v-5.5M856.81 1033.5v5.5M875.47 1505v-5.5M875.47 1033.5v5.5M912.81 1505v-5.5M912.81 1033.5v5.5M931.47 1505v-5.5M931.47 1033.5v5.5M950.14 1505v-5.5M950.14 1033.5v5.5M968.8 1505v-5.5M968.8 1033.5v5.5" stroke="#262626" stroke-width="1.9" fill="none"/>
<path d="M147.5 1505v-11.5M147.5 1033.5v11.5M240.83 1505v-11.5M240.83 1033.5v11.5M334.16 1505v-11.5M334.16 1033.5v11.5M427.49 1505v-11.5M427.49 1033.5v11.5M520.82 1505v-11.5M520.82 1033.5v11.5M614.15 1505v-11.5M614.15 1033.5v11.5M707.48 1505v-11.5M707.48 1033.5v11.5M800.81 1505v-11.5M800.81 1033.5v11.5M894.14 1505v-11.5M894.14 1033.5v11.5M987.47 1505v-11.5M987.47 1033.5v11.5" stroke="#262626" stroke-width="1.9" fill="none"/>
<path d="M147.5 1486.14h10M987.47 1486.14h-10M147.5 1467.28h10M987.47 1467.28h-10M147.5 1448.42h10M987.47 1448.42h-10M147.5 1429.56h10M987.47 1429.56h-10M147.5 1391.84h10M987.47 1391.84h-10M147.5 1372.98h10M987.47 1372.98h-10M147.5 1354.12h10M987.47 1354.12h-10M147.5 1335.26h10M987.47 1335.26h-10M147.5 1297.54h10M987.47 1297.54h-10M147.5 1278.68h10M987.47 1278.68h-10M147.5 1259.82h10M987.47 1259.82h-10M147.5 1240.96h10M987.47 1240.96h-10M147.5 1203.24h10M987.47 1203.24h-10M147.5 1184.38h10M987.47 1184.38h-10M147.5 1165.52h10M987.47 1165.52h-10M147.5 1146.66h10M987.47 1146.66h-10M147.5 1108.94h10M987.47 1108.94h-10M147.5 1090.08h10M987.47 1090.08h-10M147.5 1071.22h10M987.47 1071.22h-10M147.5 1052.36h10M987.47 1052.36h-10" stroke="#262626" stroke-width="1.9" fill="none"/>
<path d="M147.5 1505h19.5M987.47 1505h-19.5M147.5 1410.7h19.5M987.47 1410.7h-19.5M147.5 1316.4h19.5M987.47 1316.4h-19.5M147.5 1222.1h19.5M987.47 1222.1h-19.5M147.5 1127.8h19.5M987.47 1127.8h-19.5M147.5 1033.5h19.5M987.47 1033.5h-19.5" stroke="#262626" stroke-width="1.9" fill="none"/>
<path d="M209 1098.5H354" fill="none" stroke="#262626" stroke-dasharray="1.7 2.9" stroke-width="1.8"/>
<path d="M209 1157.2H354" fill="none" stroke="#262626" stroke-dasharray="6.6 5.2" stroke-width="1.9"/>
<path d="M209 1215.8H354" fill="none" stroke="#262626" stroke-dasharray="32.5 7.2 7.2 7.6" stroke-width="1.9"/>
<path d="M209 1274.7H354" fill="none" stroke="#262626" stroke-width="1.9"/>
<path d="M209 1333.5H354" fill="none" stroke="#262626" stroke-dasharray="22.7 7.9" stroke-width="1.9"/>
<text x="371.07" y="1110" font-size="37.6" font-family='"Liberation Sans", Arial, sans-serif' fill="#232323" >h/r= 0</text>
<text x="371.07" y="1168.7" font-size="37.6" font-family='"Liberation Sans", Arial, sans-serif' fill="#232323" >h/r= 0.2</text>
<text x="370.69" y="1227.3" font-size="37.6" font-family='"Liberation Sans", Arial, sans-serif' fill="#232323" >No-grid case</text>
<text x="371.07" y="1286.2" font-size="37.6" font-family='"Liberation Sans", Arial, sans-serif' fill="#232323" >h/r= 0.6</text>
<text x="371.07" y="1345" font-size="37.6" font-family='"Liberation Sans", Arial, sans-serif' fill="#232323" >h/r= 1.0</text>
<text x="78.47" y="1047.06" font-size="33.5" font-family='"Liberation Sans", Arial, sans-serif' fill="#232323" >1.0</text>
<text x="78.81" y="1139.86" font-size="33.5" font-family='"Liberation Sans", Arial, sans-serif' fill="#232323" >0.8</text>
<text x="78.81" y="1234.76" font-size="33.5" font-family='"Liberation Sans", Arial, sans-serif' fill="#232323" >0.6</text>
<text x="78.14" y="1327.36" font-size="33.5" font-family='"Liberation Sans", Arial, sans-serif' fill="#232323" >0.4</text>
<text x="78.81" y="1422.26" font-size="33.5" font-family='"Liberation Sans", Arial, sans-serif' fill="#232323" >0.2</text>
<text x="106.28" y="1514.86" font-size="33.5" font-family='"Liberation Sans", Arial, sans-serif' fill="#232323" >0</text>
<text x="136.02" y="1543" font-size="33.5" font-family='"Liberation Sans", Arial, sans-serif' fill="#232323" >0</text>
<text x="216.97" y="1543" font-size="33.5" font-family='"Liberation Sans", Arial, sans-serif' fill="#232323" >10</text>
<text x="313.77" y="1543" font-size="33.5" font-family='"Liberation Sans", Arial, sans-serif' fill="#232323" >20</text>
<text x="406.54" y="1543" font-size="33.5" font-family='"Liberation Sans", Arial, sans-serif' fill="#232323" >30</text>
<text x="498.78" y="1543" font-size="33.5" font-family='"Liberation Sans", Arial, sans-serif' fill="#232323" >40</text>
<text x="595.84" y="1543" font-size="33.5" font-family='"Liberation Sans", Arial, sans-serif' fill="#232323" >50</text>
<text x="688.47" y="1543" font-size="33.5" font-family='"Liberation Sans", Arial, sans-serif' fill="#232323" >60</text>
<text x="780.17" y="1543" font-size="33.5" font-family='"Liberation Sans", Arial, sans-serif' fill="#232323" >70</text>
<text x="873.44" y="1543" font-size="33.5" font-family='"Liberation Sans", Arial, sans-serif' fill="#232323" >80</text>
<text x="960.07" y="1543" font-size="33.5" font-family='"Liberation Sans", Arial, sans-serif' fill="#232323" >90</text>
<text x="-38.69" y="1265.8" font-size="37.6" font-family='"Liberation Sans", Arial, sans-serif' fill="#232323" transform="rotate(-90 32.0 1265.8)">SA [mm]</text>
<clipPath id="c5"><rect x="145.2" y="1571.6" width="842.4" height="470.4"/></clipPath><g clip-path="url(#c5)">
<path d="M145.2 2042L149.88 2038.82 154.56 2035.62 159.24 2032.4 163.92 2029.16 168.6 2025.91 173.28 2022.64 177.96 2019.35 182.64 2016.05 187.32 2012.73 192 2009.4 196.68 2006.05 201.36 2002.69 206.04 1999.32 210.72 1995.94 215.4 1992.54 220.08 1989.13 224.76 1985.72 229.44 1982.29 234.12 1978.86 238.8 1975.41 243.48 1971.96 248.16 1968.5 252.84 1965.03 257.52 1961.56 262.2 1958.08 266.88 1954.6 271.56 1951.11 276.24 1947.62 280.92 1944.12 285.6 1940.62 290.28 1937.12 294.96 1933.61 299.64 1930.11 304.32 1926.6 309 1923.09 313.68 1919.58 318.36 1916.07 323.04 1912.57 327.72 1909.06 332.4 1905.56 337.08 1902.05 341.76 1898.55 346.44 1895.06 351.12 1891.56 355.8 1888.08 360.48 1884.59 365.16 1881.11 369.84 1877.64 374.52 1874.17 379.2 1870.71 383.88 1867.25 388.56 1863.81 393.24 1860.37 397.92 1856.94 402.6 1853.51 407.28 1850.1 411.96 1846.69 416.64 1843.3 421.32 1839.91 426 1836.54 430.68 1833.17 435.36 1829.82 440.04 1826.48 444.72 1823.15 449.4 1819.83 454.08 1816.53 458.76 1813.24 463.44 1809.96 468.12 1806.7 472.8 1803.45 477.48 1800.22 482.16 1797 486.84 1793.8 491.52 1790.61 496.2 1787.44 500.88 1784.28 505.56 1781.14 510.24 1778.02 514.92 1774.91 519.6 1771.83 524.28 1768.76 528.96 1765.71 533.64 1762.68 538.32 1759.66 543 1756.67 547.68 1753.69 552.36 1750.74 557.04 1747.8 561.72 1744.89 566.4 1742 571.08 1739.12 575.76 1736.27 580.44 1733.44 585.12 1730.63 589.8 1727.85 594.48 1725.08 599.16 1722.34 603.84 1719.62 608.52 1716.93 613.2 1714.25 617.88 1711.6 622.56 1708.98 627.24 1706.37 631.92 1703.8 636.6 1701.24 641.28 1698.71 645.96 1696.21 650.64 1693.73 655.32 1691.28 660 1688.85 664.68 1686.44 669.36 1684.07 674.04 1681.71 678.72 1679.39 683.4 1677.09 688.08 1674.82 692.76 1672.57 697.44 1670.35 702.12 1668.16 706.8 1665.99 711.48 1663.85 716.16 1661.74 720.84 1659.66 725.52 1657.61 730.2 1655.58 734.88 1653.58 739.56 1651.61 744.24 1649.66 748.92 1647.75 753.6 1645.86 758.28 1644.01 762.96 1642.18 767.64 1640.38 772.32 1638.6 777 1636.86 781.68 1635.15 786.36 1633.47 791.04 1631.81 795.72 1630.19 800.4 1628.59 805.08 1627.02 809.76 1625.49 814.44 1623.98 819.12 1622.5 823.8 1621.05 828.48 1619.64 833.16 1618.25 837.84 1616.89 842.52 1615.56 847.2 1614.27 851.88 1613 856.56 1611.76 861.24 1610.55 865.92 1609.37 870.6 1608.23 875.28 1607.11 879.96 1606.02 884.64 1604.96 889.32 1603.94 894 1602.94 898.68 1601.97 903.36 1601.04 908.04 1600.13 912.72 1599.26 917.4 1598.41 922.08 1597.59 926.76 1596.81 931.44 1596.05 936.12 1595.33 940.8 1594.63 945.48 1593.96 950.16 1593.33 954.84 1592.72 959.52 1592.14 964.2 1591.6 968.88 1591.08 973.56 1590.59 978.24 1590.13 982.92 1589.7 987.6 1589.3" fill="none" stroke="#262626" stroke-dasharray="32.5 7.2 7.2 7.6" stroke-width="1.9"/>
<path d="M145.2 2042L149.88 2039.44 154.56 2036.85 159.24 2034.22 163.92 2031.55 168.6 2028.85 173.28 2026.11 177.96 2023.34 182.64 2020.54 187.32 2017.71 192 2014.84 196.68 2011.95 201.36 2009.03 206.04 2006.09 210.72 2003.11 215.4 2000.12 220.08 1997.09 224.76 1994.05 229.44 1990.98 234.12 1987.89 238.8 1984.78 243.48 1981.65 248.16 1978.5 252.84 1975.34 257.52 1972.15 262.2 1968.95 266.88 1965.74 271.56 1962.51 276.24 1959.26 280.92 1956.01 285.6 1952.74 290.28 1949.46 294.96 1946.17 299.64 1942.87 304.32 1939.56 309 1936.24 313.68 1932.92 318.36 1929.58 323.04 1926.25 327.72 1922.9 332.4 1919.56 337.08 1916.21 341.76 1912.85 346.44 1909.5 351.12 1906.14 355.8 1902.78 360.48 1899.42 365.16 1896.06 369.84 1892.71 374.52 1889.35 379.2 1886 383.88 1882.65 388.56 1879.3 393.24 1875.96 397.92 1872.63 402.6 1869.29 407.28 1865.97 411.96 1862.65 416.64 1859.34 421.32 1856.04 426 1852.74 430.68 1849.46 435.36 1846.18 440.04 1842.92 444.72 1839.66 449.4 1836.42 454.08 1833.19 458.76 1829.97 463.44 1826.76 468.12 1823.57 472.8 1820.39 477.48 1817.22 482.16 1814.07 486.84 1810.94 491.52 1807.82 496.2 1804.71 500.88 1801.63 505.56 1798.56 510.24 1795.5 514.92 1792.47 519.6 1789.45 524.28 1786.45 528.96 1783.47 533.64 1780.51 538.32 1777.57 543 1774.65 547.68 1771.75 552.36 1768.87 557.04 1766.01 561.72 1763.17 566.4 1760.36 571.08 1757.56 575.76 1754.79 580.44 1752.04 585.12 1749.32 589.8 1746.62 594.48 1743.94 599.16 1741.28 603.84 1738.65 608.52 1736.05 613.2 1733.46 617.88 1730.91 622.56 1728.37 627.24 1725.87 631.92 1723.39 636.6 1720.93 641.28 1718.5 645.96 1716.09 650.64 1713.72 655.32 1711.36 660 1709.04 664.68 1706.74 669.36 1704.47 674.04 1702.22 678.72 1700 683.4 1697.81 688.08 1695.65 692.76 1693.51 697.44 1691.4 702.12 1689.32 706.8 1687.27 711.48 1685.24 716.16 1683.24 720.84 1681.27 725.52 1679.33 730.2 1677.41 734.88 1675.52 739.56 1673.66 744.24 1671.83 748.92 1670.03 753.6 1668.25 758.28 1666.5 762.96 1664.78 767.64 1663.09 772.32 1661.43 777 1659.79 781.68 1658.18 786.36 1656.6 791.04 1655.04 795.72 1653.52 800.4 1652.02 805.08 1650.55 809.76 1649.1 814.44 1647.68 819.12 1646.29 823.8 1644.93 828.48 1643.59 833.16 1642.28 837.84 1641 842.52 1639.74 847.2 1638.51 851.88 1637.3 856.56 1636.12 861.24 1634.96 865.92 1633.83 870.6 1632.73 875.28 1631.65 879.96 1630.59 884.64 1629.56 889.32 1628.56 894 1627.57 898.68 1626.61 903.36 1625.68 908.04 1624.76 912.72 1623.87 917.4 1623.01 922.08 1622.16 926.76 1621.34 931.44 1620.54 936.12 1619.75 940.8 1618.99 945.48 1618.25 950.16 1617.54 954.84 1616.84 959.52 1616.16 964.2 1615.5 968.88 1614.85 973.56 1614.23 978.24 1613.62 982.92 1613.04 987.6 1612.46" fill="none" stroke="#262626" stroke-dasharray="22.7 7.9" stroke-width="1.9"/>
<path d="M145.2 2042L149.88 2039.49 154.56 2036.96 159.24 2034.4 163.92 2031.82 168.6 2029.23 173.28 2026.61 177.96 2023.97 182.64 2021.31 187.32 2018.64 192 2015.95 196.68 2013.24 201.36 2010.51 206.04 2007.77 210.72 2005.02 215.4 2002.25 220.08 1999.46 224.76 1996.66 229.44 1993.85 234.12 1991.03 238.8 1988.19 243.48 1985.35 248.16 1982.49 252.84 1979.63 257.52 1976.75 262.2 1973.87 266.88 1970.97 271.56 1968.07 276.24 1965.16 280.92 1962.25 285.6 1959.33 290.28 1956.4 294.96 1953.47 299.64 1950.53 304.32 1947.59 309 1944.65 313.68 1941.7 318.36 1938.75 323.04 1935.8 327.72 1932.85 332.4 1929.89 337.08 1926.94 341.76 1923.98 346.44 1921.03 351.12 1918.07 355.8 1915.12 360.48 1912.17 365.16 1909.22 369.84 1906.27 374.52 1903.32 379.2 1900.38 383.88 1897.45 388.56 1894.51 393.24 1891.58 397.92 1888.66 402.6 1885.74 407.28 1882.83 411.96 1879.93 416.64 1877.03 421.32 1874.14 426 1871.25 430.68 1868.38 435.36 1865.51 440.04 1862.65 444.72 1859.8 449.4 1856.96 454.08 1854.13 458.76 1851.31 463.44 1848.5 468.12 1845.7 472.8 1842.91 477.48 1840.13 482.16 1837.37 486.84 1834.61 491.52 1831.87 496.2 1829.14 500.88 1826.43 505.56 1823.73 510.24 1821.04 514.92 1818.37 519.6 1815.71 524.28 1813.07 528.96 1810.44 533.64 1807.82 538.32 1805.22 543 1802.64 547.68 1800.08 552.36 1797.52 557.04 1794.99 561.72 1792.47 566.4 1789.98 571.08 1787.49 575.76 1785.03 580.44 1782.58 585.12 1780.15 589.8 1777.74 594.48 1775.35 599.16 1772.98 603.84 1770.62 608.52 1768.29 613.2 1765.98 617.88 1763.68 622.56 1761.4 627.24 1759.15 631.92 1756.91 636.6 1754.7 641.28 1752.5 645.96 1750.33 650.64 1748.18 655.32 1746.04 660 1743.93 664.68 1741.85 669.36 1739.78 674.04 1737.73 678.72 1735.71 683.4 1733.71 688.08 1731.73 692.76 1729.77 697.44 1727.84 702.12 1725.92 706.8 1724.03 711.48 1722.17 716.16 1720.32 720.84 1718.5 725.52 1716.7 730.2 1714.93 734.88 1713.18 739.56 1711.45 744.24 1709.75 748.92 1708.06 753.6 1706.41 758.28 1704.77 762.96 1703.16 767.64 1701.58 772.32 1700.01 777 1698.48 781.68 1696.96 786.36 1695.47 791.04 1694.01 795.72 1692.56 800.4 1691.14 805.08 1689.75 809.76 1688.38 814.44 1687.03 819.12 1685.71 823.8 1684.42 828.48 1683.14 833.16 1681.89 837.84 1680.67 842.52 1679.47 847.2 1678.29 851.88 1677.14 856.56 1676.01 861.24 1674.91 865.92 1673.83 870.6 1672.77 875.28 1671.74 879.96 1670.73 884.64 1669.74 889.32 1668.78 894 1667.84 898.68 1666.93 903.36 1666.04 908.04 1665.17 912.72 1664.33 917.4 1663.51 922.08 1662.71 926.76 1661.94 931.44 1661.19 936.12 1660.46 940.8 1659.76 945.48 1659.08 950.16 1658.42 954.84 1657.78 959.52 1657.17 964.2 1656.57 968.88 1656 973.56 1655.46 978.24 1654.93 982.92 1654.43 987.6 1653.94" fill="none" stroke="#262626" stroke-width="1.9"/>
<path d="M145.2 2042L149.88 2039.87 154.56 2037.72 159.24 2035.55 163.92 2033.36 168.6 2031.15 173.28 2028.93 177.96 2026.68 182.64 2024.42 187.32 2022.15 192 2019.86 196.68 2017.55 201.36 2015.23 206.04 2012.9 210.72 2010.55 215.4 2008.19 220.08 2005.82 224.76 2003.44 229.44 2001.05 234.12 1998.65 238.8 1996.23 243.48 1993.81 248.16 1991.38 252.84 1988.94 257.52 1986.5 262.2 1984.04 266.88 1981.58 271.56 1979.12 276.24 1976.65 280.92 1974.17 285.6 1971.69 290.28 1969.21 294.96 1966.72 299.64 1964.23 304.32 1961.74 309 1959.25 313.68 1956.75 318.36 1954.25 323.04 1951.75 327.72 1949.26 332.4 1946.76 337.08 1944.26 341.76 1941.77 346.44 1939.27 351.12 1936.78 355.8 1934.29 360.48 1931.81 365.16 1929.33 369.84 1926.85 374.52 1924.37 379.2 1921.9 383.88 1919.44 388.56 1916.98 393.24 1914.52 397.92 1912.07 402.6 1909.63 407.28 1907.2 411.96 1904.77 416.64 1902.35 421.32 1899.94 426 1897.54 430.68 1895.14 435.36 1892.76 440.04 1890.38 444.72 1888.02 449.4 1885.66 454.08 1883.32 458.76 1880.98 463.44 1878.66 468.12 1876.34 472.8 1874.04 477.48 1871.75 482.16 1869.48 486.84 1867.21 491.52 1864.96 496.2 1862.72 500.88 1860.5 505.56 1858.29 510.24 1856.09 514.92 1853.91 519.6 1851.74 524.28 1849.58 528.96 1847.44 533.64 1845.32 538.32 1843.21 543 1841.12 547.68 1839.04 552.36 1836.98 557.04 1834.93 561.72 1832.9 566.4 1830.89 571.08 1828.9 575.76 1826.92 580.44 1824.96 585.12 1823.02 589.8 1821.09 594.48 1819.18 599.16 1817.29 603.84 1815.42 608.52 1813.57 613.2 1811.73 617.88 1809.92 622.56 1808.12 627.24 1806.34 631.92 1804.58 636.6 1802.84 641.28 1801.12 645.96 1799.42 650.64 1797.74 655.32 1796.07 660 1794.43 664.68 1792.81 669.36 1791.21 674.04 1789.62 678.72 1788.06 683.4 1786.52 688.08 1785 692.76 1783.5 697.44 1782.01 702.12 1780.55 706.8 1779.11 711.48 1777.69 716.16 1776.3 720.84 1774.92 725.52 1773.56 730.2 1772.22 734.88 1770.91 739.56 1769.61 744.24 1768.34 748.92 1767.09 753.6 1765.85 758.28 1764.64 762.96 1763.45 767.64 1762.28 772.32 1761.13 777 1760 781.68 1758.9 786.36 1757.81 791.04 1756.75 795.72 1755.7 800.4 1754.68 805.08 1753.67 809.76 1752.69 814.44 1751.73 819.12 1750.79 823.8 1749.86 828.48 1748.96 833.16 1748.08 837.84 1747.22 842.52 1746.38 847.2 1745.56 851.88 1744.76 856.56 1743.98 861.24 1743.22 865.92 1742.47 870.6 1741.75 875.28 1741.05 879.96 1740.36 884.64 1739.7 889.32 1739.05 894 1738.43 898.68 1737.82 903.36 1737.23 908.04 1736.66 912.72 1736.11 917.4 1735.57 922.08 1735.05 926.76 1734.55 931.44 1734.07 936.12 1733.61 940.8 1733.16 945.48 1732.73 950.16 1732.32 954.84 1731.92 959.52 1731.54 964.2 1731.17 968.88 1730.83 973.56 1730.49 978.24 1730.18 982.92 1729.87 987.6 1729.59" fill="none" stroke="#262626" stroke-dasharray="6.6 5.2" stroke-width="1.9"/>
<path d="M145.2 2042L149.88 2040.04 154.56 2038.06 159.24 2036.06 163.92 2034.04 168.6 2031.99 173.28 2029.93 177.96 2027.85 182.64 2025.75 187.32 2023.64 192 2021.51 196.68 2019.36 201.36 2017.2 206.04 2015.02 210.72 2012.82 215.4 2010.62 220.08 2008.4 224.76 2006.17 229.44 2003.93 234.12 2001.67 238.8 1999.41 243.48 1997.14 248.16 1994.85 252.84 1992.56 257.52 1990.26 262.2 1987.96 266.88 1985.64 271.56 1983.32 276.24 1981 280.92 1978.67 285.6 1976.33 290.28 1973.99 294.96 1971.65 299.64 1969.3 304.32 1966.95 309 1964.6 313.68 1962.25 318.36 1959.89 323.04 1957.54 327.72 1955.18 332.4 1952.83 337.08 1950.47 341.76 1948.12 346.44 1945.77 351.12 1943.42 355.8 1941.08 360.48 1938.74 365.16 1936.4 369.84 1934.06 374.52 1931.73 379.2 1929.41 383.88 1927.09 388.56 1924.77 393.24 1922.47 397.92 1920.16 402.6 1917.87 407.28 1915.58 411.96 1913.3 416.64 1911.03 421.32 1908.77 426 1906.52 430.68 1904.27 435.36 1902.04 440.04 1899.81 444.72 1897.6 449.4 1895.4 454.08 1893.2 458.76 1891.02 463.44 1888.85 468.12 1886.7 472.8 1884.55 477.48 1882.42 482.16 1880.3 486.84 1878.19 491.52 1876.1 496.2 1874.02 500.88 1871.96 505.56 1869.9 510.24 1867.87 514.92 1865.85 519.6 1863.84 524.28 1861.85 528.96 1859.88 533.64 1857.92 538.32 1855.97 543 1854.05 547.68 1852.14 552.36 1850.24 557.04 1848.37 561.72 1846.51 566.4 1844.67 571.08 1842.84 575.76 1841.04 580.44 1839.25 585.12 1837.48 589.8 1835.72 594.48 1833.99 599.16 1832.28 603.84 1830.58 608.52 1828.9 613.2 1827.25 617.88 1825.61 622.56 1823.99 627.24 1822.39 631.92 1820.81 636.6 1819.25 641.28 1817.71 645.96 1816.19 650.64 1814.69 655.32 1813.21 660 1811.75 664.68 1810.31 669.36 1808.89 674.04 1807.49 678.72 1806.11 683.4 1804.75 688.08 1803.41 692.76 1802.1 697.44 1800.8 702.12 1799.53 706.8 1798.27 711.48 1797.04 716.16 1795.83 720.84 1794.64 725.52 1793.46 730.2 1792.31 734.88 1791.19 739.56 1790.08 744.24 1788.99 748.92 1787.92 753.6 1786.88 758.28 1785.85 762.96 1784.85 767.64 1783.86 772.32 1782.9 777 1781.96 781.68 1781.04 786.36 1780.13 791.04 1779.25 795.72 1778.39 800.4 1777.55 805.08 1776.73 809.76 1775.93 814.44 1775.15 819.12 1774.39 823.8 1773.65 828.48 1772.93 833.16 1772.23 837.84 1771.54 842.52 1770.88 847.2 1770.23 851.88 1769.61 856.56 1769 861.24 1768.41 865.92 1767.85 870.6 1767.29 875.28 1766.76 879.96 1766.25 884.64 1765.75 889.32 1765.27 894 1764.81 898.68 1764.36 903.36 1763.93 908.04 1763.52 912.72 1763.12 917.4 1762.75 922.08 1762.38 926.76 1762.04 931.44 1761.7 936.12 1761.39 940.8 1761.09 945.48 1760.8 950.16 1760.53 954.84 1760.27 959.52 1760.03 964.2 1759.8 968.88 1759.58 973.56 1759.38 978.24 1759.19 982.92 1759.01 987.6 1758.84" fill="none" stroke="#262626" stroke-dasharray="1.7 2.9" stroke-width="1.8"/>
</g>
<rect x="145.2" y="1571.6" width="842.4" height="470.4" fill="none" stroke="#262626" stroke-width="2.0"/>
<path d="M163.92 2042v-5.5M163.92 1571.6v5.5M182.64 2042v-5.5M182.64 1571.6v5.5M201.36 2042v-5.5M201.36 1571.6v5.5M220.08 2042v-5.5M220.08 1571.6v5.5M257.52 2042v-5.5M257.52 1571.6v5.5M276.24 2042v-5.5M276.24 1571.6v5.5M294.96 2042v-5.5M294.96 1571.6v5.5M313.68 2042v-5.5M313.68 1571.6v5.5M351.12 2042v-5.5M351.12 1571.6v5.5M369.84 2042v-5.5M369.84 1571.6v5.5M388.56 2042v-5.5M388.56 1571.6v5.5M407.28 2042v-5.5M407.28 1571.6v5.5M444.72 2042v-5.5M444.72 1571.6v5.5M463.44 2042v-5.5M463.44 1571.6v5.5M482.16 2042v-5.5M482.16 1571.6v5.5M500.88 2042v-5.5M500.88 1571.6v5.5M538.32 2042v-5.5M538.32 1571.6v5.5M557.04 2042v-5.5M557.04 1571.6v5.5M575.76 2042v-5.5M575.76 1571.6v5.5M594.48 2042v-5.5M594.48 1571.6v5.5M631.92 2042v-5.5M631.92 1571.6v5.5M650.64 2042v-5.5M650.64 1571.6v5.5M669.36 2042v-5.5M669.36 1571.6v5.5M688.08 2042v-5.5M688.08 1571.6v5.5M725.52 2042v-5.5M725.52 1571.6v5.5M744.24 2042v-5.5M744.24 1571.6v5.5M762.96 2042v-5.5M762.96 1571.6v5.5M781.68 2042v-5.5M781.68 1571.6v5.5M819.12 2042v-5.5M819.12 1571.6v5.5M837.84 2042v-5.5M837.84 1571.6v5.5M856.56 2042v-5.5M856.56 1571.6v5.5M875.28 2042v-5.5M875.28 1571.6v5.5M912.72 2042v-5.5M912.72 1571.6v5.5M931.44 2042v-5.5M931.44 1571.6v5.5M950.16 2042v-5.5M950.16 1571.6v5.5M968.88 2042v-5.5M968.88 1571.6v5.5" stroke="#262626" stroke-width="1.9" fill="none"/>
<path d="M145.2 2042v-11.5M145.2 1571.6v11.5M238.8 2042v-11.5M238.8 1571.6v11.5M332.4 2042v-11.5M332.4 1571.6v11.5M426 2042v-11.5M426 1571.6v11.5M519.6 2042v-11.5M519.6 1571.6v11.5M613.2 2042v-11.5M613.2 1571.6v11.5M706.8 2042v-11.5M706.8 1571.6v11.5M800.4 2042v-11.5M800.4 1571.6v11.5M894 2042v-11.5M894 1571.6v11.5M987.6 2042v-11.5M987.6 1571.6v11.5" stroke="#262626" stroke-width="1.9" fill="none"/>
<path d="M145.2 2019.6h10M987.6 2019.6h-10M145.2 1997.2h10M987.6 1997.2h-10M145.2 1974.8h10M987.6 1974.8h-10M145.2 1952.4h10M987.6 1952.4h-10M145.2 1907.6h10M987.6 1907.6h-10M145.2 1885.2h10M987.6 1885.2h-10M145.2 1862.8h10M987.6 1862.8h-10M145.2 1840.4h10M987.6 1840.4h-10M145.2 1795.6h10M987.6 1795.6h-10M145.2 1773.2h10M987.6 1773.2h-10M145.2 1750.8h10M987.6 1750.8h-10M145.2 1728.4h10M987.6 1728.4h-10M145.2 1683.6h10M987.6 1683.6h-10M145.2 1661.2h10M987.6 1661.2h-10M145.2 1638.8h10M987.6 1638.8h-10M145.2 1616.4h10M987.6 1616.4h-10M145.2 1571.6h10M987.6 1571.6h-10" stroke="#262626" stroke-width="1.9" fill="none"/>
<path d="M145.2 2042h20M145.2 1930h20M145.2 1818h20M145.2 1706h20M145.2 1594h20" stroke="#262626" stroke-width="1.9" fill="none"/>
<path d="M145.2 2042h20M987.6 2042h-20M145.2 1930h20M987.6 1930h-20M145.2 1818h20M987.6 1818h-20M145.2 1706h20M987.6 1706h-20" stroke="#262626" stroke-width="1.9" fill="none"/>
<path d="M977.6 1594h0M987.6 1594h-0" stroke="#262626" stroke-width="1.9" fill="none"/>
<text x="86.42" y="1587.26" font-size="33.5" font-family='"Liberation Sans", Arial, sans-serif' fill="#232323" >20</text>
<text x="86.42" y="1716.69" font-size="33.5" font-family='"Liberation Sans", Arial, sans-serif' fill="#232323" >15</text>
<text x="86.42" y="1827.56" font-size="33.5" font-family='"Liberation Sans", Arial, sans-serif' fill="#232323" >10</text>
<text x="105.18" y="1941.39" font-size="33.5" font-family='"Liberation Sans", Arial, sans-serif' fill="#232323" >5</text>
<text x="105.18" y="2050.16" font-size="33.5" font-family='"Liberation Sans", Arial, sans-serif' fill="#232323" >0</text>
<text x="136.02" y="2081.5" font-size="33.5" font-family='"Liberation Sans", Arial, sans-serif' fill="#232323" >0</text>
<text x="216.97" y="2081.5" font-size="33.5" font-family='"Liberation Sans", Arial, sans-serif' fill="#232323" >10</text>
<text x="313.77" y="2081.5" font-size="33.5" font-family='"Liberation Sans", Arial, sans-serif' fill="#232323" >20</text>
<text x="406.54" y="2081.5" font-size="33.5" font-family='"Liberation Sans", Arial, sans-serif' fill="#232323" >30</text>
<text x="498.78" y="2081.5" font-size="33.5" font-family='"Liberation Sans", Arial, sans-serif' fill="#232323" >40</text>
<text x="595.84" y="2081.5" font-size="33.5" font-family='"Liberation Sans", Arial, sans-serif' fill="#232323" >50</text>
<text x="688.47" y="2081.5" font-size="33.5" font-family='"Liberation Sans", Arial, sans-serif' fill="#232323" >60</text>
<text x="780.17" y="2081.5" font-size="33.5" font-family='"Liberation Sans", Arial, sans-serif' fill="#232323" >70</text>
<text x="873.44" y="2081.5" font-size="33.5" font-family='"Liberation Sans", Arial, sans-serif' fill="#232323" >80</text>
<text x="960.07" y="2081.5" font-size="33.5" font-family='"Liberation Sans", Arial, sans-serif' fill="#232323" >90</text>
<g transform="rotate(-90 38.5 1816.5)"><text x="38.5" y="1816.5" font-size="37.6" text-anchor="middle" fill="#232323" font-family='"Liberation Sans", Arial, sans-serif'><tspan font-family='"Liberation Serif", serif'>θ</tspan>′ [deg]</text></g>
<text x="572" y="2122.5" font-size="37.6" text-anchor="middle" fill="#232323" font-family='"Liberation Sans", Arial, sans-serif'><tspan font-family='"Liberation Serif", serif'>θ</tspan> [deg]</text>
<text x="11.96" y="33.5" font-size="34" font-family='"Liberation Sans", Arial, sans-serif' fill="#232323" >(a)</text>
<text x="11.96" y="1044.8" font-size="34" font-family='"Liberation Sans", Arial, sans-serif' fill="#232323" >(b)</text>
</svg></body></html>
